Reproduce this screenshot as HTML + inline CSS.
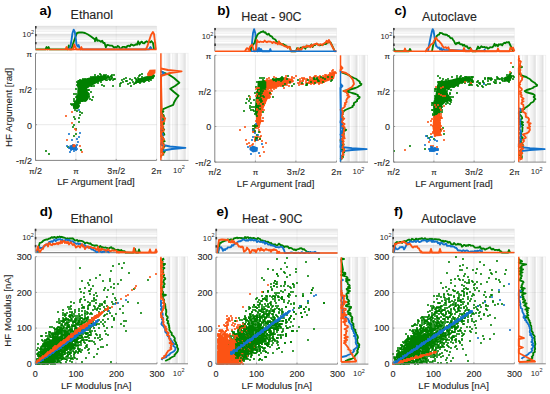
<!DOCTYPE html><html><head><meta charset="utf-8"><style>html,body{margin:0;padding:0;background:#fff;width:550px;height:394px;overflow:hidden}svg{display:block}</style></head><body>
<svg width="550" height="394" viewBox="0 0 550 394" font-family='"Liberation Sans", sans-serif'>
<rect width="550" height="394" fill="#fff"/>
<rect x="35.5" y="26" width="121.1" height="23.4" fill="#ffffff"/>
<line x1="35.5" y1="31.5" x2="156.6" y2="31.5" stroke="#000" stroke-width="0.8" stroke-opacity="0.07" />
<line x1="35.5" y1="30.1" x2="156.6" y2="30.1" stroke="#000" stroke-width="0.8" stroke-opacity="0.07" />
<line x1="35.5" y1="29.2" x2="156.6" y2="29.2" stroke="#000" stroke-width="0.8" stroke-opacity="0.07" />
<line x1="35.5" y1="28.4" x2="156.6" y2="28.4" stroke="#000" stroke-width="0.8" stroke-opacity="0.07" />
<line x1="35.5" y1="27.8" x2="156.6" y2="27.8" stroke="#000" stroke-width="0.8" stroke-opacity="0.07" />
<line x1="35.5" y1="27.2" x2="156.6" y2="27.2" stroke="#000" stroke-width="0.8" stroke-opacity="0.07" />
<line x1="35.5" y1="26.8" x2="156.6" y2="26.8" stroke="#000" stroke-width="0.8" stroke-opacity="0.07" />
<line x1="35.5" y1="26.4" x2="156.6" y2="26.4" stroke="#000" stroke-width="0.8" stroke-opacity="0.07" />
<line x1="35.5" y1="26" x2="156.6" y2="26" stroke="#000" stroke-width="0.6" stroke-opacity="0.06" />
<line x1="35.5" y1="39.5" x2="156.6" y2="39.5" stroke="#000" stroke-width="0.8" stroke-opacity="0.07" />
<line x1="35.5" y1="38.1" x2="156.6" y2="38.1" stroke="#000" stroke-width="0.8" stroke-opacity="0.07" />
<line x1="35.5" y1="37.1" x2="156.6" y2="37.1" stroke="#000" stroke-width="0.8" stroke-opacity="0.07" />
<line x1="35.5" y1="36.3" x2="156.6" y2="36.3" stroke="#000" stroke-width="0.8" stroke-opacity="0.07" />
<line x1="35.5" y1="35.7" x2="156.6" y2="35.7" stroke="#000" stroke-width="0.8" stroke-opacity="0.07" />
<line x1="35.5" y1="35.2" x2="156.6" y2="35.2" stroke="#000" stroke-width="0.8" stroke-opacity="0.07" />
<line x1="35.5" y1="34.7" x2="156.6" y2="34.7" stroke="#000" stroke-width="0.8" stroke-opacity="0.07" />
<line x1="35.5" y1="34.3" x2="156.6" y2="34.3" stroke="#000" stroke-width="0.8" stroke-opacity="0.07" />
<line x1="35.5" y1="33.9" x2="156.6" y2="33.9" stroke="#000" stroke-width="0.6" stroke-opacity="0.06" />
<line x1="35.5" y1="47.4" x2="156.6" y2="47.4" stroke="#000" stroke-width="0.8" stroke-opacity="0.07" />
<line x1="35.5" y1="46" x2="156.6" y2="46" stroke="#000" stroke-width="0.8" stroke-opacity="0.07" />
<line x1="35.5" y1="45" x2="156.6" y2="45" stroke="#000" stroke-width="0.8" stroke-opacity="0.07" />
<line x1="35.5" y1="44.3" x2="156.6" y2="44.3" stroke="#000" stroke-width="0.8" stroke-opacity="0.07" />
<line x1="35.5" y1="43.6" x2="156.6" y2="43.6" stroke="#000" stroke-width="0.8" stroke-opacity="0.07" />
<line x1="35.5" y1="43.1" x2="156.6" y2="43.1" stroke="#000" stroke-width="0.8" stroke-opacity="0.07" />
<line x1="35.5" y1="42.6" x2="156.6" y2="42.6" stroke="#000" stroke-width="0.8" stroke-opacity="0.07" />
<line x1="35.5" y1="42.2" x2="156.6" y2="42.2" stroke="#000" stroke-width="0.8" stroke-opacity="0.07" />
<line x1="35.5" y1="41.9" x2="156.6" y2="41.9" stroke="#000" stroke-width="0.6" stroke-opacity="0.06" />
<line x1="75.9" y1="26" x2="75.9" y2="49.4" stroke="#000" stroke-width="0.6" stroke-opacity="0.08" />
<line x1="116.2" y1="26" x2="116.2" y2="49.4" stroke="#000" stroke-width="0.6" stroke-opacity="0.08" />
<line x1="156.6" y1="26" x2="156.6" y2="49.4" stroke="#000" stroke-width="0.6" stroke-opacity="0.08" />
<rect x="160.6" y="53.3" width="27.9" height="107.1" fill="#ffffff"/>
<line x1="164.7" y1="53.3" x2="164.7" y2="160.4" stroke="#000" stroke-width="0.8" stroke-opacity="0.07" />
<line x1="166.1" y1="53.3" x2="166.1" y2="160.4" stroke="#000" stroke-width="0.8" stroke-opacity="0.07" />
<line x1="167.1" y1="53.3" x2="167.1" y2="160.4" stroke="#000" stroke-width="0.8" stroke-opacity="0.07" />
<line x1="167.8" y1="53.3" x2="167.8" y2="160.4" stroke="#000" stroke-width="0.8" stroke-opacity="0.07" />
<line x1="168.4" y1="53.3" x2="168.4" y2="160.4" stroke="#000" stroke-width="0.8" stroke-opacity="0.07" />
<line x1="168.9" y1="53.3" x2="168.9" y2="160.4" stroke="#000" stroke-width="0.8" stroke-opacity="0.07" />
<line x1="169.4" y1="53.3" x2="169.4" y2="160.4" stroke="#000" stroke-width="0.8" stroke-opacity="0.07" />
<line x1="169.8" y1="53.3" x2="169.8" y2="160.4" stroke="#000" stroke-width="0.8" stroke-opacity="0.07" />
<line x1="162.4" y1="53.3" x2="162.4" y2="160.4" stroke="#000" stroke-width="0.6" stroke-opacity="0.06" />
<line x1="172.5" y1="53.3" x2="172.5" y2="160.4" stroke="#000" stroke-width="0.8" stroke-opacity="0.07" />
<line x1="173.8" y1="53.3" x2="173.8" y2="160.4" stroke="#000" stroke-width="0.8" stroke-opacity="0.07" />
<line x1="174.8" y1="53.3" x2="174.8" y2="160.4" stroke="#000" stroke-width="0.8" stroke-opacity="0.07" />
<line x1="175.6" y1="53.3" x2="175.6" y2="160.4" stroke="#000" stroke-width="0.8" stroke-opacity="0.07" />
<line x1="176.2" y1="53.3" x2="176.2" y2="160.4" stroke="#000" stroke-width="0.8" stroke-opacity="0.07" />
<line x1="176.7" y1="53.3" x2="176.7" y2="160.4" stroke="#000" stroke-width="0.8" stroke-opacity="0.07" />
<line x1="177.1" y1="53.3" x2="177.1" y2="160.4" stroke="#000" stroke-width="0.8" stroke-opacity="0.07" />
<line x1="177.5" y1="53.3" x2="177.5" y2="160.4" stroke="#000" stroke-width="0.8" stroke-opacity="0.07" />
<line x1="170.2" y1="53.3" x2="170.2" y2="160.4" stroke="#000" stroke-width="0.6" stroke-opacity="0.06" />
<line x1="180.2" y1="53.3" x2="180.2" y2="160.4" stroke="#000" stroke-width="0.8" stroke-opacity="0.07" />
<line x1="181.6" y1="53.3" x2="181.6" y2="160.4" stroke="#000" stroke-width="0.8" stroke-opacity="0.07" />
<line x1="182.6" y1="53.3" x2="182.6" y2="160.4" stroke="#000" stroke-width="0.8" stroke-opacity="0.07" />
<line x1="183.3" y1="53.3" x2="183.3" y2="160.4" stroke="#000" stroke-width="0.8" stroke-opacity="0.07" />
<line x1="183.9" y1="53.3" x2="183.9" y2="160.4" stroke="#000" stroke-width="0.8" stroke-opacity="0.07" />
<line x1="184.4" y1="53.3" x2="184.4" y2="160.4" stroke="#000" stroke-width="0.8" stroke-opacity="0.07" />
<line x1="184.9" y1="53.3" x2="184.9" y2="160.4" stroke="#000" stroke-width="0.8" stroke-opacity="0.07" />
<line x1="185.3" y1="53.3" x2="185.3" y2="160.4" stroke="#000" stroke-width="0.8" stroke-opacity="0.07" />
<line x1="177.9" y1="53.3" x2="177.9" y2="160.4" stroke="#000" stroke-width="0.6" stroke-opacity="0.06" />
<line x1="188" y1="53.3" x2="188" y2="160.4" stroke="#000" stroke-width="0.8" stroke-opacity="0.07" />
<line x1="185.7" y1="53.3" x2="185.7" y2="160.4" stroke="#000" stroke-width="0.6" stroke-opacity="0.06" />
<line x1="160.6" y1="53.3" x2="188.5" y2="53.3" stroke="#000" stroke-width="0.6" stroke-opacity="0.08" />
<line x1="160.6" y1="89" x2="188.5" y2="89" stroke="#000" stroke-width="0.6" stroke-opacity="0.08" />
<line x1="160.6" y1="124.7" x2="188.5" y2="124.7" stroke="#000" stroke-width="0.6" stroke-opacity="0.08" />
<line x1="75.9" y1="53.3" x2="75.9" y2="160.4" stroke="#000" stroke-width="0.7" stroke-opacity="0.13" />
<line x1="116.2" y1="53.3" x2="116.2" y2="160.4" stroke="#000" stroke-width="0.7" stroke-opacity="0.13" />
<line x1="156.6" y1="53.3" x2="156.6" y2="160.4" stroke="#000" stroke-width="0.7" stroke-opacity="0.13" />
<line x1="35.5" y1="53.3" x2="156.6" y2="53.3" stroke="#000" stroke-width="0.7" stroke-opacity="0.13" />
<line x1="35.5" y1="89" x2="156.6" y2="89" stroke="#000" stroke-width="0.7" stroke-opacity="0.13" />
<line x1="35.5" y1="124.7" x2="156.6" y2="124.7" stroke="#000" stroke-width="0.7" stroke-opacity="0.13" />
<rect x="214.8" y="27.9" width="121.7" height="23.2" fill="#ffffff"/>
<line x1="214.8" y1="33.4" x2="336.5" y2="33.4" stroke="#000" stroke-width="0.8" stroke-opacity="0.07" />
<line x1="214.8" y1="32" x2="336.5" y2="32" stroke="#000" stroke-width="0.8" stroke-opacity="0.07" />
<line x1="214.8" y1="31" x2="336.5" y2="31" stroke="#000" stroke-width="0.8" stroke-opacity="0.07" />
<line x1="214.8" y1="30.3" x2="336.5" y2="30.3" stroke="#000" stroke-width="0.8" stroke-opacity="0.07" />
<line x1="214.8" y1="29.6" x2="336.5" y2="29.6" stroke="#000" stroke-width="0.8" stroke-opacity="0.07" />
<line x1="214.8" y1="29.1" x2="336.5" y2="29.1" stroke="#000" stroke-width="0.8" stroke-opacity="0.07" />
<line x1="214.8" y1="28.7" x2="336.5" y2="28.7" stroke="#000" stroke-width="0.8" stroke-opacity="0.07" />
<line x1="214.8" y1="28.3" x2="336.5" y2="28.3" stroke="#000" stroke-width="0.8" stroke-opacity="0.07" />
<line x1="214.8" y1="27.9" x2="336.5" y2="27.9" stroke="#000" stroke-width="0.6" stroke-opacity="0.06" />
<line x1="214.8" y1="41.3" x2="336.5" y2="41.3" stroke="#000" stroke-width="0.8" stroke-opacity="0.07" />
<line x1="214.8" y1="39.9" x2="336.5" y2="39.9" stroke="#000" stroke-width="0.8" stroke-opacity="0.07" />
<line x1="214.8" y1="38.9" x2="336.5" y2="38.9" stroke="#000" stroke-width="0.8" stroke-opacity="0.07" />
<line x1="214.8" y1="38.1" x2="336.5" y2="38.1" stroke="#000" stroke-width="0.8" stroke-opacity="0.07" />
<line x1="214.8" y1="37.5" x2="336.5" y2="37.5" stroke="#000" stroke-width="0.8" stroke-opacity="0.07" />
<line x1="214.8" y1="37" x2="336.5" y2="37" stroke="#000" stroke-width="0.8" stroke-opacity="0.07" />
<line x1="214.8" y1="36.5" x2="336.5" y2="36.5" stroke="#000" stroke-width="0.8" stroke-opacity="0.07" />
<line x1="214.8" y1="36.1" x2="336.5" y2="36.1" stroke="#000" stroke-width="0.8" stroke-opacity="0.07" />
<line x1="214.8" y1="35.8" x2="336.5" y2="35.8" stroke="#000" stroke-width="0.6" stroke-opacity="0.06" />
<line x1="214.8" y1="49.1" x2="336.5" y2="49.1" stroke="#000" stroke-width="0.8" stroke-opacity="0.07" />
<line x1="214.8" y1="47.7" x2="336.5" y2="47.7" stroke="#000" stroke-width="0.8" stroke-opacity="0.07" />
<line x1="214.8" y1="46.8" x2="336.5" y2="46.8" stroke="#000" stroke-width="0.8" stroke-opacity="0.07" />
<line x1="214.8" y1="46" x2="336.5" y2="46" stroke="#000" stroke-width="0.8" stroke-opacity="0.07" />
<line x1="214.8" y1="45.4" x2="336.5" y2="45.4" stroke="#000" stroke-width="0.8" stroke-opacity="0.07" />
<line x1="214.8" y1="44.8" x2="336.5" y2="44.8" stroke="#000" stroke-width="0.8" stroke-opacity="0.07" />
<line x1="214.8" y1="44.4" x2="336.5" y2="44.4" stroke="#000" stroke-width="0.8" stroke-opacity="0.07" />
<line x1="214.8" y1="44" x2="336.5" y2="44" stroke="#000" stroke-width="0.8" stroke-opacity="0.07" />
<line x1="214.8" y1="43.6" x2="336.5" y2="43.6" stroke="#000" stroke-width="0.6" stroke-opacity="0.06" />
<line x1="255.4" y1="27.9" x2="255.4" y2="51.1" stroke="#000" stroke-width="0.6" stroke-opacity="0.08" />
<line x1="295.9" y1="27.9" x2="295.9" y2="51.1" stroke="#000" stroke-width="0.6" stroke-opacity="0.08" />
<line x1="336.5" y1="27.9" x2="336.5" y2="51.1" stroke="#000" stroke-width="0.6" stroke-opacity="0.08" />
<rect x="340.1" y="55.3" width="27.9" height="106.8" fill="#ffffff"/>
<line x1="344.2" y1="55.3" x2="344.2" y2="162.1" stroke="#000" stroke-width="0.8" stroke-opacity="0.07" />
<line x1="345.6" y1="55.3" x2="345.6" y2="162.1" stroke="#000" stroke-width="0.8" stroke-opacity="0.07" />
<line x1="346.6" y1="55.3" x2="346.6" y2="162.1" stroke="#000" stroke-width="0.8" stroke-opacity="0.07" />
<line x1="347.3" y1="55.3" x2="347.3" y2="162.1" stroke="#000" stroke-width="0.8" stroke-opacity="0.07" />
<line x1="347.9" y1="55.3" x2="347.9" y2="162.1" stroke="#000" stroke-width="0.8" stroke-opacity="0.07" />
<line x1="348.4" y1="55.3" x2="348.4" y2="162.1" stroke="#000" stroke-width="0.8" stroke-opacity="0.07" />
<line x1="348.9" y1="55.3" x2="348.9" y2="162.1" stroke="#000" stroke-width="0.8" stroke-opacity="0.07" />
<line x1="349.3" y1="55.3" x2="349.3" y2="162.1" stroke="#000" stroke-width="0.8" stroke-opacity="0.07" />
<line x1="341.9" y1="55.3" x2="341.9" y2="162.1" stroke="#000" stroke-width="0.6" stroke-opacity="0.06" />
<line x1="352" y1="55.3" x2="352" y2="162.1" stroke="#000" stroke-width="0.8" stroke-opacity="0.07" />
<line x1="353.3" y1="55.3" x2="353.3" y2="162.1" stroke="#000" stroke-width="0.8" stroke-opacity="0.07" />
<line x1="354.3" y1="55.3" x2="354.3" y2="162.1" stroke="#000" stroke-width="0.8" stroke-opacity="0.07" />
<line x1="355.1" y1="55.3" x2="355.1" y2="162.1" stroke="#000" stroke-width="0.8" stroke-opacity="0.07" />
<line x1="355.7" y1="55.3" x2="355.7" y2="162.1" stroke="#000" stroke-width="0.8" stroke-opacity="0.07" />
<line x1="356.2" y1="55.3" x2="356.2" y2="162.1" stroke="#000" stroke-width="0.8" stroke-opacity="0.07" />
<line x1="356.6" y1="55.3" x2="356.6" y2="162.1" stroke="#000" stroke-width="0.8" stroke-opacity="0.07" />
<line x1="357" y1="55.3" x2="357" y2="162.1" stroke="#000" stroke-width="0.8" stroke-opacity="0.07" />
<line x1="349.7" y1="55.3" x2="349.7" y2="162.1" stroke="#000" stroke-width="0.6" stroke-opacity="0.06" />
<line x1="359.7" y1="55.3" x2="359.7" y2="162.1" stroke="#000" stroke-width="0.8" stroke-opacity="0.07" />
<line x1="361.1" y1="55.3" x2="361.1" y2="162.1" stroke="#000" stroke-width="0.8" stroke-opacity="0.07" />
<line x1="362.1" y1="55.3" x2="362.1" y2="162.1" stroke="#000" stroke-width="0.8" stroke-opacity="0.07" />
<line x1="362.8" y1="55.3" x2="362.8" y2="162.1" stroke="#000" stroke-width="0.8" stroke-opacity="0.07" />
<line x1="363.4" y1="55.3" x2="363.4" y2="162.1" stroke="#000" stroke-width="0.8" stroke-opacity="0.07" />
<line x1="363.9" y1="55.3" x2="363.9" y2="162.1" stroke="#000" stroke-width="0.8" stroke-opacity="0.07" />
<line x1="364.4" y1="55.3" x2="364.4" y2="162.1" stroke="#000" stroke-width="0.8" stroke-opacity="0.07" />
<line x1="364.8" y1="55.3" x2="364.8" y2="162.1" stroke="#000" stroke-width="0.8" stroke-opacity="0.07" />
<line x1="357.4" y1="55.3" x2="357.4" y2="162.1" stroke="#000" stroke-width="0.6" stroke-opacity="0.06" />
<line x1="367.5" y1="55.3" x2="367.5" y2="162.1" stroke="#000" stroke-width="0.8" stroke-opacity="0.07" />
<line x1="365.2" y1="55.3" x2="365.2" y2="162.1" stroke="#000" stroke-width="0.6" stroke-opacity="0.06" />
<line x1="340.1" y1="55.3" x2="368" y2="55.3" stroke="#000" stroke-width="0.6" stroke-opacity="0.08" />
<line x1="340.1" y1="90.9" x2="368" y2="90.9" stroke="#000" stroke-width="0.6" stroke-opacity="0.08" />
<line x1="340.1" y1="126.5" x2="368" y2="126.5" stroke="#000" stroke-width="0.6" stroke-opacity="0.08" />
<line x1="255.4" y1="55.3" x2="255.4" y2="162.1" stroke="#000" stroke-width="0.7" stroke-opacity="0.13" />
<line x1="295.9" y1="55.3" x2="295.9" y2="162.1" stroke="#000" stroke-width="0.7" stroke-opacity="0.13" />
<line x1="336.5" y1="55.3" x2="336.5" y2="162.1" stroke="#000" stroke-width="0.7" stroke-opacity="0.13" />
<line x1="214.8" y1="55.3" x2="336.5" y2="55.3" stroke="#000" stroke-width="0.7" stroke-opacity="0.13" />
<line x1="214.8" y1="90.9" x2="336.5" y2="90.9" stroke="#000" stroke-width="0.7" stroke-opacity="0.13" />
<line x1="214.8" y1="126.5" x2="336.5" y2="126.5" stroke="#000" stroke-width="0.7" stroke-opacity="0.13" />
<rect x="393.6" y="27.9" width="120.8" height="23.2" fill="#ffffff"/>
<line x1="393.6" y1="33.4" x2="514.4" y2="33.4" stroke="#000" stroke-width="0.8" stroke-opacity="0.07" />
<line x1="393.6" y1="32" x2="514.4" y2="32" stroke="#000" stroke-width="0.8" stroke-opacity="0.07" />
<line x1="393.6" y1="31" x2="514.4" y2="31" stroke="#000" stroke-width="0.8" stroke-opacity="0.07" />
<line x1="393.6" y1="30.3" x2="514.4" y2="30.3" stroke="#000" stroke-width="0.8" stroke-opacity="0.07" />
<line x1="393.6" y1="29.6" x2="514.4" y2="29.6" stroke="#000" stroke-width="0.8" stroke-opacity="0.07" />
<line x1="393.6" y1="29.1" x2="514.4" y2="29.1" stroke="#000" stroke-width="0.8" stroke-opacity="0.07" />
<line x1="393.6" y1="28.7" x2="514.4" y2="28.7" stroke="#000" stroke-width="0.8" stroke-opacity="0.07" />
<line x1="393.6" y1="28.3" x2="514.4" y2="28.3" stroke="#000" stroke-width="0.8" stroke-opacity="0.07" />
<line x1="393.6" y1="27.9" x2="514.4" y2="27.9" stroke="#000" stroke-width="0.6" stroke-opacity="0.06" />
<line x1="393.6" y1="41.3" x2="514.4" y2="41.3" stroke="#000" stroke-width="0.8" stroke-opacity="0.07" />
<line x1="393.6" y1="39.9" x2="514.4" y2="39.9" stroke="#000" stroke-width="0.8" stroke-opacity="0.07" />
<line x1="393.6" y1="38.9" x2="514.4" y2="38.9" stroke="#000" stroke-width="0.8" stroke-opacity="0.07" />
<line x1="393.6" y1="38.1" x2="514.4" y2="38.1" stroke="#000" stroke-width="0.8" stroke-opacity="0.07" />
<line x1="393.6" y1="37.5" x2="514.4" y2="37.5" stroke="#000" stroke-width="0.8" stroke-opacity="0.07" />
<line x1="393.6" y1="37" x2="514.4" y2="37" stroke="#000" stroke-width="0.8" stroke-opacity="0.07" />
<line x1="393.6" y1="36.5" x2="514.4" y2="36.5" stroke="#000" stroke-width="0.8" stroke-opacity="0.07" />
<line x1="393.6" y1="36.1" x2="514.4" y2="36.1" stroke="#000" stroke-width="0.8" stroke-opacity="0.07" />
<line x1="393.6" y1="35.8" x2="514.4" y2="35.8" stroke="#000" stroke-width="0.6" stroke-opacity="0.06" />
<line x1="393.6" y1="49.1" x2="514.4" y2="49.1" stroke="#000" stroke-width="0.8" stroke-opacity="0.07" />
<line x1="393.6" y1="47.7" x2="514.4" y2="47.7" stroke="#000" stroke-width="0.8" stroke-opacity="0.07" />
<line x1="393.6" y1="46.8" x2="514.4" y2="46.8" stroke="#000" stroke-width="0.8" stroke-opacity="0.07" />
<line x1="393.6" y1="46" x2="514.4" y2="46" stroke="#000" stroke-width="0.8" stroke-opacity="0.07" />
<line x1="393.6" y1="45.4" x2="514.4" y2="45.4" stroke="#000" stroke-width="0.8" stroke-opacity="0.07" />
<line x1="393.6" y1="44.8" x2="514.4" y2="44.8" stroke="#000" stroke-width="0.8" stroke-opacity="0.07" />
<line x1="393.6" y1="44.4" x2="514.4" y2="44.4" stroke="#000" stroke-width="0.8" stroke-opacity="0.07" />
<line x1="393.6" y1="44" x2="514.4" y2="44" stroke="#000" stroke-width="0.8" stroke-opacity="0.07" />
<line x1="393.6" y1="43.6" x2="514.4" y2="43.6" stroke="#000" stroke-width="0.6" stroke-opacity="0.06" />
<line x1="433.9" y1="27.9" x2="433.9" y2="51.1" stroke="#000" stroke-width="0.6" stroke-opacity="0.08" />
<line x1="474.1" y1="27.9" x2="474.1" y2="51.1" stroke="#000" stroke-width="0.6" stroke-opacity="0.08" />
<line x1="514.4" y1="27.9" x2="514.4" y2="51.1" stroke="#000" stroke-width="0.6" stroke-opacity="0.08" />
<rect x="518.4" y="55.3" width="27.8" height="106.8" fill="#ffffff"/>
<line x1="522.5" y1="55.3" x2="522.5" y2="162.1" stroke="#000" stroke-width="0.8" stroke-opacity="0.07" />
<line x1="523.9" y1="55.3" x2="523.9" y2="162.1" stroke="#000" stroke-width="0.8" stroke-opacity="0.07" />
<line x1="524.8" y1="55.3" x2="524.8" y2="162.1" stroke="#000" stroke-width="0.8" stroke-opacity="0.07" />
<line x1="525.6" y1="55.3" x2="525.6" y2="162.1" stroke="#000" stroke-width="0.8" stroke-opacity="0.07" />
<line x1="526.2" y1="55.3" x2="526.2" y2="162.1" stroke="#000" stroke-width="0.8" stroke-opacity="0.07" />
<line x1="526.7" y1="55.3" x2="526.7" y2="162.1" stroke="#000" stroke-width="0.8" stroke-opacity="0.07" />
<line x1="527.2" y1="55.3" x2="527.2" y2="162.1" stroke="#000" stroke-width="0.8" stroke-opacity="0.07" />
<line x1="527.6" y1="55.3" x2="527.6" y2="162.1" stroke="#000" stroke-width="0.8" stroke-opacity="0.07" />
<line x1="520.2" y1="55.3" x2="520.2" y2="162.1" stroke="#000" stroke-width="0.6" stroke-opacity="0.06" />
<line x1="530.2" y1="55.3" x2="530.2" y2="162.1" stroke="#000" stroke-width="0.8" stroke-opacity="0.07" />
<line x1="531.6" y1="55.3" x2="531.6" y2="162.1" stroke="#000" stroke-width="0.8" stroke-opacity="0.07" />
<line x1="532.6" y1="55.3" x2="532.6" y2="162.1" stroke="#000" stroke-width="0.8" stroke-opacity="0.07" />
<line x1="533.3" y1="55.3" x2="533.3" y2="162.1" stroke="#000" stroke-width="0.8" stroke-opacity="0.07" />
<line x1="533.9" y1="55.3" x2="533.9" y2="162.1" stroke="#000" stroke-width="0.8" stroke-opacity="0.07" />
<line x1="534.4" y1="55.3" x2="534.4" y2="162.1" stroke="#000" stroke-width="0.8" stroke-opacity="0.07" />
<line x1="534.9" y1="55.3" x2="534.9" y2="162.1" stroke="#000" stroke-width="0.8" stroke-opacity="0.07" />
<line x1="535.3" y1="55.3" x2="535.3" y2="162.1" stroke="#000" stroke-width="0.8" stroke-opacity="0.07" />
<line x1="527.9" y1="55.3" x2="527.9" y2="162.1" stroke="#000" stroke-width="0.6" stroke-opacity="0.06" />
<line x1="538" y1="55.3" x2="538" y2="162.1" stroke="#000" stroke-width="0.8" stroke-opacity="0.07" />
<line x1="539.3" y1="55.3" x2="539.3" y2="162.1" stroke="#000" stroke-width="0.8" stroke-opacity="0.07" />
<line x1="540.3" y1="55.3" x2="540.3" y2="162.1" stroke="#000" stroke-width="0.8" stroke-opacity="0.07" />
<line x1="541" y1="55.3" x2="541" y2="162.1" stroke="#000" stroke-width="0.8" stroke-opacity="0.07" />
<line x1="541.7" y1="55.3" x2="541.7" y2="162.1" stroke="#000" stroke-width="0.8" stroke-opacity="0.07" />
<line x1="542.2" y1="55.3" x2="542.2" y2="162.1" stroke="#000" stroke-width="0.8" stroke-opacity="0.07" />
<line x1="542.6" y1="55.3" x2="542.6" y2="162.1" stroke="#000" stroke-width="0.8" stroke-opacity="0.07" />
<line x1="543" y1="55.3" x2="543" y2="162.1" stroke="#000" stroke-width="0.8" stroke-opacity="0.07" />
<line x1="535.6" y1="55.3" x2="535.6" y2="162.1" stroke="#000" stroke-width="0.6" stroke-opacity="0.06" />
<line x1="545.7" y1="55.3" x2="545.7" y2="162.1" stroke="#000" stroke-width="0.8" stroke-opacity="0.07" />
<line x1="543.4" y1="55.3" x2="543.4" y2="162.1" stroke="#000" stroke-width="0.6" stroke-opacity="0.06" />
<line x1="518.4" y1="55.3" x2="546.2" y2="55.3" stroke="#000" stroke-width="0.6" stroke-opacity="0.08" />
<line x1="518.4" y1="90.9" x2="546.2" y2="90.9" stroke="#000" stroke-width="0.6" stroke-opacity="0.08" />
<line x1="518.4" y1="126.5" x2="546.2" y2="126.5" stroke="#000" stroke-width="0.6" stroke-opacity="0.08" />
<line x1="433.9" y1="55.3" x2="433.9" y2="162.1" stroke="#000" stroke-width="0.7" stroke-opacity="0.13" />
<line x1="474.1" y1="55.3" x2="474.1" y2="162.1" stroke="#000" stroke-width="0.7" stroke-opacity="0.13" />
<line x1="514.4" y1="55.3" x2="514.4" y2="162.1" stroke="#000" stroke-width="0.7" stroke-opacity="0.13" />
<line x1="393.6" y1="55.3" x2="514.4" y2="55.3" stroke="#000" stroke-width="0.7" stroke-opacity="0.13" />
<line x1="393.6" y1="90.9" x2="514.4" y2="90.9" stroke="#000" stroke-width="0.7" stroke-opacity="0.13" />
<line x1="393.6" y1="126.5" x2="514.4" y2="126.5" stroke="#000" stroke-width="0.7" stroke-opacity="0.13" />
<rect x="35.3" y="228.8" width="121.7" height="23.8" fill="#ffffff"/>
<line x1="35.3" y1="234.4" x2="157" y2="234.4" stroke="#000" stroke-width="0.8" stroke-opacity="0.07" />
<line x1="35.3" y1="233" x2="157" y2="233" stroke="#000" stroke-width="0.8" stroke-opacity="0.07" />
<line x1="35.3" y1="232" x2="157" y2="232" stroke="#000" stroke-width="0.8" stroke-opacity="0.07" />
<line x1="35.3" y1="231.2" x2="157" y2="231.2" stroke="#000" stroke-width="0.8" stroke-opacity="0.07" />
<line x1="35.3" y1="230.6" x2="157" y2="230.6" stroke="#000" stroke-width="0.8" stroke-opacity="0.07" />
<line x1="35.3" y1="230" x2="157" y2="230" stroke="#000" stroke-width="0.8" stroke-opacity="0.07" />
<line x1="35.3" y1="229.6" x2="157" y2="229.6" stroke="#000" stroke-width="0.8" stroke-opacity="0.07" />
<line x1="35.3" y1="229.2" x2="157" y2="229.2" stroke="#000" stroke-width="0.8" stroke-opacity="0.07" />
<line x1="35.3" y1="228.8" x2="157" y2="228.8" stroke="#000" stroke-width="0.6" stroke-opacity="0.06" />
<line x1="35.3" y1="242.5" x2="157" y2="242.5" stroke="#000" stroke-width="0.8" stroke-opacity="0.07" />
<line x1="35.3" y1="241.1" x2="157" y2="241.1" stroke="#000" stroke-width="0.8" stroke-opacity="0.07" />
<line x1="35.3" y1="240.1" x2="157" y2="240.1" stroke="#000" stroke-width="0.8" stroke-opacity="0.07" />
<line x1="35.3" y1="239.3" x2="157" y2="239.3" stroke="#000" stroke-width="0.8" stroke-opacity="0.07" />
<line x1="35.3" y1="238.7" x2="157" y2="238.7" stroke="#000" stroke-width="0.8" stroke-opacity="0.07" />
<line x1="35.3" y1="238.1" x2="157" y2="238.1" stroke="#000" stroke-width="0.8" stroke-opacity="0.07" />
<line x1="35.3" y1="237.6" x2="157" y2="237.6" stroke="#000" stroke-width="0.8" stroke-opacity="0.07" />
<line x1="35.3" y1="237.2" x2="157" y2="237.2" stroke="#000" stroke-width="0.8" stroke-opacity="0.07" />
<line x1="35.3" y1="236.9" x2="157" y2="236.9" stroke="#000" stroke-width="0.6" stroke-opacity="0.06" />
<line x1="35.3" y1="250.6" x2="157" y2="250.6" stroke="#000" stroke-width="0.8" stroke-opacity="0.07" />
<line x1="35.3" y1="249.2" x2="157" y2="249.2" stroke="#000" stroke-width="0.8" stroke-opacity="0.07" />
<line x1="35.3" y1="248.1" x2="157" y2="248.1" stroke="#000" stroke-width="0.8" stroke-opacity="0.07" />
<line x1="35.3" y1="247.4" x2="157" y2="247.4" stroke="#000" stroke-width="0.8" stroke-opacity="0.07" />
<line x1="35.3" y1="246.7" x2="157" y2="246.7" stroke="#000" stroke-width="0.8" stroke-opacity="0.07" />
<line x1="35.3" y1="246.2" x2="157" y2="246.2" stroke="#000" stroke-width="0.8" stroke-opacity="0.07" />
<line x1="35.3" y1="245.7" x2="157" y2="245.7" stroke="#000" stroke-width="0.8" stroke-opacity="0.07" />
<line x1="35.3" y1="245.3" x2="157" y2="245.3" stroke="#000" stroke-width="0.8" stroke-opacity="0.07" />
<line x1="35.3" y1="244.9" x2="157" y2="244.9" stroke="#000" stroke-width="0.6" stroke-opacity="0.06" />
<line x1="75.9" y1="228.8" x2="75.9" y2="252.6" stroke="#000" stroke-width="0.6" stroke-opacity="0.08" />
<line x1="116.4" y1="228.8" x2="116.4" y2="252.6" stroke="#000" stroke-width="0.6" stroke-opacity="0.08" />
<line x1="157" y1="228.8" x2="157" y2="252.6" stroke="#000" stroke-width="0.6" stroke-opacity="0.08" />
<rect x="160.6" y="256.7" width="27.4" height="107.1" fill="#ffffff"/>
<line x1="164.7" y1="256.7" x2="164.7" y2="363.8" stroke="#000" stroke-width="0.8" stroke-opacity="0.07" />
<line x1="166" y1="256.7" x2="166" y2="363.8" stroke="#000" stroke-width="0.8" stroke-opacity="0.07" />
<line x1="167" y1="256.7" x2="167" y2="363.8" stroke="#000" stroke-width="0.8" stroke-opacity="0.07" />
<line x1="167.7" y1="256.7" x2="167.7" y2="363.8" stroke="#000" stroke-width="0.8" stroke-opacity="0.07" />
<line x1="168.3" y1="256.7" x2="168.3" y2="363.8" stroke="#000" stroke-width="0.8" stroke-opacity="0.07" />
<line x1="168.8" y1="256.7" x2="168.8" y2="363.8" stroke="#000" stroke-width="0.8" stroke-opacity="0.07" />
<line x1="169.3" y1="256.7" x2="169.3" y2="363.8" stroke="#000" stroke-width="0.8" stroke-opacity="0.07" />
<line x1="169.7" y1="256.7" x2="169.7" y2="363.8" stroke="#000" stroke-width="0.8" stroke-opacity="0.07" />
<line x1="162.4" y1="256.7" x2="162.4" y2="363.8" stroke="#000" stroke-width="0.6" stroke-opacity="0.06" />
<line x1="172.3" y1="256.7" x2="172.3" y2="363.8" stroke="#000" stroke-width="0.8" stroke-opacity="0.07" />
<line x1="173.6" y1="256.7" x2="173.6" y2="363.8" stroke="#000" stroke-width="0.8" stroke-opacity="0.07" />
<line x1="174.6" y1="256.7" x2="174.6" y2="363.8" stroke="#000" stroke-width="0.8" stroke-opacity="0.07" />
<line x1="175.3" y1="256.7" x2="175.3" y2="363.8" stroke="#000" stroke-width="0.8" stroke-opacity="0.07" />
<line x1="175.9" y1="256.7" x2="175.9" y2="363.8" stroke="#000" stroke-width="0.8" stroke-opacity="0.07" />
<line x1="176.4" y1="256.7" x2="176.4" y2="363.8" stroke="#000" stroke-width="0.8" stroke-opacity="0.07" />
<line x1="176.9" y1="256.7" x2="176.9" y2="363.8" stroke="#000" stroke-width="0.8" stroke-opacity="0.07" />
<line x1="177.3" y1="256.7" x2="177.3" y2="363.8" stroke="#000" stroke-width="0.8" stroke-opacity="0.07" />
<line x1="170" y1="256.7" x2="170" y2="363.8" stroke="#000" stroke-width="0.6" stroke-opacity="0.06" />
<line x1="179.9" y1="256.7" x2="179.9" y2="363.8" stroke="#000" stroke-width="0.8" stroke-opacity="0.07" />
<line x1="181.3" y1="256.7" x2="181.3" y2="363.8" stroke="#000" stroke-width="0.8" stroke-opacity="0.07" />
<line x1="182.2" y1="256.7" x2="182.2" y2="363.8" stroke="#000" stroke-width="0.8" stroke-opacity="0.07" />
<line x1="182.9" y1="256.7" x2="182.9" y2="363.8" stroke="#000" stroke-width="0.8" stroke-opacity="0.07" />
<line x1="183.5" y1="256.7" x2="183.5" y2="363.8" stroke="#000" stroke-width="0.8" stroke-opacity="0.07" />
<line x1="184.1" y1="256.7" x2="184.1" y2="363.8" stroke="#000" stroke-width="0.8" stroke-opacity="0.07" />
<line x1="184.5" y1="256.7" x2="184.5" y2="363.8" stroke="#000" stroke-width="0.8" stroke-opacity="0.07" />
<line x1="184.9" y1="256.7" x2="184.9" y2="363.8" stroke="#000" stroke-width="0.8" stroke-opacity="0.07" />
<line x1="177.6" y1="256.7" x2="177.6" y2="363.8" stroke="#000" stroke-width="0.6" stroke-opacity="0.06" />
<line x1="187.5" y1="256.7" x2="187.5" y2="363.8" stroke="#000" stroke-width="0.8" stroke-opacity="0.07" />
<line x1="185.2" y1="256.7" x2="185.2" y2="363.8" stroke="#000" stroke-width="0.6" stroke-opacity="0.06" />
<line x1="160.6" y1="256.7" x2="188" y2="256.7" stroke="#000" stroke-width="0.6" stroke-opacity="0.08" />
<line x1="160.6" y1="292.4" x2="188" y2="292.4" stroke="#000" stroke-width="0.6" stroke-opacity="0.08" />
<line x1="160.6" y1="328.1" x2="188" y2="328.1" stroke="#000" stroke-width="0.6" stroke-opacity="0.08" />
<line x1="75.9" y1="256.7" x2="75.9" y2="363.8" stroke="#000" stroke-width="0.7" stroke-opacity="0.13" />
<line x1="116.4" y1="256.7" x2="116.4" y2="363.8" stroke="#000" stroke-width="0.7" stroke-opacity="0.13" />
<line x1="157" y1="256.7" x2="157" y2="363.8" stroke="#000" stroke-width="0.7" stroke-opacity="0.13" />
<line x1="35.3" y1="256.7" x2="157" y2="256.7" stroke="#000" stroke-width="0.7" stroke-opacity="0.13" />
<line x1="35.3" y1="292.4" x2="157" y2="292.4" stroke="#000" stroke-width="0.7" stroke-opacity="0.13" />
<line x1="35.3" y1="328.1" x2="157" y2="328.1" stroke="#000" stroke-width="0.7" stroke-opacity="0.13" />
<rect x="216" y="228.8" width="121.5" height="24.2" fill="#ffffff"/>
<line x1="216" y1="234.5" x2="337.5" y2="234.5" stroke="#000" stroke-width="0.8" stroke-opacity="0.07" />
<line x1="216" y1="233.1" x2="337.5" y2="233.1" stroke="#000" stroke-width="0.8" stroke-opacity="0.07" />
<line x1="216" y1="232.1" x2="337.5" y2="232.1" stroke="#000" stroke-width="0.8" stroke-opacity="0.07" />
<line x1="216" y1="231.3" x2="337.5" y2="231.3" stroke="#000" stroke-width="0.8" stroke-opacity="0.07" />
<line x1="216" y1="230.6" x2="337.5" y2="230.6" stroke="#000" stroke-width="0.8" stroke-opacity="0.07" />
<line x1="216" y1="230.1" x2="337.5" y2="230.1" stroke="#000" stroke-width="0.8" stroke-opacity="0.07" />
<line x1="216" y1="229.6" x2="337.5" y2="229.6" stroke="#000" stroke-width="0.8" stroke-opacity="0.07" />
<line x1="216" y1="229.2" x2="337.5" y2="229.2" stroke="#000" stroke-width="0.8" stroke-opacity="0.07" />
<line x1="216" y1="228.8" x2="337.5" y2="228.8" stroke="#000" stroke-width="0.6" stroke-opacity="0.06" />
<line x1="216" y1="242.7" x2="337.5" y2="242.7" stroke="#000" stroke-width="0.8" stroke-opacity="0.07" />
<line x1="216" y1="241.3" x2="337.5" y2="241.3" stroke="#000" stroke-width="0.8" stroke-opacity="0.07" />
<line x1="216" y1="240.3" x2="337.5" y2="240.3" stroke="#000" stroke-width="0.8" stroke-opacity="0.07" />
<line x1="216" y1="239.5" x2="337.5" y2="239.5" stroke="#000" stroke-width="0.8" stroke-opacity="0.07" />
<line x1="216" y1="238.8" x2="337.5" y2="238.8" stroke="#000" stroke-width="0.8" stroke-opacity="0.07" />
<line x1="216" y1="238.3" x2="337.5" y2="238.3" stroke="#000" stroke-width="0.8" stroke-opacity="0.07" />
<line x1="216" y1="237.8" x2="337.5" y2="237.8" stroke="#000" stroke-width="0.8" stroke-opacity="0.07" />
<line x1="216" y1="237.4" x2="337.5" y2="237.4" stroke="#000" stroke-width="0.8" stroke-opacity="0.07" />
<line x1="216" y1="237" x2="337.5" y2="237" stroke="#000" stroke-width="0.6" stroke-opacity="0.06" />
<line x1="216" y1="250.9" x2="337.5" y2="250.9" stroke="#000" stroke-width="0.8" stroke-opacity="0.07" />
<line x1="216" y1="249.5" x2="337.5" y2="249.5" stroke="#000" stroke-width="0.8" stroke-opacity="0.07" />
<line x1="216" y1="248.5" x2="337.5" y2="248.5" stroke="#000" stroke-width="0.8" stroke-opacity="0.07" />
<line x1="216" y1="247.7" x2="337.5" y2="247.7" stroke="#000" stroke-width="0.8" stroke-opacity="0.07" />
<line x1="216" y1="247" x2="337.5" y2="247" stroke="#000" stroke-width="0.8" stroke-opacity="0.07" />
<line x1="216" y1="246.5" x2="337.5" y2="246.5" stroke="#000" stroke-width="0.8" stroke-opacity="0.07" />
<line x1="216" y1="246" x2="337.5" y2="246" stroke="#000" stroke-width="0.8" stroke-opacity="0.07" />
<line x1="216" y1="245.6" x2="337.5" y2="245.6" stroke="#000" stroke-width="0.8" stroke-opacity="0.07" />
<line x1="216" y1="245.2" x2="337.5" y2="245.2" stroke="#000" stroke-width="0.6" stroke-opacity="0.06" />
<line x1="256.5" y1="228.8" x2="256.5" y2="253" stroke="#000" stroke-width="0.6" stroke-opacity="0.08" />
<line x1="297" y1="228.8" x2="297" y2="253" stroke="#000" stroke-width="0.6" stroke-opacity="0.08" />
<line x1="337.5" y1="228.8" x2="337.5" y2="253" stroke="#000" stroke-width="0.6" stroke-opacity="0.08" />
<rect x="340.8" y="257.2" width="27.6" height="106.9" fill="#ffffff"/>
<line x1="344.9" y1="257.2" x2="344.9" y2="364.1" stroke="#000" stroke-width="0.8" stroke-opacity="0.07" />
<line x1="346.3" y1="257.2" x2="346.3" y2="364.1" stroke="#000" stroke-width="0.8" stroke-opacity="0.07" />
<line x1="347.2" y1="257.2" x2="347.2" y2="364.1" stroke="#000" stroke-width="0.8" stroke-opacity="0.07" />
<line x1="348" y1="257.2" x2="348" y2="364.1" stroke="#000" stroke-width="0.8" stroke-opacity="0.07" />
<line x1="348.6" y1="257.2" x2="348.6" y2="364.1" stroke="#000" stroke-width="0.8" stroke-opacity="0.07" />
<line x1="349.1" y1="257.2" x2="349.1" y2="364.1" stroke="#000" stroke-width="0.8" stroke-opacity="0.07" />
<line x1="349.5" y1="257.2" x2="349.5" y2="364.1" stroke="#000" stroke-width="0.8" stroke-opacity="0.07" />
<line x1="349.9" y1="257.2" x2="349.9" y2="364.1" stroke="#000" stroke-width="0.8" stroke-opacity="0.07" />
<line x1="342.6" y1="257.2" x2="342.6" y2="364.1" stroke="#000" stroke-width="0.6" stroke-opacity="0.06" />
<line x1="352.6" y1="257.2" x2="352.6" y2="364.1" stroke="#000" stroke-width="0.8" stroke-opacity="0.07" />
<line x1="353.9" y1="257.2" x2="353.9" y2="364.1" stroke="#000" stroke-width="0.8" stroke-opacity="0.07" />
<line x1="354.9" y1="257.2" x2="354.9" y2="364.1" stroke="#000" stroke-width="0.8" stroke-opacity="0.07" />
<line x1="355.6" y1="257.2" x2="355.6" y2="364.1" stroke="#000" stroke-width="0.8" stroke-opacity="0.07" />
<line x1="356.2" y1="257.2" x2="356.2" y2="364.1" stroke="#000" stroke-width="0.8" stroke-opacity="0.07" />
<line x1="356.7" y1="257.2" x2="356.7" y2="364.1" stroke="#000" stroke-width="0.8" stroke-opacity="0.07" />
<line x1="357.2" y1="257.2" x2="357.2" y2="364.1" stroke="#000" stroke-width="0.8" stroke-opacity="0.07" />
<line x1="357.6" y1="257.2" x2="357.6" y2="364.1" stroke="#000" stroke-width="0.8" stroke-opacity="0.07" />
<line x1="350.3" y1="257.2" x2="350.3" y2="364.1" stroke="#000" stroke-width="0.6" stroke-opacity="0.06" />
<line x1="360.2" y1="257.2" x2="360.2" y2="364.1" stroke="#000" stroke-width="0.8" stroke-opacity="0.07" />
<line x1="361.6" y1="257.2" x2="361.6" y2="364.1" stroke="#000" stroke-width="0.8" stroke-opacity="0.07" />
<line x1="362.5" y1="257.2" x2="362.5" y2="364.1" stroke="#000" stroke-width="0.8" stroke-opacity="0.07" />
<line x1="363.3" y1="257.2" x2="363.3" y2="364.1" stroke="#000" stroke-width="0.8" stroke-opacity="0.07" />
<line x1="363.9" y1="257.2" x2="363.9" y2="364.1" stroke="#000" stroke-width="0.8" stroke-opacity="0.07" />
<line x1="364.4" y1="257.2" x2="364.4" y2="364.1" stroke="#000" stroke-width="0.8" stroke-opacity="0.07" />
<line x1="364.9" y1="257.2" x2="364.9" y2="364.1" stroke="#000" stroke-width="0.8" stroke-opacity="0.07" />
<line x1="365.2" y1="257.2" x2="365.2" y2="364.1" stroke="#000" stroke-width="0.8" stroke-opacity="0.07" />
<line x1="357.9" y1="257.2" x2="357.9" y2="364.1" stroke="#000" stroke-width="0.6" stroke-opacity="0.06" />
<line x1="367.9" y1="257.2" x2="367.9" y2="364.1" stroke="#000" stroke-width="0.8" stroke-opacity="0.07" />
<line x1="365.6" y1="257.2" x2="365.6" y2="364.1" stroke="#000" stroke-width="0.6" stroke-opacity="0.06" />
<line x1="340.8" y1="257.2" x2="368.4" y2="257.2" stroke="#000" stroke-width="0.6" stroke-opacity="0.08" />
<line x1="340.8" y1="292.8" x2="368.4" y2="292.8" stroke="#000" stroke-width="0.6" stroke-opacity="0.08" />
<line x1="340.8" y1="328.5" x2="368.4" y2="328.5" stroke="#000" stroke-width="0.6" stroke-opacity="0.08" />
<line x1="256.5" y1="257.2" x2="256.5" y2="364.1" stroke="#000" stroke-width="0.7" stroke-opacity="0.13" />
<line x1="297" y1="257.2" x2="297" y2="364.1" stroke="#000" stroke-width="0.7" stroke-opacity="0.13" />
<line x1="337.5" y1="257.2" x2="337.5" y2="364.1" stroke="#000" stroke-width="0.7" stroke-opacity="0.13" />
<line x1="216" y1="257.2" x2="337.5" y2="257.2" stroke="#000" stroke-width="0.7" stroke-opacity="0.13" />
<line x1="216" y1="292.8" x2="337.5" y2="292.8" stroke="#000" stroke-width="0.7" stroke-opacity="0.13" />
<line x1="216" y1="328.5" x2="337.5" y2="328.5" stroke="#000" stroke-width="0.7" stroke-opacity="0.13" />
<rect x="392.9" y="228.8" width="121.5" height="23.8" fill="#ffffff"/>
<line x1="392.9" y1="234.4" x2="514.4" y2="234.4" stroke="#000" stroke-width="0.8" stroke-opacity="0.07" />
<line x1="392.9" y1="233" x2="514.4" y2="233" stroke="#000" stroke-width="0.8" stroke-opacity="0.07" />
<line x1="392.9" y1="232" x2="514.4" y2="232" stroke="#000" stroke-width="0.8" stroke-opacity="0.07" />
<line x1="392.9" y1="231.2" x2="514.4" y2="231.2" stroke="#000" stroke-width="0.8" stroke-opacity="0.07" />
<line x1="392.9" y1="230.6" x2="514.4" y2="230.6" stroke="#000" stroke-width="0.8" stroke-opacity="0.07" />
<line x1="392.9" y1="230" x2="514.4" y2="230" stroke="#000" stroke-width="0.8" stroke-opacity="0.07" />
<line x1="392.9" y1="229.6" x2="514.4" y2="229.6" stroke="#000" stroke-width="0.8" stroke-opacity="0.07" />
<line x1="392.9" y1="229.2" x2="514.4" y2="229.2" stroke="#000" stroke-width="0.8" stroke-opacity="0.07" />
<line x1="392.9" y1="228.8" x2="514.4" y2="228.8" stroke="#000" stroke-width="0.6" stroke-opacity="0.06" />
<line x1="392.9" y1="242.5" x2="514.4" y2="242.5" stroke="#000" stroke-width="0.8" stroke-opacity="0.07" />
<line x1="392.9" y1="241.1" x2="514.4" y2="241.1" stroke="#000" stroke-width="0.8" stroke-opacity="0.07" />
<line x1="392.9" y1="240.1" x2="514.4" y2="240.1" stroke="#000" stroke-width="0.8" stroke-opacity="0.07" />
<line x1="392.9" y1="239.3" x2="514.4" y2="239.3" stroke="#000" stroke-width="0.8" stroke-opacity="0.07" />
<line x1="392.9" y1="238.7" x2="514.4" y2="238.7" stroke="#000" stroke-width="0.8" stroke-opacity="0.07" />
<line x1="392.9" y1="238.1" x2="514.4" y2="238.1" stroke="#000" stroke-width="0.8" stroke-opacity="0.07" />
<line x1="392.9" y1="237.6" x2="514.4" y2="237.6" stroke="#000" stroke-width="0.8" stroke-opacity="0.07" />
<line x1="392.9" y1="237.2" x2="514.4" y2="237.2" stroke="#000" stroke-width="0.8" stroke-opacity="0.07" />
<line x1="392.9" y1="236.9" x2="514.4" y2="236.9" stroke="#000" stroke-width="0.6" stroke-opacity="0.06" />
<line x1="392.9" y1="250.6" x2="514.4" y2="250.6" stroke="#000" stroke-width="0.8" stroke-opacity="0.07" />
<line x1="392.9" y1="249.2" x2="514.4" y2="249.2" stroke="#000" stroke-width="0.8" stroke-opacity="0.07" />
<line x1="392.9" y1="248.1" x2="514.4" y2="248.1" stroke="#000" stroke-width="0.8" stroke-opacity="0.07" />
<line x1="392.9" y1="247.4" x2="514.4" y2="247.4" stroke="#000" stroke-width="0.8" stroke-opacity="0.07" />
<line x1="392.9" y1="246.7" x2="514.4" y2="246.7" stroke="#000" stroke-width="0.8" stroke-opacity="0.07" />
<line x1="392.9" y1="246.2" x2="514.4" y2="246.2" stroke="#000" stroke-width="0.8" stroke-opacity="0.07" />
<line x1="392.9" y1="245.7" x2="514.4" y2="245.7" stroke="#000" stroke-width="0.8" stroke-opacity="0.07" />
<line x1="392.9" y1="245.3" x2="514.4" y2="245.3" stroke="#000" stroke-width="0.8" stroke-opacity="0.07" />
<line x1="392.9" y1="244.9" x2="514.4" y2="244.9" stroke="#000" stroke-width="0.6" stroke-opacity="0.06" />
<line x1="433.4" y1="228.8" x2="433.4" y2="252.6" stroke="#000" stroke-width="0.6" stroke-opacity="0.08" />
<line x1="473.9" y1="228.8" x2="473.9" y2="252.6" stroke="#000" stroke-width="0.6" stroke-opacity="0.08" />
<line x1="514.4" y1="228.8" x2="514.4" y2="252.6" stroke="#000" stroke-width="0.6" stroke-opacity="0.08" />
<rect x="518.6" y="256.8" width="27.2" height="107" fill="#ffffff"/>
<line x1="522.7" y1="256.8" x2="522.7" y2="363.8" stroke="#000" stroke-width="0.8" stroke-opacity="0.07" />
<line x1="524" y1="256.8" x2="524" y2="363.8" stroke="#000" stroke-width="0.8" stroke-opacity="0.07" />
<line x1="524.9" y1="256.8" x2="524.9" y2="363.8" stroke="#000" stroke-width="0.8" stroke-opacity="0.07" />
<line x1="525.7" y1="256.8" x2="525.7" y2="363.8" stroke="#000" stroke-width="0.8" stroke-opacity="0.07" />
<line x1="526.3" y1="256.8" x2="526.3" y2="363.8" stroke="#000" stroke-width="0.8" stroke-opacity="0.07" />
<line x1="526.8" y1="256.8" x2="526.8" y2="363.8" stroke="#000" stroke-width="0.8" stroke-opacity="0.07" />
<line x1="527.2" y1="256.8" x2="527.2" y2="363.8" stroke="#000" stroke-width="0.8" stroke-opacity="0.07" />
<line x1="527.6" y1="256.8" x2="527.6" y2="363.8" stroke="#000" stroke-width="0.8" stroke-opacity="0.07" />
<line x1="520.4" y1="256.8" x2="520.4" y2="363.8" stroke="#000" stroke-width="0.6" stroke-opacity="0.06" />
<line x1="530.2" y1="256.8" x2="530.2" y2="363.8" stroke="#000" stroke-width="0.8" stroke-opacity="0.07" />
<line x1="531.6" y1="256.8" x2="531.6" y2="363.8" stroke="#000" stroke-width="0.8" stroke-opacity="0.07" />
<line x1="532.5" y1="256.8" x2="532.5" y2="363.8" stroke="#000" stroke-width="0.8" stroke-opacity="0.07" />
<line x1="533.2" y1="256.8" x2="533.2" y2="363.8" stroke="#000" stroke-width="0.8" stroke-opacity="0.07" />
<line x1="533.8" y1="256.8" x2="533.8" y2="363.8" stroke="#000" stroke-width="0.8" stroke-opacity="0.07" />
<line x1="534.3" y1="256.8" x2="534.3" y2="363.8" stroke="#000" stroke-width="0.8" stroke-opacity="0.07" />
<line x1="534.8" y1="256.8" x2="534.8" y2="363.8" stroke="#000" stroke-width="0.8" stroke-opacity="0.07" />
<line x1="535.2" y1="256.8" x2="535.2" y2="363.8" stroke="#000" stroke-width="0.8" stroke-opacity="0.07" />
<line x1="528" y1="256.8" x2="528" y2="363.8" stroke="#000" stroke-width="0.6" stroke-opacity="0.06" />
<line x1="537.8" y1="256.8" x2="537.8" y2="363.8" stroke="#000" stroke-width="0.8" stroke-opacity="0.07" />
<line x1="539.1" y1="256.8" x2="539.1" y2="363.8" stroke="#000" stroke-width="0.8" stroke-opacity="0.07" />
<line x1="540.1" y1="256.8" x2="540.1" y2="363.8" stroke="#000" stroke-width="0.8" stroke-opacity="0.07" />
<line x1="540.8" y1="256.8" x2="540.8" y2="363.8" stroke="#000" stroke-width="0.8" stroke-opacity="0.07" />
<line x1="541.4" y1="256.8" x2="541.4" y2="363.8" stroke="#000" stroke-width="0.8" stroke-opacity="0.07" />
<line x1="541.9" y1="256.8" x2="541.9" y2="363.8" stroke="#000" stroke-width="0.8" stroke-opacity="0.07" />
<line x1="542.3" y1="256.8" x2="542.3" y2="363.8" stroke="#000" stroke-width="0.8" stroke-opacity="0.07" />
<line x1="542.7" y1="256.8" x2="542.7" y2="363.8" stroke="#000" stroke-width="0.8" stroke-opacity="0.07" />
<line x1="535.5" y1="256.8" x2="535.5" y2="363.8" stroke="#000" stroke-width="0.6" stroke-opacity="0.06" />
<line x1="545.3" y1="256.8" x2="545.3" y2="363.8" stroke="#000" stroke-width="0.8" stroke-opacity="0.07" />
<line x1="543.1" y1="256.8" x2="543.1" y2="363.8" stroke="#000" stroke-width="0.6" stroke-opacity="0.06" />
<line x1="518.6" y1="256.8" x2="545.8" y2="256.8" stroke="#000" stroke-width="0.6" stroke-opacity="0.08" />
<line x1="518.6" y1="292.5" x2="545.8" y2="292.5" stroke="#000" stroke-width="0.6" stroke-opacity="0.08" />
<line x1="518.6" y1="328.1" x2="545.8" y2="328.1" stroke="#000" stroke-width="0.6" stroke-opacity="0.08" />
<line x1="433.4" y1="256.8" x2="433.4" y2="363.8" stroke="#000" stroke-width="0.7" stroke-opacity="0.13" />
<line x1="473.9" y1="256.8" x2="473.9" y2="363.8" stroke="#000" stroke-width="0.7" stroke-opacity="0.13" />
<line x1="514.4" y1="256.8" x2="514.4" y2="363.8" stroke="#000" stroke-width="0.7" stroke-opacity="0.13" />
<line x1="392.9" y1="256.8" x2="514.4" y2="256.8" stroke="#000" stroke-width="0.7" stroke-opacity="0.13" />
<line x1="392.9" y1="292.5" x2="514.4" y2="292.5" stroke="#000" stroke-width="0.7" stroke-opacity="0.13" />
<line x1="392.9" y1="328.1" x2="514.4" y2="328.1" stroke="#000" stroke-width="0.7" stroke-opacity="0.13" />
<polygon points="77.3,80.3 83.6,78.9 93.6,76.6 103.6,75.3 106,75.5 107.5,77.5 105,80 100,81.6 93.6,84.8 88.2,87.1 87.2,88.8 88.7,94.9 88.7,98.7 86.4,101.4 81.1,101 79.6,104.1 79.2,107.9 77.3,109.4 74.2,108.7 72.7,106.4 73.5,103.3 76.5,100.3 77.3,92.6 77.5,85" fill="#008000"/><polygon points="135,80.5 145,76.5 154.5,74.5 154,78.5 147,81 140,83 136,83" fill="#008000"/><path d="M100 74h0m42 0h0m11 0h0m-58 1h0m6 0h0m3 0h0m2 0h0m6 0h0m2 0h0m26 0h0m10 0h0m-52 1h0m6 0h0m1 0h0m3 0h0m3 0h0m28 0h0m15 0h0m-63 1h0m2 0h0m2 0h0m8 0h0m1 0h0m3 0h0m1 0h0m1 0h0m1 0h0m2 0h0m30 0h0m-47 1h0m10 0h0m1 0h0m1 0h0m5 0h0m14 0h0m9 0h0m3 0h0m-55 1h0m2 0h0m3 0h0m17 0h0m4 0h0m1 0h0m1 0h0m3 0h0m1 0h0m9 0h0m6 0h0m6 0h0m3 0h0m1 0h0m10 0h0m-70 1h0m16 0h0m6 0h0m4 0h0m1 0h0m3 0h0m3 0h0m9 0h0m10 0h0m5 0h0m1 0h0m2 0h0m6 0h0m2 0h0m3 0h0m-72 1h0m47 0h0m1 0h0m10 0h0m2 0h0m3 0h0m3 0h0m4 0h0m-72 1h0m24 0h0m22 0h0m10 0h0m3 0h0m1 0h0m7 0h0m-66 1h0m20 0h0m23 0h0m9 0h0m5 0h0m1 0h0m4 0h0m-62 1h0m1 0h0m41 0h0m8 0h0m6 0h0m-57 1h0m25 0h0m-24 1h0m11 0h0m2 0h0m1 0h0m2 0h0m10 0h0m9 0h0m7 0h0m11 0h0m-44 1h0m1 0h0m-12 2h0m12 1h0m1 0h0m2 2h0m-3 1h0m-14 1h0m2 0h0m12 0h0m1 0h0m-2 1h0m-10 1h0m12 0h0m-13 1h0m1 0h0m2 0h0m10 0h0m4 0h0m-19 2h0m3 0h0m13 0h0m-13 1h0m15 0h0m-18 1h0m2 0h0m5 0h0m1 0h0m1 0h0m2 0h0m-10 1h0m3 0h0m2 1h0m-9 1h0m2 0h0m-1 1h0m7 1h0m-5 1h0m0 1h0m1 2h0m2 1h0m3 1h0m2 1h0m-2 2h0m-6 2h0m5 1h0m-4 1h0m4 3h0m-5 3h0m-1 2h0m3 2h0m0 5h0m-2 2h0m-6 11h0m13 3h0m-35 1h0m3 3h0" stroke="#008000" stroke-width="2.1" stroke-linecap="round" fill="none"/><polygon points="147,73.8 149.6,69.8 155.6,69.5 155.4,73.2 151.5,75.9 147.4,76.2" fill="#FC5314"/><polygon points="69.5,145.5 72.5,144.8 76,145.2 77.2,147.5 75.5,149.8 71,150.2 69,148.5" fill="#1272CC"/><path d="M79 110h0m1 23h0m-11 1h0m10 3h0m-2 2h0m-5 1h0m6 2h0m-5 3h0m4 0h0m-10 1h0m8 0h0m1 1h0m-7 1h0m6 1h0m2 0h0m-6 1h0m5 0h0m-2 1h0m-4 1h0" stroke="#1272CC" stroke-width="2.1" stroke-linecap="round" fill="none"/><path d="M72 112h0m-6 4h0m6 7h0m3 6h0m1 1h0m-9 10h0m13 6h0m2 6h0" stroke="#FC5314" stroke-width="2.1" stroke-linecap="round" fill="none"/><circle cx="74" cy="145.8" r="1.7" fill="#FC5314"/><polygon points="262,82 264.4,79.9 276.5,78.4 285.7,77.6 292.5,79.1 293.3,82.2 285.7,84.5 275,88.3 267.4,89.8 268.4,91.2 271.4,94.3 267.4,99.4 264.3,106.5 261.3,114.6 261.3,121.7 259.8,126.3 256,126.3 256,116 259,105 260,92 261,85" fill="#FC5314"/><polygon points="310,80 318,78.5 326,75.5 333.5,71 335.5,73 334,79 324,82.5 312,84" fill="#FC5314"/><path d="M333 70h0m-1 1h0m3 1h0m-5 1h0m4 0h0m2 0h0m-11 2h0m1 0h0m4 0h0m-44 1h0m10 0h0m19 0h0m1 0h0m4 0h0m3 0h0m-49 1h0m18 0h0m18 0h0m4 0h0m1 0h0m3 0h0m1 0h0m-50 1h0m7 0h0m9 0h0m1 0h0m6 0h0m2 0h0m8 0h0m2 0h0m6 0h0m2 0h0m7 0h0m1 0h0m-53 1h0m33 0h0m3 0h0m2 0h0m2 0h0m6 0h0m1 0h0m3 0h0m1 0h0m2 0h0m1 0h0m-35 1h0m4 0h0m2 0h0m11 0h0m4 0h0m3 0h0m1 0h0m9 0h0m2 0h0m-29 1h0m7 0h0m2 0h0m1 0h0m3 0h0m4 0h0m1 0h0m2 0h0m3 0h0m4 0h0m2 0h0m-32 1h0m10 0h0m9 0h0m3 0h0m1 0h0m4 0h0m1 0h0m2 0h0m4 0h0m-34 1h0m8 0h0m1 0h0m7 0h0m1 0h0m1 0h0m1 0h0m1 0h0m1 0h0m8 0h0m1 0h0m2 0h0m-60 1h0m24 0h0m15 0h0m1 0h0m1 0h0m4 0h0m4 0h0m3 0h0m5 0h0m-58 1h0m22 0h0m1 0h0m1 0h0m2 0h0m12 0h0m-39 1h0m1 0h0m20 0h0m8 0h0m-28 2h0m7 0h0m8 0h0m8 0h0m-24 1h0m8 0h0m6 0h0m-13 1h0m10 0h0m-2 1h0m3 0h0m-5 1h0m3 0h0m1 2h0m-2 3h0m1 0h0m-1 1h0m-11 4h0m1 1h0m6 0h0m-2 2h0m1 0h0m-5 2h0m-2 2h0m0 1h0m7 0h0m-6 1h0m3 4h0m2 3h0m-7 3h0m5 0h0m1 0h0m1 0h0m-6 3h0m2 1h0m-5 1h0m1 0h0m1 0h0m1 0h0m-12 1h0m11 0h0m3 0h0m-3 1h0m2 0h0m-5 1h0m-13 1h0m19 0h0m-6 1h0m1 0h0m-1 1h0m1 0h0m1 0h0m5 0h0m1 4h0m-6 1h0m2 0h0m1 0h0m2 0h0m-4 1h0m-1 1h0m2 0h0m3 0h0m-14 1h0m9 0h0m2 0h0m1 0h0m-3 1h0m7 0h0m-13 2h0m17 0h0m-19 1h0m16 3h0m1 5h0m-4 4h0" stroke="#FC5314" stroke-width="2.1" stroke-linecap="round" fill="none"/><polygon points="257.7,81 263,80.5 266.3,81.5 266.3,88 262,89.5 260,95 259.5,104 258,112 256,117 254.8,112 255.5,100 256.7,92 257.5,85" fill="#008000"/><polygon points="272,78.8 283,77.5 284,79.8 273,81.3" fill="#008000"/><path d="M288 76h0m-6 1h0m39 0h0m7 0h0m4 0h0m-72 1h0m2 0h0m2 0h0m17 0h0m2 0h0m31 0h0m3 0h0m6 0h0m-50 1h0m4 0h0m2 0h0m8 0h0m27 0h0m1 0h0m2 0h0m8 0h0m-62 1h0m16 0h0m3 0h0m16 0h0m10 0h0m10 0h0m14 0h0m-68 1h0m12 0h0m5 0h0m37 0h0m1 0h0m12 0h0m-74 1h0m4 0h0m29 0h0m21 0h0m12 0h0m-21 1h0m13 0h0m-51 1h0m21 0h0m9 0h0m13 0h0m-1 1h0m1 0h0m-42 1h0m18 0h0m9 0h0m-36 1h0m8 1h0m-1 1h0m2 0h0m-4 1h0m1 1h0m1 0h0m-6 1h0m-2 1h0m5 0h0m2 0h0m8 0h0m-11 1h0m1 0h0m1 0h0m-12 2h0m11 0h0m1 0h0m2 0h0m-3 1h0m4 0h0m9 0h0m-26 2h0m3 0h0m11 0h0m-7 1h0m6 0h0m1 0h0m-12 1h0m12 0h0m1 0h0m-1 1h0m-15 1h0m5 0h0m12 1h0m-13 2h0m6 0h0m4 0h0m-8 1h0m2 0h0m3 0h0m-7 1h0m8 0h0m2 1h0m-9 1h0m2 0h0m-9 1h0m10 0h0m2 1h0m7 0h0m-8 2h0m2 2h0m-2 9h0m-2 1h0m2 0h0m2 0h0m-2 1h0m-2 2h0m1 0h0m1 2h0m4 1h0m-2 3h0m-1 3h0m1 0h0m3 1h0m-4 1h0" stroke="#008000" stroke-width="2.1" stroke-linecap="round" fill="none"/><path d="M257 88h0m1 0h0m1 0h0m-3 1h0m3 2h0m-2 3h0m-1 2h0m3 0h0m-9 1h0m7 3h0m1 0h0m-1 2h0m2 0h0m-1 1h0m0 1h0m-1 5h0m0 1h0" stroke="#FC5314" stroke-width="2.1" stroke-linecap="round" fill="none"/><polygon points="249.5,147.5 253,145.6 258,147.5 257.5,151.5 253,152.5 249.5,150" fill="#1272CC"/><path d="M256 124h0m-3 6h0m2 3h0m3 2h0m-5 2h0m-1 3h0m5 0h0m5 4h0m-14 3h0m11 6h0m-8 1h0" stroke="#1272CC" stroke-width="2.1" stroke-linecap="round" fill="none"/><path d="M253 144h0m-1 1h0m-2 1h0" stroke="#FC5314" stroke-width="2.1" stroke-linecap="round" fill="none"/><polygon points="433.5,115 440,115 441,125 440.5,136 434,136.5 432.5,128 433,120" fill="#FC5314"/><polygon points="438.2,81.1 445.3,80.6 451.5,79.5 459.1,77.5 465.2,77.2 469.8,76.8 472.8,80.6 466,81.7 461.4,83.3 455.3,87.1 451.5,87.8 446.9,89.4 445.3,90.3 447.3,93.3 449.4,95.4 452.4,100.4 445.3,102.5 442.3,105.5 441,111 440,115 434,115 433.1,108 433.1,102.5 435.2,96.4 436.7,87.2" fill="#008000"/><polygon points="503,78 511,74 512.5,77 510,81 504,82" fill="#008000"/><path d="M513 67h0m-2 6h0m-1 1h0m-3 1h0m2 0h0m1 0h0m-72 1h0m19 0h0m4 0h0m50 0h0m2 0h0m-61 1h0m8 0h0m5 0h0m1 0h0m1 0h0m2 0h0m2 0h0m1 0h0m1 0h0m24 0h0m17 0h0m-74 1h0m17 0h0m6 0h0m3 0h0m1 0h0m18 0h0m3 0h0m1 0h0m2 0h0m7 0h0m4 0h0m-59 1h0m5 0h0m11 0h0m5 0h0m5 0h0m1 0h0m2 0h0m13 0h0m3 0h0m2 0h0m2 0h0m5 0h0m2 0h0m1 0h0m2 0h0m11 0h0m-67 1h0m23 0h0m3 0h0m19 0h0m4 0h0m7 0h0m8 0h0m-68 1h0m27 0h0m3 0h0m1 0h0m5 0h0m5 0h0m5 0h0m8 0h0m7 0h0m5 0h0m1 0h0m-71 1h0m4 0h0m3 0h0m2 0h0m1 0h0m15 0h0m5 0h0m2 0h0m1 0h0m1 0h0m1 0h0m4 0h0m6 0h0m11 0h0m15 0h0m-70 1h0m23 0h0m3 0h0m14 0h0m1 0h0m4 0h0m11 0h0m1 0h0m4 0h0m-30 1h0m1 0h0m9 0h0m8 0h0m2 0h0m-51 1h0m14 0h0m5 0h0m11 0h0m1 0h0m2 0h0m5 0h0m9 0h0m-48 1h0m14 0h0m6 0h0m20 0h0m4 0h0m-29 1h0m1 0h0m29 0h0m-34 1h0m-14 1h0m1 0h0m2 0h0m10 0h0m1 0h0m-11 1h0m7 0h0m6 0h0m-16 1h0m11 0h0m1 0h0m-1 1h0m1 1h0m3 0h0m7 0h0m-10 1h0m3 0h0m-13 1h0m-2 1h0m1 1h0m15 0h0m2 0h0m-18 1h0m2 0h0m14 2h0m-1 1h0m-6 1h0m3 0h0m4 0h0m-19 1h0m1 0h0m15 0h0m-2 1h0m4 0h0m-18 1h0m10 2h0m-1 1h0m-1 1h0m-8 1h0m1 0h0m3 0h0m5 0h0m1 0h0m-8 2h0m8 0h0m-9 2h0m4 0h0m-4 1h0m2 1h0m8 12h0m-2 2h0m3 4h0m-17 2h0m4 1h0m-2 1h0m5 1h0m-24 7h0m15 3h0m-31 2h0" stroke="#008000" stroke-width="2.1" stroke-linecap="round" fill="none"/><path d="M511 63h0m-1 9h0m-45 10h0m6 1h0m-35 4h0m7 0h0m-2 1h0m-2 6h0m2 1h0m2 1h0m2 0h0m-10 9h0m3 0h0m6 1h0m-8 1h0m4 1h0m1 2h0m-2 4h0m2 0h0m-3 1h0m1 0h0m-3 1h0m1 0h0m4 0h0m-7 1h0m1 0h0m6 0h0m-6 1h0m3 0h0m2 0h0m1 0h0m1 0h0m-10 1h0m7 0h0m-1 1h0m2 0h0m-9 1h0m-3 1h0m6 0h0m0 1h0m6 0h0m-9 2h0m2 1h0m8 0h0m-3 2h0m2 0h0m2 1h0m-1 2h0m3 0h0m-11 1h0m7 0h0m-7 1h0m5 0h0m1 0h0m-8 1h0m9 0h0m-2 1h0m3 0h0m-6 1h0m9 4h0m-15 2h0m2 4h0m2 0h0m4 1h0m-32 3h0" stroke="#FC5314" stroke-width="2.1" stroke-linecap="round" fill="none"/><polygon points="429.5,148 432.5,147 436.5,148 437.5,150.5 434,152 430,151.5 428.7,150" fill="#1272CC"/><path d="M484 84h0m-58 52h0m6 1h0m-4 1h0m2 2h0m5 0h0m2 1h0m-12 4h0m6 2h0m1 0h0m3 1h0m-6 1h0m8 0h0m1 0h0m-3 1h0m1 0h0m1 0h0m1 0h0m-8 1h0m2 0h0m5 3h0" stroke="#1272CC" stroke-width="2.1" stroke-linecap="round" fill="none"/><path d="M124 263h0m-5 1h0m-6 2h0m-33 2h0m42 0h0m-11 3h0m18 2h0m-29 2h0m-4 3h0m14 1h0m-20 1h0m31 0h0m27 0h0m-66 1h0m21 0h0m7 0h0m-22 2h0m26 1h0m4 0h0m-29 1h0m4 1h0m18 1h0m-26 1h0m20 0h0m9 0h0m-34 1h0m11 0h0m43 0h0m-30 1h0m4 0h0m-19 1h0m1 0h0m-9 1h0m3 1h0m12 0h0m-6 1h0m23 0h0m-19 1h0m3 1h0m-13 1h0m23 0h0m-13 1h0m21 0h0m-34 1h0m13 0h0m-14 1h0m5 0h0m11 0h0m20 0h0m-24 1h0m2 0h0m11 0h0m-34 1h0m9 0h0m8 0h0m16 0h0m8 0h0m16 0h0m-54 1h0m16 0h0m6 0h0m9 0h0m11 0h0m22 0h0m-38 1h0m2 0h0m11 0h0m-31 1h0m7 0h0m1 0h0m12 0h0m-31 1h0m17 0h0m6 0h0m5 0h0m1 0h0m7 0h0m16 0h0m-55 1h0m2 0h0m13 0h0m1 0h0m11 0h0m9 0h0m-22 1h0m2 0h0m4 0h0m10 0h0m12 0h0m-41 1h0m2 0h0m8 0h0m9 0h0m7 0h0m2 0h0m3 0h0m5 0h0m15 0h0m-57 1h0m12 0h0m18 0h0m4 0h0m-18 1h0m3 0h0m3 0h0m19 0h0m4 0h0m-50 1h0m12 0h0m2 0h0m3 0h0m12 0h0m12 0h0m-36 1h0m4 0h0m5 0h0m13 0h0m3 0h0m3 0h0m19 0h0m13 0h0m18 0h0m-76 1h0m9 0h0m5 0h0m6 0h0m2 0h0m3 0h0m2 0h0m15 0h0m9 0h0m-53 1h0m2 0h0m1 0h0m4 0h0m1 0h0m1 0h0m10 0h0m23 0h0m-40 1h0m4 0h0m2 0h0m2 0h0m2 0h0m2 0h0m2 0h0m1 0h0m5 0h0m11 0h0m8 0h0m8 0h0m-42 1h0m3 0h0m15 0h0m-25 1h0m3 0h0m5 0h0m5 0h0m2 0h0m2 0h0m1 0h0m1 0h0m3 0h0m1 0h0m1 0h0m1 0h0m4 0h0m22 0h0m-55 1h0m5 0h0m1 0h0m2 0h0m1 0h0m4 0h0m3 0h0m1 0h0m4 0h0m3 0h0m1 0h0m1 0h0m2 0h0m21 0h0m6 0h0m-51 1h0m2 0h0m1 0h0m2 0h0m1 0h0m1 0h0m1 0h0m4 0h0m1 0h0m2 0h0m2 0h0m4 0h0m3 0h0m2 0h0m10 0h0m4 0h0m11 0h0m-55 1h0m2 0h0m1 0h0m2 0h0m7 0h0m2 0h0m2 0h0m1 0h0m3 0h0m3 0h0m4 0h0m4 0h0m1 0h0m33 0h0m2 0h0m-69 1h0m6 0h0m1 0h0m3 0h0m2 0h0m4 0h0m1 0h0m1 0h0m3 0h0m1 0h0m1 0h0m2 0h0m2 0h0m1 0h0m3 0h0m5 0h0m8 0h0m4 0h0m-46 1h0m1 0h0m6 0h0m1 0h0m1 0h0m5 0h0m3 0h0m2 0h0m4 0h0m2 0h0m6 0h0m1 0h0m-29 1h0m3 0h0m11 0h0m1 0h0m2 0h0m1 0h0m1 0h0m1 0h0m10 0h0m1 0h0m2 0h0m2 0h0m2 0h0m4 0h0m18 0h0m-60 1h0m1 0h0m3 0h0m2 0h0m1 0h0m1 0h0m3 0h0m2 0h0m2 0h0m2 0h0m4 0h0m14 0h0m-33 1h0m5 0h0m1 0h0m3 0h0m1 0h0m1 0h0m1 0h0m5 0h0m3 0h0m1 0h0m3 0h0m2 0h0m4 0h0m11 0h0m20 0h0m-74 1h0m2 0h0m6 0h0m1 0h0m2 0h0m3 0h0m3 0h0m1 0h0m1 0h0m1 0h0m2 0h0m4 0h0m6 0h0m3 0h0m6 0h0m21 0h0m-58 1h0m3 0h0m3 0h0m1 0h0m1 0h0m1 0h0m1 0h0m2 0h0m1 0h0m8 0h0m1 0h0m1 0h0m4 0h0m1 0h0m3 0h0m4 0h0m1 0h0m4 0h0m5 0h0m8 0h0m-52 1h0m1 0h0m2 0h0m2 0h0m1 0h0m1 0h0m5 0h0m3 0h0m1 0h0m1 0h0m3 0h0m1 0h0m1 0h0m1 0h0m3 0h0m9 0h0m-35 1h0m2 0h0m1 0h0m1 0h0m1 0h0m1 0h0m2 0h0m2 0h0m4 0h0m1 0h0m1 0h0m1 0h0m3 0h0m3 0h0m1 0h0m1 0h0m2 0h0m1 0h0m1 0h0m4 0h0m-31 1h0m1 0h0m1 0h0m2 0h0m1 0h0m2 0h0m1 0h0m1 0h0m1 0h0m1 0h0m2 0h0m1 0h0m1 0h0m1 0h0m2 0h0m3 0h0m2 0h0m2 0h0m1 0h0m1 0h0m6 0h0m2 0h0m3 0h0m10 0h0m21 0h0m-77 1h0m1 0h0m5 0h0m1 0h0m1 0h0m1 0h0m2 0h0m1 0h0m1 0h0m2 0h0m2 0h0m1 0h0m1 0h0m6 0h0m1 0h0m1 0h0m1 0h0m4 0h0m1 0h0m8 0h0m-44 1h0m5 0h0m2 0h0m2 0h0m1 0h0m1 0h0m2 0h0m1 0h0m1 0h0m1 0h0m3 0h0m1 0h0m2 0h0m2 0h0m1 0h0m2 0h0m1 0h0m2 0h0m1 0h0m1 0h0m3 0h0m1 0h0m1 0h0m2 0h0m1 0h0m1 0h0m1 0h0m3 0h0m-42 1h0m3 0h0m1 0h0m1 0h0m1 0h0m1 0h0m1 0h0m1 0h0m1 0h0m2 0h0m1 0h0m2 0h0m1 0h0m1 0h0m1 0h0m2 0h0m2 0h0m1 0h0m2 0h0m2 0h0m2 0h0m1 0h0m4 0h0m3 0h0m1 0h0m9 0h0m10 0h0m-56 1h0m2 0h0m1 0h0m5 0h0m4 0h0m1 0h0m1 0h0m2 0h0m1 0h0m1 0h0m1 0h0m1 0h0m1 0h0m1 0h0m2 0h0m2 0h0m1 0h0m1 0h0m1 0h0m2 0h0m8 0h0m1 0h0m1 0h0m6 0h0m3 0h0m8 0h0m-67 1h0m1 0h0m4 0h0m2 0h0m2 0h0m3 0h0m1 0h0m1 0h0m1 0h0m1 0h0m4 0h0m1 0h0m1 0h0m2 0h0m2 0h0m3 0h0m1 0h0m1 0h0m3 0h0m5 0h0m2 0h0m6 0h0m-38 1h0m1 0h0m1 0h0m1 0h0m1 0h0m1 0h0m2 0h0m1 0h0m1 0h0m1 0h0m1 0h0m1 0h0m3 0h0m1 0h0m1 0h0m1 0h0m1 0h0m1 0h0m1 0h0m1 0h0m1 0h0m1 0h0m1 0h0m1 0h0m1 0h0m1 0h0m4 0h0m3 0h0m1 0h0m1 0h0m13 0h0m-52 1h0m5 0h0m1 0h0m1 0h0m1 0h0m1 0h0m1 0h0m1 0h0m1 0h0m1 0h0m1 0h0m1 0h0m1 0h0m1 0h0m1 0h0m1 0h0m2 0h0m1 0h0m1 0h0m2 0h0m1 0h0m1 0h0m2 0h0m1 0h0m1 0h0m1 0h0m1 0h0m2 0h0m6 0h0m6 0h0m3 0h0m-51 1h0m1 0h0m1 0h0m4 0h0m1 0h0m1 0h0m1 0h0m1 0h0m1 0h0m1 0h0m1 0h0m1 0h0m2 0h0m2 0h0m2 0h0m1 0h0m1 0h0m2 0h0m1 0h0m1 0h0m1 0h0m1 0h0m2 0h0m1 0h0m24 0h0m-60 1h0m3 0h0m1 0h0m4 0h0m2 0h0m1 0h0m1 0h0m1 0h0m1 0h0m2 0h0m1 0h0m1 0h0m1 0h0m1 0h0m1 0h0m2 0h0m2 0h0m1 0h0m2 0h0m1 0h0m1 0h0m1 0h0m1 0h0m1 0h0m1 0h0m1 0h0m5 0h0m1 0h0m1 0h0m2 0h0m1 0h0m13 0h0m-57 1h0m2 0h0m2 0h0m1 0h0m1 0h0m1 0h0m1 0h0m2 0h0m1 0h0m1 0h0m2 0h0m1 0h0m1 0h0m1 0h0m1 0h0m2 0h0m1 0h0m1 0h0m1 0h0m1 0h0m1 0h0m1 0h0m1 0h0m1 0h0m1 0h0m1 0h0m1 0h0m2 0h0m1 0h0m4 0h0m8 0h0m1 0h0m2 0h0m-47 1h0m2 0h0m1 0h0m1 0h0m1 0h0m1 0h0m1 0h0m1 0h0m1 0h0m1 0h0m1 0h0m1 0h0m1 0h0m1 0h0m2 0h0m1 0h0m1 0h0m1 0h0m1 0h0m3 0h0m1 0h0m1 0h0m2 0h0m3 0h0m1 0h0m1 0h0m1 0h0m1 0h0m1 0h0m4 0h0m10 0h0m-50 1h0m1 0h0m1 0h0m1 0h0m1 0h0m1 0h0m1 0h0m1 0h0m1 0h0m1 0h0m2 0h0m1 0h0m1 0h0m1 0h0m1 0h0m1 0h0m1 0h0m2 0h0m1 0h0m1 0h0m2 0h0m1 0h0m1 0h0m1 0h0m2 0h0m4 0h0m2 0h0m3 0h0m4 0h0m-47 1h0m5 0h0m1 0h0m1 0h0m1 0h0m1 0h0m1 0h0m1 0h0m1 0h0m2 0h0m1 0h0m1 0h0m1 0h0m1 0h0m1 0h0m1 0h0m1 0h0m1 0h0m1 0h0m1 0h0m1 0h0m1 0h0m1 0h0m2 0h0m1 0h0m1 0h0m1 0h0m1 0h0m1 0h0m1 0h0m1 0h0m1 0h0m20 0h0m-52 1h0m2 0h0m1 0h0m2 0h0m1 0h0m1 0h0m1 0h0m1 0h0m1 0h0m1 0h0m1 0h0m1 0h0m1 0h0m1 0h0m1 0h0m1 0h0m1 0h0m1 0h0m1 0h0m1 0h0m1 0h0m1 0h0m1 0h0m1 0h0m1 0h0m1 0h0m1 0h0m1 0h0m2 0h0m1 0h0m1 0h0m1 0h0m2 0h0m2 0h0m6 0h0m20 0h0m-65 1h0m2 0h0m1 0h0m1 0h0m1 0h0m1 0h0m1 0h0m1 0h0m1 0h0m1 0h0m1 0h0m1 0h0m1 0h0m1 0h0m1 0h0m1 0h0m1 0h0m1 0h0m1 0h0m1 0h0m1 0h0m1 0h0m1 0h0m1 0h0m1 0h0m1 0h0m1 0h0m1 0h0m1 0h0m1 0h0m1 0h0m3 0h0m2 0h0m8 0h0m-45 1h0m2 0h0m2 0h0m3 0h0m1 0h0m1 0h0m1 0h0m1 0h0m1 0h0m1 0h0m1 0h0m1 0h0m1 0h0m1 0h0m1 0h0m1 0h0m1 0h0m1 0h0m1 0h0m1 0h0m1 0h0m2 0h0m2 0h0m2 0h0m1 0h0m2 0h0m13 0h0m14 0h0m2 0h0m-65 1h0m3 0h0m4 0h0m1 0h0m1 0h0m1 0h0m1 0h0m1 0h0m1 0h0m1 0h0m1 0h0m1 0h0m1 0h0m1 0h0m1 0h0m1 0h0m1 0h0m1 0h0m1 0h0m1 0h0m2 0h0m1 0h0m1 0h0m1 0h0m1 0h0m2 0h0m2 0h0m1 0h0m1 0h0m1 0h0m3 0h0m7 0h0m-45 1h0m2 0h0m1 0h0m1 0h0m1 0h0m1 0h0m1 0h0m1 0h0m1 0h0m1 0h0m1 0h0m1 0h0m1 0h0m1 0h0m1 0h0m1 0h0m1 0h0m1 0h0m1 0h0m1 0h0m1 0h0m1 0h0m2 0h0m1 0h0m1 0h0m2 0h0m2 0h0m1 0h0m1 0h0m2 0h0m4 0h0m1 0h0m1 0h0m9 0h0m9 0h0m-61 1h0m4 0h0m2 0h0m2 0h0m1 0h0m1 0h0m1 0h0m1 0h0m1 0h0m1 0h0m1 0h0m1 0h0m1 0h0m1 0h0m1 0h0m1 0h0m1 0h0m1 0h0m1 0h0m1 0h0m1 0h0m2 0h0m1 0h0m1 0h0m1 0h0m3 0h0m1 0h0m8 0h0m3 0h0m6 0h0m-47 1h0m2 0h0m1 0h0m1 0h0m1 0h0m1 0h0m1 0h0m1 0h0m1 0h0m1 0h0m1 0h0m1 0h0m1 0h0m1 0h0m1 0h0m1 0h0m1 0h0m1 0h0m1 0h0m1 0h0m1 0h0m1 0h0m1 0h0m1 0h0m8 0h0m3 0h0m3 0h0m1 0h0m-41 1h0m1 0h0m1 0h0m1 0h0m1 0h0m1 0h0m1 0h0m1 0h0m1 0h0m1 0h0m1 0h0m1 0h0m1 0h0m1 0h0m1 0h0m1 0h0m1 0h0m1 0h0m1 0h0m1 0h0m1 0h0m3 0h0m1 0h0m1 0h0m1 0h0m3 0h0m1 0h0m2 0h0m3 0h0m2 0h0m2 0h0m3 0h0m-43 1h0m3 0h0m1 0h0m1 0h0m1 0h0m1 0h0m1 0h0m1 0h0m1 0h0m1 0h0m1 0h0m1 0h0m1 0h0m1 0h0m1 0h0m1 0h0m1 0h0m1 0h0m1 0h0m1 0h0m1 0h0m1 0h0m1 0h0m3 0h0m2 0h0m3 0h0m1 0h0m4 0h0m3 0h0m11 0h0m-52 1h0m1 0h0m1 0h0m1 0h0m2 0h0m1 0h0m1 0h0m1 0h0m1 0h0m1 0h0m1 0h0m1 0h0m1 0h0m1 0h0m1 0h0m1 0h0m1 0h0m1 0h0m1 0h0m1 0h0m1 0h0m1 0h0m1 0h0m1 0h0m1 0h0m1 0h0m1 0h0m1 0h0m3 0h0m1 0h0m1 0h0m4 0h0m23 0h0m-59 1h0m1 0h0m1 0h0m2 0h0m1 0h0m1 0h0m1 0h0m1 0h0m1 0h0m1 0h0m1 0h0m1 0h0m1 0h0m1 0h0m1 0h0m1 0h0m1 0h0m1 0h0m1 0h0m1 0h0m1 0h0m1 0h0m1 0h0m2 0h0m5 0h0m6 0h0m-36 1h0m1 0h0m1 0h0m1 0h0m1 0h0m1 0h0m1 0h0m1 0h0m1 0h0m1 0h0m1 0h0m1 0h0m1 0h0m1 0h0m1 0h0m1 0h0m1 0h0m1 0h0m1 0h0m1 0h0m1 0h0m2 0h0m1 0h0m1 0h0m5 0h0m1 0h0m3 0h0m-32 1h0m1 0h0m1 0h0m1 0h0m1 0h0m1 0h0m1 0h0m1 0h0m1 0h0m1 0h0m1 0h0m1 0h0m1 0h0m1 0h0m1 0h0m1 0h0m1 0h0m1 0h0m1 0h0m1 0h0m2 0h0m1 0h0m2 0h0m3 0h0m8 0h0m20 0h0m-54 1h0m1 0h0m1 0h0m1 0h0m1 0h0m1 0h0m1 0h0m1 0h0m1 0h0m1 0h0m1 0h0m1 0h0m1 0h0m2 0h0m1 0h0m1 0h0m1 0h0m1 0h0m1 0h0m1 0h0m1 0h0m2 0h0m1 0h0m4 0h0m2 0h0m2 0h0m3 0h0m11 0h0m-49 1h0m1 0h0m1 0h0m1 0h0m1 0h0m1 0h0m1 0h0m1 0h0m1 0h0m1 0h0m1 0h0m1 0h0m1 0h0m1 0h0m2 0h0m1 0h0m1 0h0m1 0h0m2 0h0m1 0h0m4 0h0m1 0h0m2 0h0m1 0h0m5 0h0m2 0h0m4 0h0m-40 1h0m1 0h0m1 0h0m1 0h0m1 0h0m1 0h0m1 0h0m1 0h0m1 0h0m1 0h0m1 0h0m1 0h0m1 0h0m1 0h0m1 0h0m1 0h0m1 0h0m1 0h0m1 0h0m2 0h0m2 0h0m2 0h0m6 0h0m-30 1h0m1 0h0m1 0h0m2 0h0m1 0h0m1 0h0m1 0h0m1 0h0m1 0h0m1 0h0m1 0h0m1 0h0m1 0h0m1 0h0m1 0h0m1 0h0m1 0h0m1 0h0m3 0h0m1 0h0m11 0h0m-32 1h0m1 0h0m1 0h0m1 0h0m1 0h0m1 0h0m1 0h0m1 0h0m1 0h0m1 0h0m1 0h0m1 0h0m1 0h0m1 0h0m1 0h0m2 0h0m2 0h0m1 0h0m1 0h0m2 0h0m6 0h0m6 0h0m10 0h0m29 0h0m-74 1h0m1 0h0m1 0h0m1 0h0m1 0h0m1 0h0m1 0h0m1 0h0m1 0h0m1 0h0m1 0h0m1 0h0m1 0h0m1 0h0m1 0h0m1 0h0m1 0h0m1 0h0m7 0h0m-25 1h0m1 0h0m1 0h0m1 0h0m1 0h0m2 0h0m1 0h0m1 0h0m1 0h0m2 0h0m1 0h0m3 0h0m2 0h0m2 0h0" stroke="#008000" stroke-width="2.1" stroke-linecap="round" fill="none"/><path d="M98 320h0m-2 1h0m1 0h0m1 0h0m-2 1h0m1 0h0m-4 1h0m1 0h0m1 0h0m-2 1h0m1 0h0m1 0h0m-6 1h0m2 0h0m1 0h0m2 0h0m1 0h0m-6 1h0m1 0h0m1 0h0m1 0h0m-5 1h0m1 0h0m1 0h0m1 0h0m-5 1h0m1 0h0m1 0h0m1 0h0m1 0h0m-4 1h0m1 0h0m1 0h0m-4 1h0m1 0h0m1 0h0m1 0h0m1 0h0m-5 1h0m1 0h0m1 0h0m1 0h0m-4 1h0m1 0h0m-4 1h0m1 0h0m1 0h0m1 0h0m2 0h0m-6 1h0m1 0h0m1 0h0m1 0h0m-5 1h0m1 0h0m1 0h0m1 0h0m-4 1h0m1 0h0m1 0h0m1 0h0m-6 1h0m1 0h0m1 0h0m1 0h0m1 0h0m1 0h0m-4 1h0m1 0h0m1 0h0m1 0h0m-5 1h0m1 0h0m1 0h0m1 0h0m-4 1h0m1 0h0m1 0h0m1 0h0m-5 1h0m1 0h0m1 0h0m1 0h0m1 0h0m-6 1h0m1 0h0m1 0h0m1 0h0m-4 1h0m1 0h0m1 0h0m1 0h0m-5 1h0m1 0h0m1 0h0m1 0h0m1 0h0m-5 1h0m1 0h0m1 0h0m1 0h0m-4 1h0m1 0h0m1 0h0m1 0h0m-6 1h0m1 0h0m1 0h0m1 0h0m1 0h0m-4 1h0m1 0h0m1 0h0m1 0h0m1 0h0m-6 1h0m1 0h0m1 0h0m1 0h0m1 0h0m-5 1h0m1 0h0m1 0h0m1 0h0m-4 1h0m1 0h0m1 0h0m-4 1h0m1 0h0m1 0h0m1 0h0m-4 1h0m1 0h0m1 0h0m1 0h0m-5 1h0m1 0h0m1 0h0m1 0h0m-4 1h0m1 0h0m1 0h0m1 0h0m-4 1h0m1 0h0m1 0h0m-4 1h0m1 0h0m1 0h0m1 0h0m-4 1h0m1 0h0m1 0h0m-4 1h0m1 0h0m1 0h0m-3 1h0m1 0h0m1 0h0m1 0h0m-4 1h0m1 0h0m1 0h0m-5 1h0m1 0h0m1 0h0m1 0h0m-3 1h0m1 0h0m-1 1h0" stroke="#1272CC" stroke-width="2.1" stroke-linecap="round" fill="none"/><path d="M156 274h0m-6 3h0m-14 9h0m-1 2h0m-3 2h0m-4 5h0m-2 1h0m-5 3h0m-4 4h0m-9 4h0m4 0h0m-4 1h0m-2 1h0m1 0h0m1 0h0m-3 1h0m1 0h0m2 0h0m-6 2h0m1 0h0m-4 1h0m1 0h0m1 0h0m1 0h0m-3 1h0m1 0h0m1 0h0m-4 1h0m1 0h0m1 0h0m1 0h0m-5 1h0m1 0h0m1 0h0m1 0h0m1 0h0m-5 1h0m1 0h0m1 0h0m1 0h0m1 0h0m-6 1h0m2 0h0m1 0h0m1 0h0m-3 1h0m1 0h0m-4 1h0m1 0h0m1 0h0m1 0h0m1 0h0m-5 1h0m1 0h0m1 0h0m-2 1h0m1 0h0m1 0h0m1 0h0m-5 1h0m1 0h0m1 0h0m1 0h0m-5 1h0m1 0h0m1 0h0m1 0h0m-5 1h0m1 0h0m1 0h0m1 0h0m1 0h0m-6 1h0m2 0h0m1 0h0m2 0h0m1 0h0m-6 1h0m1 0h0m1 0h0m1 0h0m1 0h0m-6 1h0m1 0h0m1 0h0m1 0h0m1 0h0m1 0h0m-6 1h0m1 0h0m1 0h0m1 0h0m-5 1h0m2 0h0m1 0h0m1 0h0m-5 1h0m1 0h0m1 0h0m1 0h0m1 0h0m1 0h0m-5 1h0m1 0h0m1 0h0m-3 1h0m1 0h0m1 0h0m1 0h0m-6 1h0m1 0h0m1 0h0m1 0h0m1 0h0m-4 1h0m1 0h0m1 0h0m-4 1h0m1 0h0m1 0h0m1 0h0m1 0h0m-5 1h0m1 0h0m1 0h0m1 0h0m1 0h0m-5 1h0m1 0h0m1 0h0m-3 1h0m1 0h0m1 0h0m1 0h0m-5 1h0m1 0h0m1 0h0m1 0h0m1 0h0m-5 1h0m1 0h0m1 0h0m1 0h0m-5 1h0m1 0h0m1 0h0m1 0h0m1 0h0m-5 1h0m1 0h0m1 0h0m1 0h0m1 0h0m-5 1h0m1 0h0m1 0h0m1 0h0m-4 1h0m1 0h0m1 0h0m1 0h0m-6 1h0m1 0h0m1 0h0m1 0h0m1 0h0m1 0h0m-6 1h0m1 0h0m1 0h0m1 0h0m1 0h0m-5 1h0m1 0h0m1 0h0m1 0h0m1 0h0m-4 1h0m1 0h0m1 0h0m1 0h0m-5 1h0m1 0h0m1 0h0m1 0h0m-4 1h0m1 0h0m1 0h0m1 0h0m-5 1h0m1 0h0m1 0h0m1 0h0m-4 1h0m1 0h0m1 0h0m1 0h0m-4 1h0m1 0h0m1 0h0m-3 1h0m1 0h0m1 0h0m-4 1h0m1 0h0m1 0h0m1 0h0m-4 1h0m1 0h0m1 0h0m-4 1h0m2 0h0m1 0h0m-3 1h0m1 0h0m-3 1h0m1 0h0m1 0h0m-3 1h0m1 0h0m1 0h0m-3 1h0m1 0h0m-1 1h0" stroke="#FC5314" stroke-width="2.1" stroke-linecap="round" fill="none"/><path d="M126 300h0m-8 3h0m-3 1h0m-6 7h0" stroke="#1272CC" stroke-width="2.1" stroke-linecap="round" fill="none"/><path d="M287 258h0m-10 1h0m42 0h0m-13 3h0m-21 1h0m2 4h0m-19 2h0m13 0h0m15 0h0m-23 1h0m11 2h0m12 0h0m-11 1h0m-8 1h0m13 1h0m-12 1h0m30 0h0m-21 1h0m-25 1h0m2 2h0m11 1h0m2 1h0m8 0h0m-11 1h0m23 0h0m-26 1h0m5 0h0m1 0h0m8 0h0m8 0h0m1 1h0m-20 1h0m7 0h0m3 0h0m4 0h0m-17 1h0m6 0h0m13 0h0m4 0h0m-3 1h0m22 0h0m-41 1h0m0 1h0m13 0h0m27 0h0m-44 1h0m13 0h0m-18 1h0m5 0h0m15 0h0m8 0h0m2 0h0m-18 1h0m2 0h0m2 0h0m32 0h0m-22 1h0m14 0h0m-27 1h0m14 0h0m-28 1h0m4 0h0m1 0h0m3 0h0m3 0h0m1 0h0m4 0h0m10 0h0m8 0h0m7 0h0m-36 1h0m5 0h0m3 0h0m3 0h0m1 0h0m3 0h0m7 0h0m-32 1h0m8 0h0m16 0h0m1 0h0m-26 1h0m7 0h0m2 0h0m2 0h0m6 0h0m2 0h0m7 0h0m-23 1h0m7 0h0m13 0h0m5 0h0m-23 1h0m1 0h0m5 0h0m8 0h0m14 0h0m19 0h0m-50 1h0m13 0h0m13 0h0m-24 1h0m10 0h0m6 0h0m12 0h0m6 0h0m14 0h0m16 0h0m-64 1h0m5 0h0m3 0h0m3 0h0m20 0h0m3 0h0m-40 1h0m4 0h0m1 0h0m3 0h0m6 0h0m3 0h0m-5 1h0m7 0h0m3 0h0m2 0h0m22 0h0m1 0h0m-52 1h0m4 0h0m2 0h0m1 0h0m3 0h0m3 0h0m2 0h0m4 0h0m1 0h0m3 0h0m14 0h0m15 0h0m5 0h0m-56 1h0m7 0h0m20 0h0m17 0h0m5 0h0m-50 1h0m13 0h0m2 0h0m1 0h0m6 0h0m4 0h0m4 0h0m3 0h0m22 0h0m5 0h0m-56 1h0m2 0h0m4 0h0m2 0h0m2 0h0m4 0h0m6 0h0m1 0h0m6 0h0m29 0h0m-63 1h0m10 0h0m4 0h0m1 0h0m5 0h0m1 0h0m2 0h0m1 0h0m2 0h0m1 0h0m1 0h0m8 0h0m-30 1h0m6 0h0m4 0h0m1 0h0m1 0h0m10 0h0m5 0h0m3 0h0m1 0h0m5 0h0m6 0h0m11 0h0m-47 1h0m8 0h0m3 0h0m1 0h0m9 0h0m22 0h0m-51 1h0m1 0h0m9 0h0m4 0h0m2 0h0m2 0h0m1 0h0m3 0h0m1 0h0m9 0h0m14 0h0m-46 1h0m3 0h0m4 0h0m2 0h0m4 0h0m4 0h0m1 0h0m1 0h0m4 0h0m3 0h0m11 0h0m20 0h0m-62 1h0m6 0h0m2 0h0m2 0h0m1 0h0m1 0h0m3 0h0m2 0h0m2 0h0m3 0h0m10 0h0m14 0h0m-46 1h0m4 0h0m1 0h0m1 0h0m3 0h0m3 0h0m1 0h0m1 0h0m2 0h0m1 0h0m2 0h0m2 0h0m1 0h0m2 0h0m4 0h0m1 0h0m4 0h0m4 0h0m1 0h0m19 0h0m-63 1h0m7 0h0m3 0h0m4 0h0m2 0h0m2 0h0m3 0h0m2 0h0m3 0h0m1 0h0m5 0h0m4 0h0m7 0h0m2 0h0m6 0h0m-46 1h0m1 0h0m5 0h0m1 0h0m1 0h0m2 0h0m2 0h0m1 0h0m3 0h0m5 0h0m7 0h0m2 0h0m15 0h0m5 0h0m-54 1h0m2 0h0m4 0h0m1 0h0m4 0h0m4 0h0m2 0h0m2 0h0m1 0h0m3 0h0m1 0h0m9 0h0m2 0h0m4 0h0m7 0h0m3 0h0m-54 1h0m1 0h0m12 0h0m1 0h0m2 0h0m1 0h0m2 0h0m1 0h0m1 0h0m4 0h0m4 0h0m1 0h0m3 0h0m2 0h0m4 0h0m1 0h0m2 0h0m2 0h0m1 0h0m2 0h0m1 0h0m-37 1h0m6 0h0m1 0h0m2 0h0m2 0h0m1 0h0m4 0h0m1 0h0m3 0h0m1 0h0m1 0h0m1 0h0m1 0h0m1 0h0m1 0h0m6 0h0m8 0h0m1 0h0m4 0h0m-48 1h0m6 0h0m2 0h0m1 0h0m1 0h0m5 0h0m1 0h0m3 0h0m2 0h0m2 0h0m1 0h0m1 0h0m3 0h0m1 0h0m3 0h0m1 0h0m1 0h0m9 0h0m-41 1h0m3 0h0m1 0h0m4 0h0m1 0h0m1 0h0m1 0h0m2 0h0m1 0h0m1 0h0m1 0h0m5 0h0m2 0h0m3 0h0m4 0h0m1 0h0m1 0h0m2 0h0m1 0h0m1 0h0m1 0h0m-38 1h0m5 0h0m2 0h0m1 0h0m1 0h0m2 0h0m1 0h0m2 0h0m1 0h0m1 0h0m1 0h0m3 0h0m5 0h0m3 0h0m1 0h0m1 0h0m1 0h0m1 0h0m3 0h0m-38 1h0m1 0h0m1 0h0m1 0h0m2 0h0m4 0h0m1 0h0m2 0h0m5 0h0m2 0h0m6 0h0m8 0h0m2 0h0m1 0h0m1 0h0m1 0h0m1 0h0m6 0h0m7 0h0m-53 1h0m1 0h0m1 0h0m3 0h0m1 0h0m1 0h0m2 0h0m1 0h0m1 0h0m1 0h0m1 0h0m1 0h0m1 0h0m2 0h0m1 0h0m1 0h0m2 0h0m2 0h0m6 0h0m2 0h0m1 0h0m4 0h0m1 0h0m4 0h0m9 0h0m9 0h0m-57 1h0m2 0h0m1 0h0m1 0h0m1 0h0m1 0h0m1 0h0m1 0h0m1 0h0m1 0h0m1 0h0m1 0h0m1 0h0m1 0h0m3 0h0m1 0h0m1 0h0m1 0h0m1 0h0m3 0h0m4 0h0m2 0h0m2 0h0m2 0h0m2 0h0m1 0h0m2 0h0m6 0h0m1 0h0m-49 1h0m1 0h0m1 0h0m3 0h0m2 0h0m3 0h0m1 0h0m1 0h0m1 0h0m1 0h0m1 0h0m2 0h0m2 0h0m1 0h0m2 0h0m2 0h0m3 0h0m1 0h0m1 0h0m1 0h0m1 0h0m4 0h0m1 0h0m1 0h0m1 0h0m6 0h0m31 0h0m-76 1h0m1 0h0m1 0h0m1 0h0m4 0h0m2 0h0m1 0h0m2 0h0m1 0h0m1 0h0m1 0h0m2 0h0m1 0h0m1 0h0m2 0h0m2 0h0m2 0h0m3 0h0m1 0h0m1 0h0m1 0h0m1 0h0m4 0h0m3 0h0m1 0h0m-46 1h0m6 0h0m3 0h0m1 0h0m1 0h0m1 0h0m1 0h0m1 0h0m2 0h0m1 0h0m1 0h0m1 0h0m1 0h0m1 0h0m1 0h0m2 0h0m1 0h0m1 0h0m1 0h0m1 0h0m1 0h0m1 0h0m1 0h0m2 0h0m1 0h0m4 0h0m1 0h0m12 0h0m9 0h0m1 0h0m4 0h0m-64 1h0m1 0h0m4 0h0m1 0h0m3 0h0m1 0h0m3 0h0m1 0h0m2 0h0m1 0h0m1 0h0m1 0h0m1 0h0m3 0h0m1 0h0m1 0h0m1 0h0m2 0h0m1 0h0m2 0h0m2 0h0m3 0h0m1 0h0m1 0h0m3 0h0m3 0h0m5 0h0m-49 1h0m1 0h0m5 0h0m1 0h0m1 0h0m1 0h0m1 0h0m1 0h0m3 0h0m2 0h0m1 0h0m1 0h0m2 0h0m2 0h0m1 0h0m3 0h0m4 0h0m2 0h0m5 0h0m1 0h0m2 0h0m-39 1h0m1 0h0m1 0h0m1 0h0m2 0h0m1 0h0m1 0h0m1 0h0m2 0h0m1 0h0m1 0h0m1 0h0m1 0h0m1 0h0m2 0h0m2 0h0m5 0h0m2 0h0m1 0h0m1 0h0m1 0h0m1 0h0m3 0h0m5 0h0m1 0h0m1 0h0m1 0h0m11 0h0m-53 1h0m3 0h0m2 0h0m1 0h0m1 0h0m1 0h0m1 0h0m2 0h0m1 0h0m2 0h0m1 0h0m2 0h0m1 0h0m1 0h0m2 0h0m2 0h0m1 0h0m2 0h0m1 0h0m1 0h0m2 0h0m1 0h0m2 0h0m2 0h0m2 0h0m1 0h0m7 0h0m2 0h0m1 0h0m2 0h0m3 0h0m-56 1h0m2 0h0m3 0h0m2 0h0m1 0h0m1 0h0m1 0h0m1 0h0m1 0h0m2 0h0m1 0h0m2 0h0m1 0h0m1 0h0m1 0h0m1 0h0m1 0h0m2 0h0m1 0h0m1 0h0m3 0h0m2 0h0m1 0h0m2 0h0m1 0h0m1 0h0m7 0h0m13 0h0m-52 1h0m1 0h0m2 0h0m1 0h0m1 0h0m1 0h0m1 0h0m1 0h0m1 0h0m1 0h0m1 0h0m1 0h0m2 0h0m1 0h0m1 0h0m1 0h0m1 0h0m2 0h0m1 0h0m1 0h0m1 0h0m2 0h0m3 0h0m1 0h0m4 0h0m2 0h0m1 0h0m3 0h0m8 0h0m-50 1h0m4 0h0m2 0h0m1 0h0m1 0h0m1 0h0m1 0h0m1 0h0m2 0h0m1 0h0m2 0h0m1 0h0m1 0h0m1 0h0m1 0h0m1 0h0m3 0h0m1 0h0m1 0h0m1 0h0m1 0h0m1 0h0m1 0h0m2 0h0m1 0h0m1 0h0m1 0h0m1 0h0m5 0h0m1 0h0m4 0h0m1 0h0m3 0h0m-49 1h0m2 0h0m1 0h0m2 0h0m1 0h0m1 0h0m1 0h0m2 0h0m1 0h0m1 0h0m1 0h0m1 0h0m1 0h0m1 0h0m1 0h0m2 0h0m1 0h0m1 0h0m1 0h0m1 0h0m1 0h0m1 0h0m1 0h0m1 0h0m1 0h0m2 0h0m2 0h0m2 0h0m2 0h0m2 0h0m4 0h0m-43 1h0m1 0h0m2 0h0m1 0h0m1 0h0m2 0h0m1 0h0m1 0h0m2 0h0m1 0h0m1 0h0m1 0h0m1 0h0m1 0h0m1 0h0m1 0h0m2 0h0m1 0h0m1 0h0m1 0h0m1 0h0m1 0h0m1 0h0m1 0h0m1 0h0m1 0h0m1 0h0m2 0h0m1 0h0m1 0h0m4 0h0m4 0h0m2 0h0m33 0h0m-79 1h0m1 0h0m1 0h0m1 0h0m2 0h0m1 0h0m2 0h0m1 0h0m1 0h0m2 0h0m1 0h0m1 0h0m1 0h0m1 0h0m1 0h0m1 0h0m1 0h0m1 0h0m1 0h0m1 0h0m1 0h0m1 0h0m1 0h0m1 0h0m1 0h0m1 0h0m1 0h0m1 0h0m1 0h0m1 0h0m1 0h0m1 0h0m1 0h0m1 0h0m1 0h0m3 0h0m1 0h0m2 0h0m3 0h0m2 0h0m-48 1h0m3 0h0m1 0h0m1 0h0m1 0h0m1 0h0m2 0h0m1 0h0m1 0h0m2 0h0m1 0h0m1 0h0m1 0h0m1 0h0m1 0h0m1 0h0m2 0h0m1 0h0m1 0h0m1 0h0m1 0h0m1 0h0m1 0h0m1 0h0m2 0h0m1 0h0m1 0h0m1 0h0m1 0h0m6 0h0m9 0h0m13 0h0m-63 1h0m1 0h0m1 0h0m1 0h0m2 0h0m1 0h0m1 0h0m1 0h0m1 0h0m1 0h0m1 0h0m1 0h0m2 0h0m2 0h0m1 0h0m1 0h0m1 0h0m1 0h0m1 0h0m1 0h0m1 0h0m1 0h0m1 0h0m1 0h0m2 0h0m2 0h0m1 0h0m1 0h0m1 0h0m4 0h0m2 0h0m1 0h0m5 0h0m4 0h0m8 0h0m-57 1h0m2 0h0m1 0h0m1 0h0m1 0h0m1 0h0m1 0h0m1 0h0m1 0h0m1 0h0m1 0h0m1 0h0m1 0h0m1 0h0m1 0h0m1 0h0m2 0h0m1 0h0m1 0h0m1 0h0m1 0h0m1 0h0m1 0h0m1 0h0m1 0h0m1 0h0m1 0h0m1 0h0m1 0h0m4 0h0m3 0h0m1 0h0m2 0h0m1 0h0m-40 1h0m1 0h0m1 0h0m1 0h0m1 0h0m1 0h0m1 0h0m1 0h0m1 0h0m1 0h0m1 0h0m2 0h0m1 0h0m1 0h0m1 0h0m1 0h0m1 0h0m1 0h0m1 0h0m1 0h0m1 0h0m1 0h0m1 0h0m1 0h0m1 0h0m1 0h0m1 0h0m3 0h0m8 0h0m5 0h0m6 0h0m-48 1h0m1 0h0m2 0h0m1 0h0m1 0h0m1 0h0m1 0h0m1 0h0m1 0h0m1 0h0m1 0h0m1 0h0m1 0h0m1 0h0m1 0h0m1 0h0m1 0h0m1 0h0m1 0h0m1 0h0m1 0h0m1 0h0m1 0h0m1 0h0m1 0h0m4 0h0m1 0h0m8 0h0m-39 1h0m1 0h0m1 0h0m1 0h0m2 0h0m1 0h0m1 0h0m1 0h0m1 0h0m1 0h0m1 0h0m1 0h0m1 0h0m1 0h0m1 0h0m1 0h0m1 0h0m1 0h0m1 0h0m1 0h0m1 0h0m1 0h0m2 0h0m1 0h0m1 0h0m1 0h0m1 0h0m2 0h0m2 0h0m1 0h0m8 0h0m-43 1h0m2 0h0m1 0h0m2 0h0m1 0h0m1 0h0m1 0h0m1 0h0m1 0h0m1 0h0m1 0h0m1 0h0m1 0h0m1 0h0m1 0h0m1 0h0m1 0h0m1 0h0m1 0h0m1 0h0m1 0h0m1 0h0m1 0h0m1 0h0m1 0h0m2 0h0m8 0h0m1 0h0m1 0h0m14 0h0m-52 1h0m1 0h0m1 0h0m2 0h0m1 0h0m1 0h0m1 0h0m1 0h0m1 0h0m1 0h0m1 0h0m1 0h0m1 0h0m1 0h0m1 0h0m1 0h0m1 0h0m1 0h0m1 0h0m1 0h0m1 0h0m1 0h0m1 0h0m1 0h0m1 0h0m1 0h0m1 0h0m1 0h0m1 0h0m1 0h0m2 0h0m1 0h0m4 0h0m13 0h0m-50 1h0m1 0h0m1 0h0m1 0h0m1 0h0m1 0h0m1 0h0m1 0h0m1 0h0m1 0h0m1 0h0m1 0h0m1 0h0m1 0h0m1 0h0m1 0h0m1 0h0m1 0h0m1 0h0m1 0h0m2 0h0m1 0h0m2 0h0m1 0h0m1 0h0m2 0h0m1 0h0m1 0h0m3 0h0m-34 1h0m1 0h0m1 0h0m1 0h0m1 0h0m1 0h0m1 0h0m1 0h0m1 0h0m1 0h0m1 0h0m1 0h0m1 0h0m1 0h0m1 0h0m1 0h0m1 0h0m1 0h0m1 0h0m1 0h0m2 0h0m1 0h0m1 0h0m1 0h0m1 0h0m1 0h0m5 0h0m2 0h0m1 0h0m3 0h0m2 0h0m28 0h0m-66 1h0m1 0h0m1 0h0m1 0h0m1 0h0m1 0h0m1 0h0m1 0h0m1 0h0m1 0h0m1 0h0m1 0h0m1 0h0m1 0h0m1 0h0m1 0h0m1 0h0m1 0h0m1 0h0m1 0h0m1 0h0m1 0h0m3 0h0m2 0h0m4 0h0m9 0h0m16 0h0m-56 1h0m1 0h0m1 0h0m1 0h0m1 0h0m1 0h0m1 0h0m1 0h0m1 0h0m1 0h0m1 0h0m1 0h0m1 0h0m1 0h0m1 0h0m1 0h0m1 0h0m1 0h0m1 0h0m1 0h0m1 0h0m1 0h0m1 0h0m1 0h0m1 0h0m2 0h0m2 0h0m1 0h0m1 0h0m5 0h0m7 0h0m5 0h0m-50 1h0m1 0h0m3 0h0m1 0h0m1 0h0m1 0h0m1 0h0m1 0h0m1 0h0m1 0h0m1 0h0m1 0h0m1 0h0m1 0h0m1 0h0m1 0h0m1 0h0m2 0h0m1 0h0m2 0h0m1 0h0m1 0h0m1 0h0m2 0h0m-27 1h0m1 0h0m1 0h0m1 0h0m1 0h0m1 0h0m1 0h0m1 0h0m1 0h0m1 0h0m1 0h0m1 0h0m1 0h0m1 0h0m1 0h0m1 0h0m1 0h0m1 0h0m1 0h0m1 0h0m2 0h0m3 0h0m4 0h0m7 0h0m-36 1h0m1 0h0m1 0h0m1 0h0m1 0h0m1 0h0m1 0h0m1 0h0m1 0h0m1 0h0m1 0h0m1 0h0m1 0h0m1 0h0m1 0h0m1 0h0m1 0h0m1 0h0m3 0h0m2 0h0m1 0h0m1 0h0m1 0h0m3 0h0m-26 1h0m1 0h0m1 0h0m1 0h0m1 0h0m1 0h0m1 0h0m1 0h0m1 0h0m1 0h0m1 0h0m1 0h0m2 0h0m1 0h0m1 0h0m1 0h0m1 0h0m1 0h0m1 0h0m1 0h0m1 0h0m5 0h0m14 0h0m1 0h0m-42 1h0m1 0h0m1 0h0m1 0h0m1 0h0m1 0h0m1 0h0m1 0h0m1 0h0m1 0h0m1 0h0m1 0h0m1 0h0m1 0h0m1 0h0m1 0h0m1 0h0m1 0h0m2 0h0m1 0h0m2 0h0m1 0h0m-23 1h0m1 0h0m1 0h0m1 0h0m1 0h0m1 0h0m1 0h0m1 0h0m1 0h0m1 0h0m1 0h0m1 0h0m2 0h0m1 0h0m1 0h0m3 0h0m1 0h0m1 0h0m2 0h0m2 0h0m6 0h0m6 0h0m-36 1h0m1 0h0m1 0h0m1 0h0m1 0h0m1 0h0m1 0h0m1 0h0m1 0h0m1 0h0m1 0h0m1 0h0m1 0h0m3 0h0m1 0h0m1 0h0m2 0h0m1 0h0m6 0h0m9 0h0m3 0h0m-38 1h0m1 0h0m1 0h0m1 0h0m1 0h0m2 0h0m1 0h0m2 0h0m3 0h0m4 0h0m4 0h0" stroke="#008000" stroke-width="2.1" stroke-linecap="round" fill="none"/><path d="M219 326h0m6 0h0m-5 4h0m2 0h0m-3 1h0m1 0h0m1 0h0m2 0h0m3 0h0m-2 1h0m1 0h0m-4 1h0m-3 1h0m1 0h0m1 0h0m3 0h0m1 0h0m1 0h0m2 0h0m-9 1h0m1 0h0m2 0h0m1 0h0m2 0h0m1 0h0m1 0h0m1 0h0m2 0h0m-11 1h0m1 0h0m1 0h0m2 0h0m3 0h0m2 0h0m1 0h0m7 0h0m-16 1h0m1 0h0m1 0h0m2 0h0m1 0h0m2 0h0m1 0h0m2 0h0m-10 1h0m1 0h0m1 0h0m1 0h0m2 0h0m1 0h0m1 0h0m1 0h0m3 0h0m5 0h0m-17 1h0m1 0h0m1 0h0m1 0h0m1 0h0m1 0h0m2 0h0m1 0h0m1 0h0m3 0h0m1 0h0m-13 1h0m1 0h0m1 0h0m1 0h0m2 0h0m1 0h0m1 0h0m1 0h0m2 0h0m3 0h0m2 0h0m1 0h0m-16 1h0m1 0h0m1 0h0m1 0h0m1 0h0m1 0h0m1 0h0m1 0h0m1 0h0m1 0h0m1 0h0m1 0h0m1 0h0m2 0h0m1 0h0m1 0h0m1 0h0m3 0h0m-20 1h0m1 0h0m1 0h0m1 0h0m1 0h0m2 0h0m1 0h0m1 0h0m1 0h0m1 0h0m1 0h0m2 0h0m1 0h0m2 0h0m1 0h0m-17 1h0m1 0h0m1 0h0m1 0h0m2 0h0m1 0h0m1 0h0m1 0h0m1 0h0m1 0h0m1 0h0m1 0h0m1 0h0m1 0h0m1 0h0m-14 1h0m1 0h0m1 0h0m1 0h0m1 0h0m1 0h0m1 0h0m1 0h0m1 0h0m3 0h0m2 0h0m1 0h0m1 0h0m1 0h0m2 0h0m-19 1h0m1 0h0m1 0h0m1 0h0m1 0h0m1 0h0m1 0h0m1 0h0m1 0h0m1 0h0m1 0h0m1 0h0m1 0h0m1 0h0m1 0h0m2 0h0m1 0h0m1 0h0m1 0h0m2 0h0m3 0h0m-24 1h0m1 0h0m1 0h0m1 0h0m1 0h0m1 0h0m1 0h0m1 0h0m1 0h0m1 0h0m1 0h0m1 0h0m1 0h0m1 0h0m2 0h0m1 0h0m1 0h0m1 0h0m1 0h0m1 0h0m-20 1h0m1 0h0m1 0h0m1 0h0m1 0h0m1 0h0m1 0h0m1 0h0m1 0h0m1 0h0m1 0h0m1 0h0m1 0h0m1 0h0m1 0h0m1 0h0m1 0h0m1 0h0m2 0h0m-19 1h0m1 0h0m1 0h0m1 0h0m1 0h0m1 0h0m1 0h0m1 0h0m1 0h0m1 0h0m1 0h0m1 0h0m1 0h0m1 0h0m1 0h0m1 0h0m1 0h0m1 0h0m1 0h0m2 0h0m-20 1h0m1 0h0m1 0h0m1 0h0m1 0h0m1 0h0m1 0h0m1 0h0m1 0h0m1 0h0m1 0h0m1 0h0m1 0h0m1 0h0m1 0h0m4 0h0m1 0h0m-18 1h0m1 0h0m1 0h0m1 0h0m1 0h0m1 0h0m1 0h0m1 0h0m1 0h0m1 0h0m1 0h0m1 0h0m1 0h0m1 0h0m1 0h0m1 0h0m1 0h0m1 0h0m1 0h0m2 0h0m2 0h0m-23 1h0m1 0h0m1 0h0m1 0h0m1 0h0m1 0h0m1 0h0m1 0h0m1 0h0m1 0h0m1 0h0m1 0h0m1 0h0m1 0h0m1 0h0m1 0h0m1 0h0m1 0h0m3 0h0m1 0h0m-21 1h0m1 0h0m1 0h0m1 0h0m1 0h0m1 0h0m1 0h0m1 0h0m1 0h0m1 0h0m1 0h0m1 0h0m1 0h0m1 0h0m1 0h0m1 0h0m1 0h0m1 0h0m1 0h0m1 0h0m1 0h0m-20 1h0m1 0h0m1 0h0m1 0h0m1 0h0m1 0h0m1 0h0m1 0h0m1 0h0m1 0h0m1 0h0m1 0h0m1 0h0m1 0h0m1 0h0m1 0h0m1 0h0m1 0h0m1 0h0m1 0h0m1 0h0m1 0h0m1 0h0m-22 1h0m1 0h0m1 0h0m1 0h0m1 0h0m1 0h0m1 0h0m1 0h0m1 0h0m1 0h0m1 0h0m1 0h0m1 0h0m1 0h0m1 0h0m1 0h0m1 0h0m1 0h0m2 0h0m1 0h0m2 0h0m3 0h0m-25 1h0m1 0h0m1 0h0m1 0h0m1 0h0m1 0h0m1 0h0m1 0h0m1 0h0m1 0h0m1 0h0m1 0h0m1 0h0m1 0h0m1 0h0m1 0h0m1 0h0m1 0h0m1 0h0m2 0h0m1 0h0m1 0h0m1 0h0m-23 1h0m1 0h0m1 0h0m1 0h0m1 0h0m1 0h0m1 0h0m1 0h0m1 0h0m1 0h0m1 0h0m1 0h0m1 0h0m1 0h0m1 0h0m1 0h0m1 0h0m1 0h0m1 0h0m1 0h0m1 0h0m1 0h0m1 0h0m7 0h0m-29 1h0m1 0h0m1 0h0m1 0h0m1 0h0m1 0h0m1 0h0m1 0h0m1 0h0m1 0h0m1 0h0m1 0h0m1 0h0m1 0h0m1 0h0m1 0h0m1 0h0m1 0h0m1 0h0m1 0h0m1 0h0m2 0h0m-22 1h0m1 0h0m1 0h0m1 0h0m1 0h0m1 0h0m1 0h0m1 0h0m1 0h0m1 0h0m1 0h0m1 0h0m1 0h0m1 0h0m1 0h0m1 0h0m1 0h0m1 0h0m1 0h0m1 0h0m1 0h0m1 0h0m3 0h0m-24 1h0m1 0h0m1 0h0m1 0h0m1 0h0m1 0h0m1 0h0m1 0h0m1 0h0m1 0h0m1 0h0m1 0h0m1 0h0m1 0h0m1 0h0m1 0h0m1 0h0m1 0h0m1 0h0m1 0h0m1 0h0m1 0h0m2 0h0m-23 1h0m1 0h0m1 0h0m1 0h0m1 0h0m1 0h0m1 0h0m1 0h0m1 0h0m1 0h0m1 0h0m1 0h0m1 0h0m1 0h0m2 0h0m1 0h0m1 0h0m1 0h0m1 0h0m1 0h0m1 0h0m2 0h0m1 0h0m1 0h0m-25 1h0m1 0h0m1 0h0m1 0h0m1 0h0m1 0h0m1 0h0m1 0h0m1 0h0m1 0h0m1 0h0m1 0h0m1 0h0m1 0h0m2 0h0m1 0h0m1 0h0m1 0h0m2 0h0m2 0h0m1 0h0m-23 1h0m1 0h0m1 0h0m1 0h0m1 0h0m1 0h0m1 0h0m1 0h0m1 0h0m1 0h0m1 0h0m1 0h0m1 0h0m1 0h0m1 0h0m1 0h0m1 0h0m1 0h0m1 0h0m1 0h0m1 0h0m3 0h0m1 0h0m-24 1h0m1 0h0m1 0h0m1 0h0m1 0h0m1 0h0m1 0h0m1 0h0m1 0h0m1 0h0m1 0h0m1 0h0m1 0h0m2 0h0m1 0h0m1 0h0m1 0h0m1 0h0m2 0h0m1 0h0m1 0h0m1 0h0m-23 1h0m1 0h0m1 0h0m1 0h0m1 0h0m1 0h0m1 0h0m2 0h0m1 0h0m1 0h0m2 0h0m1 0h0m1 0h0m1 0h0m1 0h0m1 0h0m1 0h0m1 0h0m1 0h0m1 0h0m1 0h0m3 0h0" stroke="#FC5314" stroke-width="2.1" stroke-linecap="round" fill="none"/><path d="M227 316h0m2 2h0m3 0h0m-5 1h0m2 0h0m-1 1h0m1 0h0m3 0h0m-2 1h0m7 0h0m-10 1h0m-1 1h0m7 0h0m-5 1h0m7 0h0m8 0h0m-19 1h0m3 0h0m1 0h0m4 0h0m6 0h0m-12 1h0m8 0h0m11 0h0m-8 1h0m2 0h0m1 0h0m-13 1h0m10 0h0m1 0h0m3 0h0m2 0h0m2 0h0m-18 1h0m8 0h0m-7 1h0m12 0h0m-14 1h0m21 0h0m-25 1h0m20 0h0m-17 1h0m-1 1h0m6 0h0m-4 1h0m7 0h0m4 0h0m11 0h0m-12 1h0m9 0h0m2 0h0m2 0h0m-11 1h0m-2 1h0m15 2h0m-12 1h0m3 0h0m-6 2h0m7 0h0m7 0h0m-16 1h0m4 0h0m9 0h0m-8 1h0m5 0h0m1 0h0m2 0h0m7 0h0m-17 1h0m8 0h0m-8 1h0m17 0h0m-10 1h0m2 0h0m-4 1h0m1 0h0m1 0h0m4 0h0m2 1h0m-11 1h0m1 1h0m1 1h0m2 0h0m0 1h0" stroke="#FC5314" stroke-width="2.1" stroke-linecap="round" fill="none"/><path d="M277 274h0m-2 7h0m10 1h0m8 2h0m-19 2h0m38 4h0m-44 1h0m-5 1h0m26 2h0m-1 2h0m15 0h0m-28 1h0m7 0h0m-19 2h0m19 0h0m42 4h0m-70 2h0m32 2h0m15 0h0m-51 1h0m7 0h0m5 1h0m17 0h0m25 0h0m-52 3h0m42 0h0m7 1h0m-51 1h0m14 0h0m4 0h0m-11 2h0m34 0h0m-34 1h0m45 0h0m-53 1h0m8 0h0m33 0h0m-45 1h0m5 0h0m10 0h0m-14 1h0m5 0h0m6 0h0m3 0h0m26 0h0m-30 1h0m4 0h0m14 0h0m1 0h0m8 0h0m-13 1h0m-21 1h0m-4 1h0m3 0h0m20 0h0m9 0h0m3 0h0m-20 1h0m1 0h0m12 0h0m1 0h0m5 0h0m-38 1h0m10 0h0m7 0h0m-18 1h0m9 0h0m-2 1h0m7 0h0m1 0h0m15 0h0m2 0h0m2 0h0m13 0h0m-43 1h0m2 0h0m3 0h0m2 0h0m3 0h0m4 0h0m1 0h0m8 0h0m1 0h0m1 0h0m5 0h0m3 0h0m-29 1h0m8 0h0m5 0h0m9 0h0m7 0h0m1 0h0m-34 1h0m4 0h0m11 0h0m2 0h0m1 0h0m30 0h0m1 0h0m-47 1h0m11 0h0m-18 1h0m1 0h0m10 0h0m3 0h0m-16 1h0m14 0h0m10 0h0m1 0h0m2 0h0m3 0h0m19 0h0m-47 1h0m3 0h0m2 0h0m3 0h0m1 0h0m3 0h0m5 0h0m1 0h0m2 0h0m2 0h0m7 0h0m2 0h0m-31 1h0m2 0h0m4 0h0m3 0h0m2 0h0m1 0h0m10 0h0m25 0h0m-45 1h0m3 0h0m2 0h0m2 0h0m4 0h0m11 0h0m-26 1h0m5 0h0m5 0h0m10 0h0m3 0h0m1 0h0m2 0h0m14 0h0m-38 1h0m3 0h0m2 0h0m1 0h0m3 0h0m4 0h0m4 0h0m1 0h0m13 0h0m-31 1h0m1 0h0m4 0h0m2 0h0m1 0h0m2 0h0m4 0h0m6 0h0m2 0h0m-24 1h0m4 0h0m8 0h0m2 0h0m1 0h0m4 0h0m1 0h0m6 0h0m2 0h0m-25 1h0m2 0h0m3 0h0m1 0h0m6 0h0m1 0h0m3 0h0m5 0h0m30 0h0m-53 1h0m2 0h0m8 0h0m4 0h0m1 0h0m3 0h0m12 0h0m17 0h0m-49 1h0m1 0h0m2 0h0m2 0h0m1 0h0m1 0h0m1 0h0m2 0h0m2 0h0m1 0h0m1 0h0m1 0h0m2 0h0m1 0h0m2 0h0m6 0h0m4 0h0m-30 1h0m1 0h0m1 0h0m1 0h0m4 0h0m3 0h0m3 0h0m10 0h0m8 0h0m-29 1h0m2 0h0m1 0h0m6 0h0m7 0h0m5 0h0m9 0h0m-32 1h0m3 0h0m4 0h0m1 0h0m1 0h0m3 0h0m1 0h0m2 0h0m8 0h0m-21 1h0m1 0h0m1 0h0m3 0h0m1 0h0m2 0h0m1 0h0m3 0h0m3 0h0m26 0h0m-43 1h0m1 0h0m2 0h0m1 0h0m3 0h0m3 0h0m5 0h0m2 0h0m7 0h0m-24 1h0m2 0h0m1 0h0m1 0h0m1 0h0m1 0h0m1 0h0m3 0h0m2 0h0m5 0h0m4 0h0m3 0h0m-24 1h0m5 0h0m1 0h0m1 0h0m1 0h0m1 0h0m2 0h0m2 0h0m2 0h0m-15 1h0m1 0h0m1 0h0m1 0h0m1 0h0m1 0h0m1 0h0m1 0h0m1 0h0m22 0h0m-30 1h0m1 0h0m1 0h0m2 0h0m5 0h0m-10 1h0m1 0h0m2 0h0m1 0h0m1 0h0m4 0h0m-8 1h0m1 0h0m1 0h0m1 0h0m1 0h0m2 0h0m-5 1h0m2 0h0m6 0h0m1 0h0m-8 1h0m8 0h0m20 0h0m-30 1h0m2 0h0m3 0h0m2 1h0m17 0h0m-17 1h0m-3 1h0" stroke="#008000" stroke-width="2.1" stroke-linecap="round" fill="none"/><path d="M268 285h0m-6 7h0m-12 2h0m-7 13h0m-12 9h0m5 2h0m-8 4h0m12 3h0m-13 2h0m5 3h0" stroke="#FC5314" stroke-width="2.1" stroke-linecap="round" fill="none"/><path d="M316 295h0m-2 1h0m-6 5h0m-8 5h0m-7 4h0m-4 1h0m1 0h0m-2 1h0m1 0h0m-3 1h0m1 0h0m1 0h0m-4 1h0m1 0h0m1 0h0m1 0h0m-4 1h0m1 0h0m1 0h0m-4 1h0m2 0h0m1 0h0m-3 1h0m1 0h0m1 0h0m-4 1h0m1 0h0m1 0h0m-3 1h0m1 0h0m1 0h0m-4 1h0m1 0h0m1 0h0m1 0h0m-4 1h0m1 0h0m1 0h0m1 0h0m-4 1h0m1 0h0m1 0h0m-4 1h0m1 0h0m1 0h0m-3 1h0m1 0h0m1 0h0m-4 1h0m1 0h0m1 0h0m-3 1h0m1 0h0m1 0h0m-3 1h0m1 0h0m1 0h0m-4 1h0m1 0h0m1 0h0m1 0h0m-4 1h0m1 0h0m1 0h0m1 0h0m-5 1h0m1 0h0m1 0h0m1 0h0m-4 1h0m1 0h0m1 0h0m-3 1h0m1 0h0m1 0h0m1 0h0m-5 1h0m1 0h0m1 0h0m1 0h0m-4 1h0m1 0h0m1 0h0m1 0h0m-5 1h0m1 0h0m1 0h0m1 0h0m-4 1h0m1 0h0m1 0h0m1 0h0m-4 1h0m1 0h0m1 0h0m1 0h0m-4 1h0m1 0h0m-3 1h0m1 0h0m1 0h0m1 0h0m-5 1h0m1 0h0m1 0h0m1 0h0m1 0h0m-5 1h0m1 0h0m1 0h0m1 0h0m-4 1h0m1 0h0m1 0h0m-4 1h0m1 0h0m1 0h0m1 0h0m-3 1h0m1 0h0m-4 1h0m1 0h0m1 0h0m1 0h0m-3 1h0m1 0h0m1 0h0m-4 1h0m1 0h0m1 0h0m-3 1h0m1 0h0m1 0h0m-3 1h0m1 0h0m-4 1h0m1 0h0m1 0h0m1 0h0m-4 1h0m1 0h0m1 0h0m1 0h0m1 0h0m-6 1h0m1 0h0m1 0h0m1 0h0m-3 1h0m1 0h0m1 0h0m1 0h0m-3 1h0m1 0h0" stroke="#1272CC" stroke-width="2.1" stroke-linecap="round" fill="none"/><path d="M456 257h0m7 2h0m34 2h0m-48 1h0m31 0h0m-17 3h0m21 0h0m-24 1h0m7 2h0m10 1h0m-17 1h0m2 0h0m11 0h0m17 0h0m16 0h0m-10 2h0m-49 1h0m29 0h0m15 0h0m-26 1h0m16 0h0m11 0h0m13 0h0m-47 2h0m6 0h0m4 1h0m21 1h0m-34 1h0m4 0h0m37 0h0m-45 1h0m9 0h0m3 0h0m6 0h0m30 0h0m-27 1h0m-7 1h0m4 0h0m4 0h0m4 0h0m10 0h0m13 0h0m-59 1h0m10 0h0m16 0h0m2 0h0m6 1h0m6 0h0m-19 1h0m12 0h0m-19 1h0m9 0h0m40 0h0m-58 1h0m-3 1h0m23 0h0m8 0h0m3 0h0m-28 1h0m15 0h0m3 0h0m1 0h0m-15 1h0m22 0h0m17 0h0m-45 1h0m7 0h0m1 0h0m7 0h0m1 0h0m16 0h0m-21 1h0m6 0h0m6 0h0m15 0h0m14 0h0m-42 1h0m7 0h0m3 0h0m-28 1h0m5 0h0m4 0h0m11 0h0m8 0h0m6 0h0m-29 1h0m5 0h0m2 0h0m10 0h0m3 0h0m10 0h0m10 0h0m7 0h0m1 0h0m-58 1h0m3 0h0m2 0h0m15 0h0m5 0h0m5 0h0m8 0h0m-31 1h0m3 0h0m10 0h0m14 0h0m18 0h0m4 0h0m-45 1h0m4 0h0m9 0h0m1 0h0m-22 1h0m10 0h0m2 0h0m14 0h0m5 0h0m3 0h0m-26 1h0m4 0h0m6 0h0m3 0h0m2 0h0m1 0h0m-19 1h0m4 0h0m6 0h0m6 0h0m2 0h0m10 0h0m5 0h0m10 0h0m8 0h0m-59 1h0m15 0h0m1 0h0m4 0h0m7 0h0m1 0h0m2 0h0m29 0h0m-55 1h0m1 0h0m1 0h0m5 0h0m1 0h0m10 0h0m12 0h0m15 0h0m-30 1h0m2 0h0m8 0h0m5 0h0m30 0h0m4 0h0m-74 1h0m16 0h0m2 0h0m5 0h0m2 0h0m3 0h0m2 0h0m3 0h0m13 0h0m6 0h0m6 0h0m9 0h0m-64 1h0m2 0h0m8 0h0m1 0h0m8 0h0m5 0h0m1 0h0m3 0h0m7 0h0m12 0h0m8 0h0m2 0h0m-54 1h0m3 0h0m2 0h0m1 0h0m9 0h0m10 0h0m5 0h0m12 0h0m5 0h0m-49 1h0m1 0h0m3 0h0m2 0h0m3 0h0m4 0h0m2 0h0m7 0h0m4 0h0m1 0h0m2 0h0m3 0h0m3 0h0m7 0h0m-39 1h0m1 0h0m4 0h0m11 0h0m3 0h0m4 0h0m19 0h0m9 0h0m-54 1h0m7 0h0m3 0h0m1 0h0m1 0h0m1 0h0m6 0h0m4 0h0m4 0h0m7 0h0m2 0h0m1 0h0m9 0h0m9 0h0m-57 1h0m6 0h0m1 0h0m1 0h0m1 0h0m1 0h0m2 0h0m6 0h0m10 0h0m2 0h0m5 0h0m-37 1h0m7 0h0m1 0h0m5 0h0m5 0h0m3 0h0m2 0h0m5 0h0m1 0h0m12 0h0m11 0h0m-48 1h0m3 0h0m2 0h0m4 0h0m5 0h0m3 0h0m1 0h0m14 0h0m4 0h0m5 0h0m3 0h0m3 0h0m-45 1h0m1 0h0m4 0h0m3 0h0m1 0h0m3 0h0m5 0h0m1 0h0m3 0h0m5 0h0m2 0h0m3 0h0m7 0h0m2 0h0m10 0h0m-55 1h0m3 0h0m1 0h0m10 0h0m2 0h0m6 0h0m11 0h0m1 0h0m5 0h0m16 0h0m6 0h0m-61 1h0m3 0h0m3 0h0m2 0h0m7 0h0m6 0h0m9 0h0m7 0h0m5 0h0m8 0h0m9 0h0m-66 1h0m1 0h0m2 0h0m2 0h0m1 0h0m3 0h0m1 0h0m5 0h0m4 0h0m5 0h0m1 0h0m2 0h0m1 0h0m3 0h0m12 0h0m3 0h0m-47 1h0m2 0h0m7 0h0m3 0h0m4 0h0m1 0h0m1 0h0m9 0h0m6 0h0m1 0h0m3 0h0m4 0h0m2 0h0m1 0h0m30 0h0m-71 1h0m4 0h0m1 0h0m2 0h0m1 0h0m3 0h0m4 0h0m4 0h0m1 0h0m1 0h0m3 0h0m4 0h0m2 0h0m3 0h0m1 0h0m4 0h0m10 0h0m9 0h0m-63 1h0m4 0h0m2 0h0m1 0h0m2 0h0m4 0h0m6 0h0m18 0h0m1 0h0m1 0h0m3 0h0m1 0h0m1 0h0m6 0h0m-50 1h0m1 0h0m3 0h0m3 0h0m1 0h0m1 0h0m4 0h0m2 0h0m1 0h0m4 0h0m3 0h0m4 0h0m6 0h0m1 0h0m6 0h0m1 0h0m2 0h0m2 0h0m1 0h0m8 0h0m4 0h0m-52 1h0m4 0h0m5 0h0m1 0h0m2 0h0m2 0h0m1 0h0m2 0h0m2 0h0m4 0h0m1 0h0m3 0h0m11 0h0m6 0h0m6 0h0m-56 1h0m4 0h0m3 0h0m1 0h0m2 0h0m1 0h0m1 0h0m1 0h0m5 0h0m1 0h0m1 0h0m1 0h0m3 0h0m1 0h0m2 0h0m5 0h0m1 0h0m1 0h0m2 0h0m1 0h0m2 0h0m1 0h0m-43 1h0m9 0h0m4 0h0m1 0h0m1 0h0m2 0h0m2 0h0m3 0h0m3 0h0m10 0h0m2 0h0m5 0h0m6 0h0m1 0h0m-50 1h0m1 0h0m2 0h0m3 0h0m2 0h0m5 0h0m2 0h0m1 0h0m1 0h0m4 0h0m1 0h0m1 0h0m2 0h0m2 0h0m1 0h0m2 0h0m5 0h0m1 0h0m1 0h0m4 0h0m20 0h0m16 0h0m-79 1h0m1 0h0m7 0h0m1 0h0m10 0h0m2 0h0m2 0h0m1 0h0m1 0h0m1 0h0m1 0h0m1 0h0m2 0h0m5 0h0m1 0h0m4 0h0m1 0h0m1 0h0m4 0h0m-37 1h0m3 0h0m4 0h0m1 0h0m1 0h0m1 0h0m4 0h0m3 0h0m1 0h0m2 0h0m3 0h0m5 0h0m2 0h0m1 0h0m2 0h0m1 0h0m1 0h0m2 0h0m9 0h0m3 0h0m-53 1h0m4 0h0m1 0h0m1 0h0m3 0h0m1 0h0m2 0h0m1 0h0m2 0h0m1 0h0m2 0h0m2 0h0m1 0h0m5 0h0m1 0h0m4 0h0m2 0h0m2 0h0m3 0h0m2 0h0m4 0h0m15 0h0m-59 1h0m3 0h0m3 0h0m1 0h0m1 0h0m2 0h0m3 0h0m1 0h0m2 0h0m1 0h0m2 0h0m2 0h0m2 0h0m2 0h0m4 0h0m1 0h0m8 0h0m1 0h0m16 0h0m-62 1h0m3 0h0m2 0h0m2 0h0m1 0h0m2 0h0m1 0h0m1 0h0m2 0h0m2 0h0m1 0h0m1 0h0m1 0h0m1 0h0m2 0h0m2 0h0m1 0h0m5 0h0m2 0h0m2 0h0m3 0h0m2 0h0m1 0h0m5 0h0m5 0h0m-48 1h0m1 0h0m3 0h0m1 0h0m1 0h0m3 0h0m1 0h0m1 0h0m1 0h0m1 0h0m1 0h0m1 0h0m1 0h0m1 0h0m1 0h0m1 0h0m1 0h0m1 0h0m4 0h0m1 0h0m2 0h0m1 0h0m1 0h0m5 0h0m1 0h0m1 0h0m3 0h0m6 0h0m1 0h0m2 0h0m4 0h0m5 0h0m-56 1h0m1 0h0m2 0h0m1 0h0m1 0h0m1 0h0m1 0h0m1 0h0m1 0h0m3 0h0m1 0h0m1 0h0m3 0h0m1 0h0m4 0h0m1 0h0m3 0h0m1 0h0m1 0h0m1 0h0m5 0h0m1 0h0m3 0h0m1 0h0m1 0h0m1 0h0m16 0h0m-58 1h0m1 0h0m1 0h0m2 0h0m1 0h0m2 0h0m1 0h0m1 0h0m6 0h0m2 0h0m2 0h0m2 0h0m1 0h0m1 0h0m5 0h0m1 0h0m2 0h0m1 0h0m1 0h0m3 0h0m2 0h0m11 0h0m14 0h0m-70 1h0m8 0h0m2 0h0m1 0h0m1 0h0m1 0h0m1 0h0m4 0h0m1 0h0m1 0h0m1 0h0m1 0h0m1 0h0m1 0h0m1 0h0m2 0h0m2 0h0m1 0h0m1 0h0m1 0h0m2 0h0m1 0h0m1 0h0m1 0h0m2 0h0m3 0h0m2 0h0m7 0h0m2 0h0m5 0h0m30 0h0m-80 1h0m1 0h0m2 0h0m1 0h0m1 0h0m1 0h0m1 0h0m1 0h0m1 0h0m1 0h0m2 0h0m1 0h0m1 0h0m1 0h0m1 0h0m2 0h0m1 0h0m1 0h0m1 0h0m1 0h0m1 0h0m1 0h0m3 0h0m2 0h0m2 0h0m1 0h0m1 0h0m2 0h0m14 0h0m-55 1h0m3 0h0m1 0h0m1 0h0m1 0h0m1 0h0m2 0h0m1 0h0m2 0h0m1 0h0m1 0h0m1 0h0m2 0h0m1 0h0m2 0h0m1 0h0m2 0h0m1 0h0m1 0h0m1 0h0m1 0h0m1 0h0m4 0h0m2 0h0m1 0h0m1 0h0m1 0h0m8 0h0m1 0h0m2 0h0m6 0h0m21 0h0m-75 1h0m4 0h0m2 0h0m1 0h0m1 0h0m1 0h0m1 0h0m1 0h0m1 0h0m1 0h0m1 0h0m1 0h0m1 0h0m1 0h0m1 0h0m1 0h0m1 0h0m3 0h0m1 0h0m1 0h0m3 0h0m1 0h0m1 0h0m1 0h0m2 0h0m4 0h0m1 0h0m3 0h0m3 0h0m1 0h0m1 0h0m-46 1h0m1 0h0m1 0h0m1 0h0m2 0h0m1 0h0m1 0h0m1 0h0m1 0h0m1 0h0m1 0h0m1 0h0m1 0h0m2 0h0m1 0h0m1 0h0m1 0h0m1 0h0m1 0h0m1 0h0m1 0h0m1 0h0m2 0h0m2 0h0m1 0h0m4 0h0m2 0h0m1 0h0m8 0h0m1 0h0m-45 1h0m1 0h0m1 0h0m1 0h0m2 0h0m1 0h0m1 0h0m1 0h0m1 0h0m1 0h0m1 0h0m1 0h0m1 0h0m1 0h0m1 0h0m1 0h0m2 0h0m1 0h0m2 0h0m1 0h0m1 0h0m1 0h0m1 0h0m1 0h0m2 0h0m1 0h0m1 0h0m1 0h0m1 0h0m2 0h0m1 0h0m1 0h0m1 0h0m1 0h0m2 0h0m5 0h0m4 0h0m6 0h0m22 0h0m6 0h0m-84 1h0m2 0h0m3 0h0m1 0h0m1 0h0m1 0h0m1 0h0m1 0h0m2 0h0m1 0h0m1 0h0m1 0h0m1 0h0m1 0h0m1 0h0m1 0h0m1 0h0m1 0h0m1 0h0m1 0h0m1 0h0m1 0h0m1 0h0m1 0h0m2 0h0m1 0h0m1 0h0m4 0h0m2 0h0m3 0h0m1 0h0m2 0h0m3 0h0m3 0h0m1 0h0m6 0h0m-57 1h0m2 0h0m1 0h0m2 0h0m2 0h0m1 0h0m1 0h0m1 0h0m1 0h0m1 0h0m1 0h0m1 0h0m1 0h0m1 0h0m1 0h0m1 0h0m1 0h0m2 0h0m1 0h0m1 0h0m1 0h0m1 0h0m1 0h0m1 0h0m1 0h0m2 0h0m1 0h0m1 0h0m2 0h0m1 0h0m19 0h0m11 0h0m-67 1h0m2 0h0m1 0h0m1 0h0m2 0h0m1 0h0m1 0h0m1 0h0m1 0h0m1 0h0m1 0h0m1 0h0m1 0h0m1 0h0m1 0h0m1 0h0m1 0h0m2 0h0m1 0h0m1 0h0m1 0h0m1 0h0m2 0h0m1 0h0m1 0h0m1 0h0m2 0h0m1 0h0m2 0h0m1 0h0m3 0h0m1 0h0m4 0h0m5 0h0m5 0h0m4 0h0m-56 1h0m2 0h0m1 0h0m2 0h0m1 0h0m1 0h0m1 0h0m1 0h0m1 0h0m1 0h0m1 0h0m1 0h0m1 0h0m1 0h0m1 0h0m1 0h0m2 0h0m1 0h0m1 0h0m1 0h0m1 0h0m1 0h0m1 0h0m1 0h0m1 0h0m1 0h0m1 0h0m2 0h0m5 0h0m1 0h0m2 0h0m1 0h0m4 0h0m5 0h0m7 0h0m21 0h0m-75 1h0m2 0h0m1 0h0m1 0h0m1 0h0m1 0h0m1 0h0m1 0h0m1 0h0m1 0h0m1 0h0m1 0h0m1 0h0m1 0h0m1 0h0m1 0h0m1 0h0m1 0h0m2 0h0m1 0h0m1 0h0m1 0h0m1 0h0m1 0h0m1 0h0m2 0h0m1 0h0m2 0h0m7 0h0m-43 1h0m1 0h0m3 0h0m1 0h0m1 0h0m1 0h0m1 0h0m1 0h0m1 0h0m1 0h0m1 0h0m1 0h0m1 0h0m1 0h0m1 0h0m1 0h0m1 0h0m1 0h0m1 0h0m1 0h0m1 0h0m1 0h0m1 0h0m1 0h0m1 0h0m1 0h0m1 0h0m1 0h0m1 0h0m1 0h0m2 0h0m2 0h0m2 0h0m1 0h0m3 0h0m5 0h0m15 0h0m-60 1h0m1 0h0m1 0h0m3 0h0m2 0h0m1 0h0m1 0h0m1 0h0m1 0h0m1 0h0m2 0h0m1 0h0m2 0h0m1 0h0m1 0h0m2 0h0m2 0h0m1 0h0m1 0h0m1 0h0m2 0h0m1 0h0m1 0h0m1 0h0m1 0h0m4 0h0m5 0h0m5 0h0m8 0h0m-54 1h0m2 0h0m1 0h0m1 0h0m1 0h0m1 0h0m1 0h0m1 0h0m1 0h0m1 0h0m1 0h0m1 0h0m1 0h0m1 0h0m1 0h0m1 0h0m1 0h0m1 0h0m1 0h0m1 0h0m1 0h0m1 0h0m1 0h0m1 0h0m1 0h0m1 0h0m3 0h0m1 0h0m1 0h0m3 0h0m2 0h0m1 0h0m1 0h0m1 0h0m1 0h0m2 0h0m5 0h0m6 0h0m-57 1h0m2 0h0m1 0h0m3 0h0m1 0h0m1 0h0m2 0h0m1 0h0m1 0h0m1 0h0m1 0h0m1 0h0m1 0h0m1 0h0m1 0h0m1 0h0m1 0h0m1 0h0m1 0h0m1 0h0m1 0h0m1 0h0m1 0h0m1 0h0m1 0h0m2 0h0m1 0h0m1 0h0m2 0h0m1 0h0m3 0h0m2 0h0m13 0h0m-51 1h0m1 0h0m1 0h0m1 0h0m1 0h0m1 0h0m1 0h0m1 0h0m1 0h0m1 0h0m1 0h0m1 0h0m1 0h0m1 0h0m1 0h0m1 0h0m1 0h0m1 0h0m1 0h0m1 0h0m3 0h0m2 0h0m1 0h0m2 0h0m1 0h0m1 0h0m4 0h0m3 0h0m4 0h0m17 0h0m6 0h0m-65 1h0m6 0h0m1 0h0m1 0h0m1 0h0m1 0h0m1 0h0m1 0h0m1 0h0m1 0h0m1 0h0m1 0h0m1 0h0m1 0h0m1 0h0m1 0h0m1 0h0m1 0h0m3 0h0m2 0h0m1 0h0m2 0h0m1 0h0m3 0h0m3 0h0m10 0h0m-48 1h0m2 0h0m3 0h0m2 0h0m1 0h0m1 0h0m1 0h0m1 0h0m2 0h0m1 0h0m1 0h0m1 0h0m1 0h0m1 0h0m1 0h0m1 0h0m1 0h0m1 0h0m1 0h0m1 0h0m1 0h0m1 0h0m2 0h0m2 0h0m1 0h0m6 0h0m2 0h0m2 0h0m9 0h0m-48 1h0m2 0h0m1 0h0m1 0h0m1 0h0m1 0h0m1 0h0m1 0h0m1 0h0m1 0h0m1 0h0m1 0h0m1 0h0m1 0h0m1 0h0m1 0h0m1 0h0m1 0h0m2 0h0m1 0h0m2 0h0m1 0h0m1 0h0m1 0h0m1 0h0m1 0h0m2 0h0m1 0h0m1 0h0m19 0h0m-52 1h0m1 0h0m1 0h0m1 0h0m2 0h0m1 0h0m1 0h0m1 0h0m1 0h0m2 0h0m1 0h0m1 0h0m1 0h0m1 0h0m1 0h0m1 0h0m1 0h0m1 0h0m1 0h0m1 0h0m3 0h0m2 0h0m1 0h0m2 0h0m1 0h0m1 0h0m1 0h0m1 0h0m6 0h0m5 0h0m-49 1h0m4 0h0m1 0h0m1 0h0m1 0h0m2 0h0m1 0h0m1 0h0m1 0h0m1 0h0m1 0h0m1 0h0m1 0h0m1 0h0m1 0h0m2 0h0m1 0h0m1 0h0m1 0h0m1 0h0m1 0h0m1 0h0m1 0h0m1 0h0m1 0h0m1 0h0m5 0h0m6 0h0m6 0h0m-43 1h0m2 0h0m1 0h0m1 0h0m1 0h0m1 0h0m1 0h0m1 0h0m1 0h0m1 0h0m1 0h0m1 0h0m1 0h0m1 0h0m1 0h0m1 0h0m1 0h0m1 0h0m1 0h0m2 0h0m2 0h0m1 0h0m1 0h0m1 0h0m1 0h0m1 0h0m1 0h0m5 0h0m2 0h0m2 0h0m2 0h0m2 0h0m10 0h0m17 0h0m-69 1h0m1 0h0m1 0h0m1 0h0m1 0h0m1 0h0m2 0h0m1 0h0m1 0h0m1 0h0m1 0h0m1 0h0m2 0h0m3 0h0m1 0h0m1 0h0m3 0h0m2 0h0m1 0h0m1 0h0m4 0h0m2 0h0m6 0h0m8 0h0m-49 1h0m2 0h0m1 0h0m2 0h0m1 0h0m2 0h0m1 0h0m1 0h0m1 0h0m1 0h0m1 0h0m1 0h0m1 0h0m1 0h0m1 0h0m1 0h0m1 0h0m1 0h0m1 0h0m1 0h0m2 0h0m1 0h0m2 0h0m1 0h0m2 0h0m1 0h0m6 0h0m2 0h0m1 0h0m3 0h0m4 0h0m-47 1h0m1 0h0m3 0h0m1 0h0m1 0h0m1 0h0m1 0h0m1 0h0m1 0h0m1 0h0m1 0h0m1 0h0m1 0h0m1 0h0m1 0h0m1 0h0m1 0h0m2 0h0m2 0h0m1 0h0m1 0h0m1 0h0m1 0h0m2 0h0m1 0h0m1 0h0m1 0h0m2 0h0m20 0h0m6 0h0m-58 1h0m1 0h0m1 0h0m1 0h0m2 0h0m1 0h0m1 0h0m1 0h0m1 0h0m1 0h0m1 0h0m1 0h0m1 0h0m1 0h0m1 0h0m1 0h0m5 0h0m1 0h0m1 0h0m2 0h0m3 0h0m2 0h0m1 0h0m9 0h0m-40 1h0m1 0h0m1 0h0m1 0h0m1 0h0m1 0h0m1 0h0m1 0h0m1 0h0m1 0h0m1 0h0m1 0h0m1 0h0m1 0h0m1 0h0m1 0h0m1 0h0m1 0h0m1 0h0m3 0h0m1 0h0m1 0h0m1 0h0m2 0h0m5 0h0m2 0h0m18 0h0m-49 1h0m1 0h0m1 0h0m1 0h0m1 0h0m1 0h0m1 0h0m2 0h0m1 0h0m1 0h0m1 0h0m1 0h0m1 0h0m3 0h0m1 0h0m1 0h0m1 0h0m1 0h0m4 0h0m2 0h0m1 0h0m2 0h0m2 0h0m5 0h0m2 0h0m16 0h0m17 0h0m-71 1h0m1 0h0m1 0h0m1 0h0m1 0h0m1 0h0m1 0h0m1 0h0m1 0h0m1 0h0m1 0h0m1 0h0m1 0h0m1 0h0m1 0h0m2 0h0m1 0h0m3 0h0m2 0h0m2 0h0m1 0h0m2 0h0m2 0h0m4 0h0m2 0h0m-37 1h0m1 0h0m1 0h0m1 0h0m1 0h0m1 0h0m1 0h0m1 0h0m1 0h0m1 0h0m1 0h0m1 0h0m1 0h0m1 0h0m1 0h0m2 0h0m1 0h0m1 0h0m1 0h0m1 0h0m2 0h0m3 0h0m2 0h0m5 0h0m11 0h0m3 0h0m6 0h0m-53 1h0m2 0h0m2 0h0m2 0h0m1 0h0m2 0h0m1 0h0m1 0h0m2 0h0m2 0h0m6 0h0m3 0h0" stroke="#008000" stroke-width="2.1" stroke-linecap="round" fill="none"/><path d="M434 352h0m1 0h0m1 0h0m-6 1h0m1 0h0m2 0h0m2 0h0m-8 1h0m1 0h0m1 0h0m1 0h0m1 0h0m-10 1h0m2 0h0m1 0h0m1 0h0m1 0h0m1 0h0m2 0h0m-13 1h0m4 0h0m1 0h0m1 0h0m1 0h0m-8 1h0m1 0h0m1 0h0m1 0h0m1 0h0m1 0h0m1 0h0m-10 1h0m1 0h0m1 0h0m1 0h0m1 0h0m1 0h0m2 0h0m-11 1h0m1 0h0m1 0h0m1 0h0m1 0h0m1 0h0m1 0h0m-9 1h0m1 0h0m1 0h0m1 0h0m1 0h0m1 0h0m1 0h0m-10 1h0m1 0h0m1 0h0m1 0h0m1 0h0m1 0h0m1 0h0m1 0h0m-11 1h0m1 0h0m1 0h0m1 0h0m1 0h0m1 0h0m1 0h0m1 0h0m-10 1h0m1 0h0m1 0h0m1 0h0m1 0h0m1 0h0m1 0h0m1 0h0m-7 1h0m1 0h0" stroke="#FC5314" stroke-width="2.1" stroke-linecap="round" fill="none"/><path d="M509 284h0m-10 6h0m-7 7h0m8 3h0m-15 2h0m19 3h0m-26 1h0m-8 5h0m1 0h0m1 0h0m-3 1h0m1 0h0m1 0h0m1 0h0m-5 1h0m1 0h0m1 0h0m1 0h0m-4 1h0m1 0h0m1 0h0m-3 1h0m1 0h0m1 0h0m-4 1h0m1 0h0m1 0h0m1 0h0m-5 1h0m1 0h0m1 0h0m1 0h0m-3 1h0m1 0h0m1 0h0m-5 1h0m1 0h0m1 0h0m1 0h0m-4 1h0m1 0h0m1 0h0m1 0h0m-5 1h0m1 0h0m1 0h0m1 0h0m-4 1h0m1 0h0m1 0h0m1 0h0m-4 1h0m1 0h0m1 0h0m-4 1h0m1 0h0m1 0h0m1 0h0m-5 1h0m1 0h0m1 0h0m1 0h0m-3 1h0m1 0h0m-4 1h0m1 0h0m1 0h0m1 0h0m1 0h0m-5 1h0m1 0h0m1 0h0m1 0h0m-4 1h0m1 0h0m1 0h0m-4 1h0m1 0h0m1 0h0m66 0h0m-70 1h0m1 0h0m1 0h0m1 0h0m-4 1h0m1 0h0m1 0h0m1 0h0m-4 1h0m1 0h0m1 0h0m1 0h0m-5 1h0m1 0h0m1 0h0m1 0h0m-5 1h0m1 0h0m1 0h0m1 0h0m-4 1h0m1 0h0m1 0h0m1 0h0m-4 1h0m1 0h0m1 0h0m1 0h0m-4 1h0m1 0h0m1 0h0m45 0h0m-50 1h0m1 0h0m1 0h0m1 0h0m-3 1h0m1 0h0m1 0h0m-4 1h0m1 0h0m1 0h0m-4 1h0m1 0h0m1 0h0m-4 1h0m1 0h0m1 0h0m1 0h0m-4 1h0m1 0h0m1 0h0m1 0h0m-4 1h0m1 0h0m1 0h0m-5 1h0m2 0h0m1 0h0m1 0h0m-4 1h0m1 0h0m1 0h0m-3 1h0m1 0h0m1 0h0m-4 1h0m1 0h0m1 0h0m1 0h0m-5 1h0m1 0h0m1 0h0m1 0h0m-4 1h0m1 0h0m1 0h0m-3 1h0m1 0h0m1 0h0m-4 1h0m1 0h0m1 0h0m-3 1h0m1 0h0m-3 1h0m1 0h0m1 0h0m-4 1h0m1 0h0m1 0h0m1 0h0m-3 1h0m1 0h0m-3 1h0m1 0h0m1 0h0m-4 1h0m1 0h0m1 0h0m-3 1h0m1 0h0m-3 1h0m1 0h0m1 0h0m-4 1h0m1 0h0m1 0h0m1 0h0m-3 1h0m1 0h0" stroke="#1272CC" stroke-width="2.1" stroke-linecap="round" fill="none"/>
<path d="M35.5 49.4 L45.5 49.4 L46.5 47 L47.5 49.4 L48.6 47 L49.6 49.4 L68 49.4 L68.8 45.4 L69.6 49.4 L71.5 49.4 L72 47 L73 44 L75 38 L77 33 L79 32.5 L82 32.4 L85 33 L88 34.5 L91 36.5 L95 39.5 L95 41.3 L96.2 37.7 L97.4 40.8 L98.6 40.4 L99.8 41 L101 41.8 L102.2 40.8 L103.4 43 L104.6 43 L105.8 47.3 L107 45 L108.2 45 L109.4 45.5 L110.6 45.6 L111.8 45.6 L113 46.5 L114.2 47.6 L115.4 47 L116.6 47.5 L117.8 45.9 L119 46.7 L120.2 48.9 L121.4 48.3 L122.6 46.9 L123.8 46.8 L125 47 L126.2 48 L127.4 45.8 L128.6 45.6 L129.8 46.4 L131 44.5 L132.2 44.8 L133.4 45.6 L134.6 45.1 L135.8 44.4 L137 44.7 L138.2 41.3 L139.4 44.5 L140.6 42.5 L141.8 41.6 L143 43.1 L144.2 43.3 L145.4 42 L146.6 41.3 L147.8 42.1 L149 41.5 L150.2 42.3 L151.4 41.1 L153 43 L154 49.4" stroke="#008000" stroke-width="1.85" fill="none" stroke-linejoin="round"/><path d="M69 49.4 L70.5 46 L71.5 40 L72.5 33 L73.7 29.6 L74.8 32 L76 40 L76.4 44 L77.5 46.5 L78.6 45 L79.5 48 L80.5 49.4 L149 49.4 L150.5 47 L152 49.4" stroke="#1272CC" stroke-width="1.85" fill="none" stroke-linejoin="round"/><path d="M65.5 49.4 L66.6 47 L67.6 49.4 L73 49.4 L74.3 44.4 L75.5 47.5 L76.5 49.4 L80.3 49.4 L81.3 47 L82.3 49.4 L145.8 49.4 L147.5 46 L149 41 L151 35 L152.9 32 L154 34 L155 42 L155.9 49.4" stroke="#FC5314" stroke-width="1.85" fill="none" stroke-linejoin="round"/><path d="M35.5 49.4 L156.6 49.4" stroke="#FC5314" stroke-width="1.5" fill="none" stroke-linejoin="round"/><path d="M160.9 71.5 L165 73 L169.5 75 L174 78 L179.4 82.7 L175 86 L170.2 88.8 L174 92 L178.6 95.7 L176 99 L174 102.5 L173.3 104.8 L168 107 L162.6 109.4 L162.2 110 L163.4 111.3 L162.3 112.6 L161.9 113.9 L163.6 115.2 L163.9 116.5 L163.3 117.8 L163 119.1 L164.1 120.4 L161.2 121.7 L164.1 123 L163.6 124.3 L161.4 125.6 L163.3 126.9 L162.4 128.2 L164.2 129.5 L161.4 130.8 L162.5 132.1 L164 133.4 L164.4 134.7 L161 136 L162.6 137.3 L163.4 138.6 L162.4 139.9 L164.7 141.2 L161.9 142.5 L163.5 143.8 L162.2 145.1 L164.7 146.4 L163.4 147.7 L163.1 149 L161.7 150.3 L164.8 151.6 L163.5 152.9 L163.2 154.2 L163.3 155.5" stroke="#008000" stroke-width="1.85" fill="none" stroke-linejoin="round"/><path d="M160.9 71 L164 73 L160.9 75.5 L161.2 115 L160.9 116.5 L160.9 118 L160.9 119.5 L162.7 121 L160.9 122.5 L161.4 124 L161.7 125.5 L162.2 127 L162.5 128.5 L161 130 L160.9 131.5 L162 133 L163 134.5 L162.6 136 L162.2 137.5 L161.7 139 L162.2 140.5 L161.8 142 L160.9 144.5 L170 146.5 L185.4 147.8 L172 149 L160.9 151" stroke="#1272CC" stroke-width="1.85" fill="none" stroke-linejoin="round"/><path d="M160.9 68.5 L168 70 L181.6 71.3 L170 73 L160.9 76 L161.7 110 L160.9 111.4 L161.6 112.8 L161.7 114.2 L162.6 115.6 L162.6 117 L165.2 118.4 L164.5 119.8 L164.4 121.2 L160.9 122.6 L162.5 124 L162.1 125.4 L163.2 126.8 L160.9 128.2 L163.7 129.6 L163.5 131 L161.1 132.4 L161.3 133.8 L161.4 135.2 L162.2 136.6 L162.7 138 L164.1 139.4 L161.8 140.8 L162.9 142.2 L162.3 143.6 L164 145 L163.1 146.4 L163.8 147.8 L161.4 149.2 L162.2 150.6 L161.3 152 L163.4 153.4 L162.3 154.8 L161 156.2 L160.9 157.6" stroke="#FC5314" stroke-width="1.85" fill="none" stroke-linejoin="round"/><path d="M160.9 53.3 L160.9 160.4" stroke="#FC5314" stroke-width="1.5" fill="none" stroke-linejoin="round"/><path d="M251 51.2 L251.8 45 L253 33 L254.1 29.2 L255.3 33 L256.2 45 L257 51.2 L258 51.2 L259 48 L260 51.2 L261 49 L262 51.2 L269.5 51.2 L270.3 49 L271 51.2" stroke="#1272CC" stroke-width="1.85" fill="none" stroke-linejoin="round"/><path d="M250 51.2 L251.1 47.5 L252.2 45.8 L253.3 44.3 L254.4 43 L255.5 39.2 L256.6 36.6 L257.7 34.4 L258.8 33.3 L259.9 32.8 L261 32 L262.1 31.9 L263.2 31.2 L264.3 32.5 L265.4 32.3 L266.5 33.9 L267.6 34.6 L268.7 33.7 L269.8 35.4 L270.9 36.2 L272 36.7 L273.1 38.5 L274.2 39 L275.3 39.5 L276.4 41.5 L277.5 42.4 L278.6 43 L279.7 42.7 L280.8 44.1 L281.9 44.6 L283 44 L284.1 44.7 L285.2 45.4 L286.3 45.7 L287.4 47.3 L288.5 46.9 L289.6 46.8 L291 51.2 L296 51.2 L297 48.2 L298.2 48.6 L299.4 50.5 L300.6 47.7 L301.8 47.6 L303 47.6 L304.2 46.7 L305.4 48.7 L306.6 45.7 L307.8 46.8 L309 46.1 L310.2 46.3 L311.4 44.4 L312.6 47.1 L313.8 45.1 L315 45 L316.2 43.9 L317.4 43.9 L318.6 45 L319.8 45.3 L321 44.9 L322.2 45.1 L323.4 44.5 L324.6 43.6 L325.8 44 L327 43.2 L328.2 42 L329.4 42.3 L330.6 42.4 L334.7 51.2" stroke="#008000" stroke-width="1.85" fill="none" stroke-linejoin="round"/><path d="M245 51.2 L246 49.4 L247 48.1 L248 48.5 L249 49.9 L250 46.7 L251 45.8 L252 44.6 L254 51.2 L255.5 51.2 L257 41.2 L257 40 L258.1 41.8 L259.2 42.2 L260.3 41.5 L261.4 41.9 L262.5 41.9 L263.6 42 L264.7 40.6 L265.8 41.6 L266.9 42.2 L268 41.4 L269.1 41.7 L270.2 41.5 L271.3 42 L272.4 43.1 L273.5 42 L274.6 42.3 L275.7 43.2 L276.8 43.1 L277.9 44.3 L279 41.3 L280.1 44.4 L281.2 43.6 L282.3 44.5 L283.4 45.5 L284.5 46.2 L285.6 46.6 L286.7 46.2 L287.8 48 L288.9 46.7 L290 47.3 L291 51.2 L296 51.2 L297 49.8 L298.1 48.1 L299.2 50.5 L300.3 49 L301.4 49.8 L302.5 47.3 L303.6 46.6 L304.7 46.8 L305.8 47.1 L306.9 45.6 L308 46.4 L309.1 45.9 L310.2 47.3 L311.3 44.9 L312.4 46.4 L313.5 44.6 L314.6 44.1 L315.7 44.1 L316.8 43.4 L317.9 44.6 L319 45.2 L320.1 44.1 L321.2 44.4 L322.3 45.2 L323.4 43.6 L324.5 43.3 L325.6 42.5 L326.7 40.8 L327.8 42.8 L328.9 39.9 L330 42 L334.7 51.2 L336.5 51.2" stroke="#FC5314" stroke-width="1.85" fill="none" stroke-linejoin="round"/><path d="M214.8 51.2 L251 51.2" stroke="#FC5314" stroke-width="1.5" fill="none" stroke-linejoin="round"/><path d="M251 51.2 L336.5 51.2" stroke="#1272CC" stroke-width="1.5" fill="none" stroke-linejoin="round"/><path d="M340.6 72 L342.9 73 L345.8 74 L348.8 75 L349.9 76 L352 77 L353.9 78 L356.5 79 L357.3 80 L358.9 81 L359.9 82 L359.8 83 L361.5 84 L361.1 85 L359.1 86 L357.7 87 L355.4 88 L351.8 89 L348.7 90 L343.5 91 L349.1 92 L352 93 L355.6 94 L358 95 L357.7 96 L359.7 97 L359.4 98 L357.8 99 L356.9 100 L357.2 101 L355.6 102 L354 103 L353.8 104 L354 105 L352.5 106 L352.6 107 L349.9 108 L347.5 109 L345.3 110 L343.9 111 L343.3 112 L342.5 113 L342.3 113 L342.7 114.3 L341.7 115.6 L342.7 116.9 L341.9 118.2 L342.2 119.5 L341.2 120.8 L341 122.1 L342.3 123.4 L341.8 124.7 L341.9 126 L343.7 127.3 L342.9 128.6 L346.2 129.9 L344 131.2 L342.3 132.5 L343.9 133.8 L343.4 135.1 L342.1 136.4 L343.9 137.7 L341.7 139 L340.5 140.3 L343.2 141.6 L341.5 142.9 L343.7 144.2 L341.3 145.5 L340.9 146.8 L344 148.1 L341.3 149.4 L342.8 150.7 L344.3 152 L343 153.3 L342.9 154.6 L342.8 155.9 L343 157.2 L340.7 158.5 L341.8 159.8" stroke="#008000" stroke-width="1.85" fill="none" stroke-linejoin="round"/><path d="M340.5 84 L342.5 86 L340.5 88 L341 118 L342.8 119.5 L340.6 121 L340.5 122.5 L342.1 124 L341.3 125.5 L342.1 127 L342.1 128.5 L343.1 130 L341.4 131.5 L341.9 133 L340.5 134.5 L341.2 136 L343.4 137.5 L341.4 139 L341.2 140.5 L340.5 142 L341.5 143.5 L340.7 145 L340.5 147 L352 148.2 L366.7 149.1 L352 150 L340.5 151.3" stroke="#1272CC" stroke-width="1.85" fill="none" stroke-linejoin="round"/><path d="M340.5 66 L342.5 68 L340.5 70 L340.5 71.5 L346 73 L350 76 L353 80 L354 84 L352 87 L345 91 L343.7 91 L346.6 92.1 L346.9 93.2 L348.3 94.3 L347.2 95.4 L349.6 96.5 L347.9 97.6 L347.1 98.7 L346.5 99.8 L346.2 100.9 L346.7 102 L344.8 103.1 L345.7 104.2 L344.5 105.3 L344.9 106.4 L343.9 107.5 L342.5 108.6 L340.5 109.7 L342.4 110.8 L343.1 111.9 L342.5 113 L343 114.1 L342 115.2 L342.2 116.3 L341.7 117.4 L344.3 118.5 L343.1 119.6 L342.5 120.7 L341.5 121.8 L342.8 122.9 L344.6 124 L343.5 125.1 L342.2 126.2 L344.6 127.3 L344.6 128.4 L344.1 129.5 L343.8 130.6 L344.2 131.7 L343.5 132.8 L343.7 133.9 L341.9 135 L344.3 136.1 L342.9 137.2 L344.8 138.3 L340.5 139.4 L343.3 140.5 L343.7 141.6 L342.3 142.7 L343.2 143.8 L343.6 144.9 L343.4 146 L342.3 147.1 L342.8 148.2 L344.1 149.3 L344.4 150.4 L343 151.5 L342.8 152.6 L342.9 153.7 L343.7 154.8 L341.3 155.9 L340.8 157 L342.3 158.1 L340.9 159.2" stroke="#FC5314" stroke-width="1.85" fill="none" stroke-linejoin="round"/><path d="M340.5 55.3 L340.5 71" stroke="#FC5314" stroke-width="1.5" fill="none" stroke-linejoin="round"/><path d="M340.5 71 L340.5 162.1" stroke="#1272CC" stroke-width="1.5" fill="none" stroke-linejoin="round"/><path d="M393.6 51.2 L394 49 L395 51.2 L409 51.2 L410 49 L411 51.2" stroke="#008000" stroke-width="1.85" fill="none" stroke-linejoin="round"/><path d="M404 51.2 L405 48.5 L406 51.2" stroke="#FC5314" stroke-width="1.85" fill="none" stroke-linejoin="round"/><path d="M428 51.2 L428.7 47 L430.5 38 L432 31 L432.7 29.2 L433.6 31 L435 40 L436.1 46 L436.1 45.5 L437.1 46.8 L438.1 47.9 L439.1 47.5 L440.1 49.7 L441.1 48.1 L442.1 50.4 L443.1 49.1 L444.1 49.8 L484 51.2 L484.6 49.5 L485.2 51.2" stroke="#1272CC" stroke-width="1.85" fill="none" stroke-linejoin="round"/><path d="M432 51.2 L433 45.8 L434 42.5 L435 39.7 L436 37.9 L437 35.7 L438 34.9 L439 34.7 L440 32.8 L441 33 L442 33.1 L443 34.2 L444 34.2 L445 34.8 L446 34.5 L447 34.9 L448 36 L449 36 L450 37.5 L451 38.2 L452 38.1 L453 39.7 L454 41 L455 43.3 L456 44.2 L457 42.9 L458 43.3 L459 42.3 L460 44.1 L461 44.4 L462 44.2 L463 45.7 L464 44.7 L465 45.9 L466 46.6 L467 46.2 L468 48 L469 48.6 L470 47.6 L472 51.2 L476 51.2 L478 46.5 L479.1 48.5 L480.2 47.7 L481.3 46.2 L482.4 47 L483.5 47.1 L484.6 46.9 L485.7 47.8 L486.8 47.2 L487.9 48.7 L489 48.1 L490.1 47.2 L491.2 47.3 L492.3 47.3 L493.4 46.3 L494.5 43.8 L495.6 45.8 L496.7 44.7 L497.8 46.2 L498.9 44.3 L500 44.6 L501.1 44.1 L502.2 45.4 L503.3 43.5 L504.4 42.8 L505.5 43.2 L506.6 42.1 L507.7 42.5 L508.8 42 L513 51.2" stroke="#008000" stroke-width="1.85" fill="none" stroke-linejoin="round"/><path d="M425 51.2 L425.9 51.2 L426.8 49 L427.7 48.3 L428.6 47.3 L429.5 46.9 L430.4 44.9 L431.3 44.3 L432.2 43.8 L433.1 43.2 L434 41.2 L434.9 39.3 L435.8 37.5 L436.7 38.8 L437.6 40.4 L438.5 40.7 L439.4 41.5 L440.3 42.8 L441.2 43.4 L442.1 45.3 L443 46.8 L443.9 47.5 L444.8 47.6 L445.7 47.2 L446.6 48.2 L447.5 47.9 L448.4 47.3 L449.3 49.8 L463 51.2 L464 48 L465 51.2 L470 51.2 L471 48.5 L472 51.2 L497 51.2 L498 48.5 L499 51.2 L509.5 51.2 L510.5 47.5 L512 49 L513 47.5 L514.4 51.2" stroke="#FC5314" stroke-width="1.85" fill="none" stroke-linejoin="round"/><path d="M393.6 51.2 L514.4 51.2" stroke="#FC5314" stroke-width="1.5" fill="none" stroke-linejoin="round"/><path d="M518.8 66 L522 67 L518.8 68 L518.9 74 L521.4 75 L522.8 76 L526.3 77 L527.8 78 L529.8 79 L530.7 80 L531.8 81 L533.3 82 L535 83 L535.7 84 L537.2 85 L536.7 86 L533.9 87 L532.8 88 L530.2 89 L526.7 90 L524.7 91 L526.1 92 L529.3 93 L533 94 L534.6 95 L534.7 96 L533.6 97 L534.6 98 L535.4 99 L534.1 100 L533.9 101 L533 102 L530.8 103 L530.1 104 L529.3 105 L527.9 106 L526.6 107 L524.8 108 L524.3 109 L522.4 110 L522.1 111 L521.5 112 L519.2 112 L518.8 113.3 L519.9 114.6 L521 115.9 L522 117.2 L522.2 118.5 L520.3 119.8 L520.5 121.1 L523 122.4 L520.6 123.7 L523.2 125 L521.6 126.3 L522.6 127.6 L522.4 128.9 L522.3 130.2 L522.3 131.5 L520.1 132.8 L521.4 134.1 L521.1 135.4 L521.5 136.7 L522.7 138 L521.1 139.3 L520.8 140.6 L520.9 141.9 L521.5 143.2 L522.8 144.5 L521 145.8 L523.1 147.1 L522 148.4 L521.3 149.7 L519.9 151 L521.5 152.3 L521.9 153.6 L519.1 154.9 L521.8 156.2 L521.8 157.5 L519.9 158.8" stroke="#008000" stroke-width="1.85" fill="none" stroke-linejoin="round"/><path d="M519.2 108 L520.9 109.5 L520.1 111 L518.8 112.5 L519.4 114 L519.4 115.5 L519.6 117 L518.8 118.5 L520.6 120 L519.5 121.5 L520.1 123 L519.9 124.5 L520.7 126 L519.8 127.5 L519.4 129 L520.4 130.5 L521.1 132 L519.7 133.5 L521.1 135 L520.2 136.5 L519.6 138 L521.2 139.5 L519.1 141 L520.2 142.5 L518.8 144 L518.8 147 L530 148.2 L544.7 149.1 L530 150 L518.8 151.3" stroke="#1272CC" stroke-width="1.85" fill="none" stroke-linejoin="round"/><path d="M519.3 58 L518.8 59.2 L518.8 60.4 L520.9 61.6 L520.3 62.8 L520.2 64 L519.8 65.2 L520.8 66.4 L519.1 67.6 L519.4 68.8 L520.5 70 L519.9 71.2 L520.2 72.4 L520.9 73.6 L520.9 74.8 L520.8 76 L522.7 77.2 L522 78.4 L522.2 79.6 L521 80.8 L520.5 82 L519.5 83.2 L520.3 84.4 L518.8 85.6 L519.5 86.8 L520.9 88 L521.9 89.2 L521.4 90.4 L519.7 91.6 L521.2 92.8 L520.1 94 L521.8 95.2 L520.9 96.4 L521.9 97.6 L523.6 98.8 L521.9 100 L523.6 101.2 L521.7 102.4 L521.4 103.6 L523.3 104.8 L523.7 108 L522 109.1 L523.2 110.2 L522.2 111.3 L524.1 112.4 L525.9 113.5 L525.6 114.6 L525.9 115.7 L525.8 116.8 L528.3 117.9 L529 119 L528.9 120.1 L528.8 121.2 L527.4 122.3 L530.7 123.4 L529 124.5 L529.1 125.6 L530.2 126.7 L527.5 127.8 L529.8 128.9 L529.9 130 L529.1 131.1 L528.7 132.2 L526.5 133.3 L522.9 134.4 L524 135.5 L525.3 136.6 L525.9 137.7 L524.1 138.8 L522.8 139.9 L524.1 141 L523.1 142.1 L522 143.2 L520.1 144.3 L523.4 145.4 L518.8 146.5 L521 147.6 L523.3 148.7 L520.9 149.8 L521.2 150.9 L519.8 152 L522.4 153.1 L519.7 154.2 L521.3 155.3 L521.1 156.4 L519.9 157.5 L521.9 158.6 L519.6 159.7" stroke="#FC5314" stroke-width="1.85" fill="none" stroke-linejoin="round"/><path d="M518.8 55.3 L518.8 162.1" stroke="#FC5314" stroke-width="1.5" fill="none" stroke-linejoin="round"/><path d="M35.3 252.6 L157 252.6" stroke="#8a8a8a" stroke-width="1.2" fill="none" stroke-linejoin="round"/><path d="M37.6 252.3 L38.7 246.6 L39.8 242.8 L40.9 242.6 L42 242.2 L43.1 240.9 L44.2 240.2 L45.3 239.8 L46.4 239.4 L47.5 239.6 L48.6 238.7 L49.7 238.6 L50.8 237.9 L51.9 237.1 L53 237.9 L54.1 236.9 L55.2 237.4 L56.3 238.1 L57.4 236.8 L58.5 237.3 L59.6 236.5 L60.7 237.1 L61.8 236.8 L62.9 237.5 L64 237.5 L65.1 238 L66.2 238.8 L67.3 238.3 L68.4 238.6 L69.5 238.4 L70.6 238.5 L71.7 238.5 L72.8 238.3 L73.9 239.5 L75 240.6 L76.1 240.3 L77.2 240 L78.3 241.4 L79.4 240.6 L80.5 240.8 L81.6 240.9 L82.7 241.3 L83.8 242 L84.9 243.5 L86 242.7 L87.1 242.6 L88.2 243.2 L89.3 243.7 L90.4 243.3 L91.5 244.6 L92.6 245.2 L93.7 245.4 L94.8 245.9 L95.9 245.3 L97 245.3 L98.1 247 L99.2 247.1 L100.3 246 L101.4 247.1 L102.5 247.2 L103.6 247.6 L104.7 247.7 L105.8 247.5 L106.9 248 L108 248.2 L109.1 248.3 L110.2 247.6 L111.3 247.2 L112.4 248.5 L113.5 248.3 L114.6 249.4 L115.7 249.8 L116.8 249.8 L117.9 249.7 L119 250.1 L120.1 250.8 L121.2 250 L122.3 251.1 L123.4 251.1 L124.5 251.1 L125.6 252.6 L134 252.6 L135 249 L136 252.6 L138 252.6 L139 249.5 L140 252.6" stroke="#008000" stroke-width="1.85" fill="none" stroke-linejoin="round"/><path d="M37 252.2 L38.1 249.1 L39.2 247 L40.3 248 L41.4 248 L42.5 248.1 L43.6 246.4 L44.7 246.1 L45.8 244.5 L46.9 244.7 L48 244.1 L49.1 242 L50.2 242 L51.3 241.2 L52.4 242 L53.5 240.6 L54.6 239.5 L55.7 241.2 L56.8 240.1 L57.9 239.4 L59 239.5 L60.1 239 L61.2 240 L62.3 239.6 L63.4 241.2 L64.5 240.8 L65.6 239.6 L66.7 239.8 L67.8 240.4 L68.9 239.7 L70 240.9 L71.1 241.3 L72.2 241.2 L73.3 241.7 L74.4 242.6 L75.5 243.5 L76.6 243.9 L77.7 243.3 L78.8 244.2 L79.9 243.5 L81 244.6 L82.1 244.3 L83.2 245.7 L84.3 245 L85.4 245.6 L86.5 246.6 L87.6 247.4 L88.7 246.6 L89.8 247.6 L90.9 248.7 L92 249.5 L93.1 249.5 L94.2 250.5 L95.3 250.8 L96.4 252.2 L97.5 252.1 L98.6 251.1 L99.7 250.5 L100.8 251.7 L101.9 252.3 L103 251.5 L104.1 251.9 L105.2 250.9 L106.3 250.3 L107.4 251.7 L108.5 251.9 L109.6 252.6" stroke="#1272CC" stroke-width="1.85" fill="none" stroke-linejoin="round"/><path d="M36 251.2 L37 250 L38 246.4 L39 250.6 L40 252 L41 250.3 L42 248.7 L43 248.9 L44 246 L45 245 L46 244.5 L47 244.2 L48 246.5 L49 242.9 L50 243.6 L51 244.9 L52 245.2 L53 243.6 L54 244.3 L55 244 L56 244 L57 242.8 L58 244.2 L59 242.5 L60 243.5 L61 241 L62 243.2 L63 241.1 L64 240.9 L65 243 L66 241.8 L67 243.2 L68 241.8 L69 244.5 L70 243 L71 242.3 L72 244 L73 245.1 L74 243.9 L75 245.6 L76 247.5 L77 246.7 L78 246.2 L79 246.1 L80 247.6 L81 245.6 L82 244.1 L83 246.6 L84 246.2 L85 249.1 L86 247.6 L87 246.5 L88 246.4 L89 248.1 L90 246.9 L91 247.2 L92 247.7 L93 248 L94 248 L95 248.1 L96 249.4 L97 250 L98 246.8 L99 251.2 L100 248.9 L101 250.3 L102 248.5 L103 249.7 L104 249.8 L105 249.8 L106 250.7 L107 250.6 L108 249.1 L109 250.1 L110 251.1 L111 251.1 L112 250.2 L113 250.6 L114 250.9 L115 250.3 L116 250.3 L117 252.6 L118 251.8 L119 252.5 L120 251.9 L133 252.6 L134 248 L135 252.6 L149 252.6 L150 249.5 L151 252.6 L155 252.6 L156 249.5 L157 252.6" stroke="#FC5314" stroke-width="1.85" fill="none" stroke-linejoin="round"/><path d="M118 252.6 L157 252.6" stroke="#FC5314" stroke-width="1.5" fill="none" stroke-linejoin="round"/><path d="M162.7 258 L163.6 259.2 L161.4 260.4 L162.7 261.6 L161.2 262.8 L164.6 264 L165.1 264 L164 265 L161 266 L162.5 267 L164.5 268 L163.1 269 L163.2 270 L162.6 271 L163.4 272 L162.9 273 L162.9 274 L164.2 275 L163.6 276 L162.3 277 L165.1 278 L165.3 279 L163.9 280 L163.8 281 L162.9 282 L164 283 L164.8 284 L163.9 285 L163.2 286 L164.2 287 L160.9 288 L162.1 289 L162.4 290 L161.8 291 L163.1 292 L163.1 293 L160.9 294 L165.9 295 L162.9 296 L161.3 297 L163.2 298 L163.4 299 L164.2 300 L164.1 301 L163.8 302 L164.3 303 L165.1 304 L165.3 305 L165.2 306 L165.5 307 L165.4 308 L165.7 309 L166.3 310 L166.1 311 L166.4 312 L166 313 L165.9 314 L166 315 L166.7 316 L167.7 317 L167.7 318 L166.9 319 L166.8 320 L168.1 321 L168.1 322 L167.5 323 L168.8 324 L168.6 325 L169.3 326 L169 327 L169.5 328 L169.4 329 L169.3 330 L170.2 331 L170.6 332 L171.8 333 L171.6 334 L171.8 335 L173.3 336 L174 337 L174.7 338 L174.9 339 L174.2 340 L175 341 L175.5 342 L176.2 343 L175.7 344 L177 345 L177.3 346 L176.9 347 L177.6 348 L178.2 349 L177.9 350 L177.8 351 L177.2 352 L176.2 353 L175.5 354 L174.5 355 L174.6 356 L172.2 357 L170.5 358 L169.5 359 L167.2 360 L165.2 361" stroke="#008000" stroke-width="1.85" fill="none" stroke-linejoin="round"/><path d="M161.4 300 L160.9 301 L160.9 302 L161.2 303 L161.1 304 L160.9 305 L160.9 306 L161.9 307 L161.6 308 L160.9 309 L161.1 310 L162 311 L161.7 312 L162.6 313 L162.6 314 L162.8 315 L161.8 316 L162.6 317 L163.2 318 L161.7 319 L162.7 320 L162.4 321 L162.2 322 L161.7 323 L161.3 324 L162 325 L163.3 326 L163.9 327 L164.5 328 L164.9 329 L165.4 330 L165.2 331 L165.3 332 L166.5 333 L167.4 334 L167.9 335 L167.8 336 L169 337 L169.3 338 L170.7 339 L170.7 340 L171.8 341 L172.6 342 L173.2 343 L174.4 344 L173.5 345 L173.2 346 L174.9 347 L175.3 348 L175.5 349 L175.1 350 L174.3 351 L172.8 352 L170.8 353 L169.9 354 L168.9 355 L166.8 356 L166.4 357 L163.1 358 L162.1 359 L161.5 360" stroke="#1272CC" stroke-width="1.85" fill="none" stroke-linejoin="round"/><path d="M160.9 258 L160.9 259 L160.9 260 L160.9 261 L162.5 262 L161.7 263 L161.9 264 L161.2 265 L162.3 266 L161.8 267 L161.1 268 L161.6 269 L162.2 270 L162.9 271 L161.9 272 L162.3 273 L163.5 274 L161.2 275 L160.9 276 L162.6 277 L162.1 278 L161.6 279 L161.9 280 L161.4 281 L162 282 L161.3 283 L162.2 284 L160.9 285 L160.9 286 L161.7 287 L161.3 288 L162.2 289 L161.7 290 L161.3 291 L162 292 L161.4 293 L160.9 294 L161 295 L161.3 296 L161.6 297 L162.1 298 L163 299 L162.9 300 L164 301 L163.8 302 L162.8 303 L164.5 304 L164.3 305 L163.2 306 L163.7 307 L163.9 308 L162.8 309 L163.1 310 L162.2 311 L162.1 312 L160.9 313 L161 314 L160.9 315 L161.9 316 L160.9 317 L162.3 318 L163.4 319 L163.2 320 L163 321 L163.8 322 L163 323 L163.4 324 L164.1 325 L164.6 326 L166 327 L164.9 328 L166.8 329 L165.2 330 L166.3 331 L167.3 332 L168.7 333 L167.7 334 L166.9 335 L169.4 336 L169.4 337 L169 338 L169.4 339 L169.8 340 L170.6 341 L171.2 342 L169.6 343 L172.8 344 L171 345 L170.9 346 L171.4 347 L170.3 348 L171.5 349 L169.8 350 L168 351 L167.4 352 L166.7 353 L166.2 354 L166 355 L164 356 L164.8 357 L162.4 358 L161.4 359" stroke="#FC5314" stroke-width="1.85" fill="none" stroke-linejoin="round"/><path d="M160.9 256.7 L160.9 300" stroke="#FC5314" stroke-width="1.5" fill="none" stroke-linejoin="round"/><path d="M216 253 L337.5 253" stroke="#8a8a8a" stroke-width="1.2" fill="none" stroke-linejoin="round"/><path d="M218 253 L219 247 L220 242.6 L221 242.8 L222 242 L223 241.5 L224 241.2 L225 240.6 L226 240.6 L227 239.8 L228 239.4 L229 240.8 L230 239.6 L231 239.3 L232 240.1 L233 239.6 L234 238.4 L235 238.1 L236 238 L237 237.5 L238 238.2 L239 237.9 L240 237.9 L241 238.1 L242 238 L243 238.5 L244 238.4 L245 236.9 L246 238.2 L247 237.3 L248 237.2 L249 238.3 L250 237.7 L251 238 L252 238.8 L253 238 L254 238 L255 238.7 L256 239.2 L257 239 L258 238 L259 238.6 L260 238.9 L261 240.4 L262 240.3 L263 240.6 L264 241.2 L265 240.9 L266 241.7 L267 242.1 L268 241.7 L269 242.6 L270 243.3 L271 242.8 L272 244.1 L273 244.4 L274 244.9 L275 244.3 L276 245.1 L277 245.4 L278 244.7 L279 243.6 L280 244.5 L281 245.5 L282 245.2 L283 245.8 L284 247.3 L285 246.3 L286 246.5 L287 246.3 L288 246.7 L289 248.3 L290 247.9 L291 247.9 L292 248.6 L293 249.3 L294 249.9 L295 249.4 L296 250.4 L297 249.3 L298 249.2 L299 248.8 L300 248.3 L301 248.2 L302 248.7 L303 249.5 L304 249 L305 250.1 L306 250.9 L307 251.7 L308 251.8 L309 252.3 L310 253" stroke="#008000" stroke-width="1.85" fill="none" stroke-linejoin="round"/><path d="M218 252.6 L219 247.9 L220 247.7 L221 247.2 L222 248.4 L223 250.8 L224 249.1 L225 250.1 L226 248.7 L227 248.6 L228 247.3 L229 247.4 L230 247.3 L231 247 L232 245 L233 245.7 L234 244.5 L235 243.5 L236 243.6 L237 242.5 L238 241.8 L239 241.2 L240 241.3 L241 240.8 L242 240.3 L243 239.4 L244 239.7 L245 240.2 L246 240.8 L247 240 L248 240.8 L249 240 L250 239.3 L251 240.4 L252 239.4 L253 240.2 L254 240.6 L255 239.8 L256 240.2 L257 242.1 L258 241 L259 241.3 L260 242 L261 241.7 L262 242 L263 242.6 L264 241.3 L265 243.8 L266 242.7 L267 243.1 L268 244.5 L269 244.6 L270 244.2 L271 245.5 L272 245.1 L273 245.8 L274 245.7 L275 246.5 L276 247.2 L277 247.1 L278 247.2 L279 247.5 L280 247 L281 246.6 L282 246.8 L283 248 L284 250 L285 253 L285 252.9 L286.2 253 L287.4 253 L288.6 253 L289.8 252.9 L291 252.5 L292.2 252.5 L293.4 253 L294.6 253 L295.8 253 L297 253 L298.2 252.5 L299.4 253 L300.6 253 L301.8 252.1 L303 253 L304.2 253 L305.4 253 L306.6 252.3 L307.8 252.2 L309 253 L310.2 251.9 L311.4 252.6 L312.6 252.3 L313.8 252.4 L315 251.8 L316.2 252.8 L317.4 253 L318.6 253 L319.8 253" stroke="#1272CC" stroke-width="1.85" fill="none" stroke-linejoin="round"/><path d="M217 253 L219 240 L222 239.5 L228 240 L228 239.6 L229 242.1 L230 241.6 L231 242.5 L232 240.1 L233 242.6 L234 241.3 L235 243.4 L236 243.8 L237 243 L238 245 L239 246.7 L240 246.5 L241 247.3 L242 246.4 L243 247.3 L244 251.8 L245 251.1 L246 250.3 L247 247.5 L248 249 L249 249.8 L250 253 L251 252.3 L252 250.1 L253 249.9 L254 251 L255 250 L256 252.4 L257 250.2 L258 248.7 L259 248.9 L260 250.7 L261 248 L262 250 L263 249.7 L264 250.9 L265 249.9 L266 248.9 L267 250 L268 249.6 L269 250.6 L270 249.6 L271 251.9 L272 249.6 L273 250.3 L274 249.2 L275 250.1 L276 250 L277 250.9 L278 252.5 L279 251.7 L280 252.1" stroke="#FC5314" stroke-width="1.85" fill="none" stroke-linejoin="round"/><path d="M276 253 L337.5 253" stroke="#FC5314" stroke-width="1.5" fill="none" stroke-linejoin="round"/><path d="M341.2 258.5 L344 259 L341.2 259.5 L343 270 L341.5 271 L341.7 272 L345.3 273 L345.4 274 L341.2 275 L344.6 276 L347 277 L347.6 278 L346 279 L349.5 280 L346 281 L347.1 282 L347.8 283 L347.8 284 L349.3 285 L349.8 286 L348 287 L350.1 288 L346.6 289 L347.2 290 L350.1 291 L347.3 292 L348.7 293 L346.3 294 L346.6 295 L346.9 296 L347.4 297 L346.7 298 L347.3 299 L348.4 300 L349.3 301 L347.6 302 L348.6 303 L349.2 304 L346.3 305 L345.8 306 L351.1 307 L350.9 308 L349.1 309 L349.8 310 L348 311 L347.6 312 L350.5 313 L347.9 314 L350.8 314 L350.1 315 L350.9 316 L352.1 317 L352.4 318 L351.3 319 L352.4 320 L351.4 321 L351.9 322 L352.7 323 L353.6 324 L352.6 325 L353.6 326 L353.7 327 L353.2 328 L354.2 329 L355.5 330 L354.9 331 L355.6 332 L356.1 333 L355.5 334 L357 335 L357.5 336 L357.9 337 L357.9 338 L357.1 339 L357.2 340 L357.3 341 L357.4 342 L357.7 343 L358.9 344 L359.4 345 L358.4 346 L359.2 347 L357.8 348 L358.2 349 L357.6 350 L357.1 351 L357.9 352 L357.3 353 L356.3 354 L355.6 355 L354.7 356 L354.5 357 L353.4 358 L351.2 359 L347.6 360 L345.1 361" stroke="#008000" stroke-width="1.85" fill="none" stroke-linejoin="round"/><path d="M341.2 279 L343 280 L341.2 281 L341.5 296 L342.1 297 L342.2 298 L341.8 299 L341.4 300 L341.2 301 L342.1 302 L343 303 L343.3 304 L341.2 305 L342.1 306 L342.4 307 L342.2 308 L343 309 L343.1 310 L342.9 311 L343.3 312 L342.5 313 L343 314 L343.9 315 L345.8 316 L345.1 317 L346.7 318 L348.1 319 L348.4 320 L349.3 321 L348.8 322 L349.8 323 L350.5 324 L351.7 325 L351.2 326 L352 327 L351.6 328 L352 329 L353.3 330 L353 331 L353.9 332 L353.8 333 L355 334 L355.5 335 L353.9 336 L355.9 337 L355.3 338 L355.7 339 L355.7 340 L356.5 341 L355.6 342 L355.9 343 L356.1 344 L356.9 345 L357.4 346 L357 347 L356.1 348 L354.8 349 L353.5 350 L354.1 351 L353.3 352 L351.8 353 L350.7 354 L348 355 L346.3 356 L342 357" stroke="#1272CC" stroke-width="1.85" fill="none" stroke-linejoin="round"/><path d="M342 290 L341.4 291 L341.2 292 L342.3 293 L341.2 294 L341.4 295 L345.1 296 L343.6 297 L344 298 L343.9 299 L343.9 300 L343.4 301 L346.4 302 L343.1 303 L344.3 304 L343.1 305 L342.9 306 L341.2 307 L341.2 308 L345.8 309 L345.8 310 L343.2 311 L343.8 312 L344.8 313 L342.6 314 L346.5 315 L342.6 316 L343.2 317 L341.2 318 L346.4 319 L344.4 320 L346.7 321 L343.1 322 L345 323 L344.7 324 L345 325 L347.7 326 L348 327 L346.8 328 L344.4 329 L346.3 330 L347 331 L346 332 L346.1 333 L346.1 334 L344.2 335 L345.9 336 L347.9 337 L344.4 338 L346 339 L347.2 340 L344.2 341 L346 342 L343.9 343 L345.5 344 L345.7 344.5 L346.5 345.5 L347.3 346.5 L348 347.5 L348.7 348.5 L348.2 349.5 L350.8 350.5 L350.4 351.5 L350.6 352.5 L351.4 353.5 L352.5 354.5 L352.4 355.5 L353.3 356.5 L353.9 357.5 L355 358.5 L354.9 359.5 L356.1 360.5 L356 361.5 L341.2 362" stroke="#FC5314" stroke-width="1.85" fill="none" stroke-linejoin="round"/><path d="M341.2 257.2 L341.2 362" stroke="#FC5314" stroke-width="1.5" fill="none" stroke-linejoin="round"/><path d="M392.9 252.6 L514.4 252.6" stroke="#8a8a8a" stroke-width="1.2" fill="none" stroke-linejoin="round"/><path d="M393 252.6 L394 247.7 L395 243.7 L396 242.8 L397 241.9 L398 242.6 L399 242.3 L400 242 L401 241.9 L402 243 L403 241.5 L404 241.5 L405 240.9 L406 241.6 L407 240.6 L408 239.9 L409 239.5 L410 240.3 L411 240.3 L412 238.8 L413 239.3 L414 240 L415 240.1 L416 238.6 L417 239.1 L418 239.7 L419 238.8 L420 238.7 L421 238.7 L422 238.2 L423 239 L424 239.2 L425 238.2 L426 239.1 L427 239.7 L428 239.1 L429 239.6 L430 238.7 L431 239.9 L432 238.7 L433 240.4 L434 239.1 L435 239.1 L436 239.1 L437 239.5 L438 239.5 L439 239.5 L440 239.8 L441 240.7 L442 241.1 L443 240.7 L444 241.9 L445 240.9 L446 241.2 L447 241.4 L448 242.8 L449 241.8 L450 242.2 L451 244 L452 244.4 L453 244.4 L454 242.9 L455 244 L456 244.7 L457 244.5 L458 243.6 L459 244.6 L460 244 L461 244.5 L462 246.7 L463 246 L464 244.9 L465 245.1 L466 246.1 L467 245.2 L468 245.7 L469 244.8 L470 244.9 L471 245.7 L472 245.6 L473 245.6 L474 246.7 L475 247.6 L476 247.7 L477 247.6 L478 247.4 L479 247.5 L480 246.5 L481 248.2 L482 249 L483 248.4 L484 248.7 L485 249.7 L486 249.2 L487 248.7 L488 248.3 L489 247.7 L490 247.3 L491 248.8 L492 249.5 L493 248.6 L494 249.5 L495 250.1 L496 249.9 L497 249.9 L498 250.4 L499 249.6 L500 251 L501 251.3 L502 252.6 L503 252.6 L508 252.6 L509 250 L510 252.6" stroke="#008000" stroke-width="1.85" fill="none" stroke-linejoin="round"/><path d="M394 252.4 L395 247 L396 248.7 L397 249.3 L398 249.1 L399 248.4 L400 247.1 L401 247.3 L402 246.9 L403 247.2 L404 249.4 L405 247.9 L406 245.9 L407 243.2 L408 242.9 L409 243.3 L410 241.2 L411 241.4 L412 241.8 L413 241.8 L414 241.4 L415 241 L416 242 L417 240.7 L418 240.8 L419 242 L420 242 L421 241.5 L422 240.5 L423 240.5 L424 240.4 L425 240.3 L426 240.7 L427 241.8 L428 241.1 L429 240.5 L430 240.5 L431 240.5 L432 242.1 L433 240.4 L434 242 L435 241.1 L436 241.6 L437 241.5 L438 243.2 L439 242.7 L440 244.6 L441 242.7 L442 242.9 L443 244.2 L444 244.5 L445 244.3 L446 243.6 L447 245.9 L448 245.7 L449 245.9 L450 245.6 L451 246.6 L452 246 L453 246.6 L454 246.7 L455 247.7 L456 247.7 L457 248.8 L458 250.6 L459 250.4 L460 250.5 L461 250.6 L462 251.5 L463 250.2 L464 250.6 L465 251.2 L466 250.7 L467 250.5 L468 250.8 L469 252.1 L470 251.8 L471 251.4 L472 251.7 L473 251.3 L474 252.3 L475 250.7 L476 252.3 L477 250.7 L478 251 L479 250.9 L480 250.1 L481 251.3 L482 251.1 L483 251.2" stroke="#1272CC" stroke-width="1.85" fill="none" stroke-linejoin="round"/><path d="M393 252.5 L394 247.4 L395 243.7 L396 244.2 L397 243.5 L398 243.1 L399 242.6 L400 242.8 L401 242.6 L402 241.7 L403 242.4 L404 241.4 L405 242.7 L406 243.1 L407 244.5 L408 244.4 L409 244 L410 243.9 L411 245.2 L412 246.7 L413 247.5 L414 246.7 L415 246.5 L416 246.8 L417 246.2 L418 248.2 L419 248.5 L420 250.9 L421 251.1 L422 252.5 L430 252.6 L431 249 L432 252.6 L439 252.6 L440 249 L441 252.6" stroke="#FC5314" stroke-width="1.85" fill="none" stroke-linejoin="round"/><path d="M420 252.6 L514.4 252.6" stroke="#FC5314" stroke-width="1.5" fill="none" stroke-linejoin="round"/><path d="M518.8 258.4 L519.1 259.4 L520.5 260.4 L522.1 261.4 L518.8 262.4 L519.8 263.4 L526.2 264.4 L522.3 265.4 L521 266.4 L521.7 267.4 L518.8 268.4 L523.2 269.4 L521.2 270.4 L519 271.4 L522.6 272.4 L520.1 273.4 L519.6 274.4 L521.8 275.4 L521.7 276.4 L520.6 277.4 L521.2 278.4 L519.6 279.4 L519.5 280.4 L522.9 281.4 L523.6 282.4 L522.4 283.4 L522.5 284.4 L521.5 285.4 L522 286.4 L520.9 287.4 L524.8 288.4 L521.6 289.4 L523.1 290.4 L522.6 291.4 L520.8 292.4 L525.6 293.4 L522.4 294.4 L522 295.4 L523.5 296.4 L522.3 297.4 L523.9 298.4 L522.8 299.4 L525.2 300.4 L524.7 301.4 L523 302.4 L526.6 303.4 L525.6 304.4 L524.1 305.4 L526.3 306.4 L526.6 307.4 L528.9 308.4 L525.3 309.4 L527.9 310.4 L526.8 311.4 L528 312.4 L527 313.4 L527.5 314.4 L528.5 315.4 L526.3 316.4 L525.3 317.4 L528.3 317.9 L528.3 318.9 L528.9 319.9 L529.6 320.9 L529.4 321.9 L530.5 322.9 L530.1 323.9 L530.4 324.9 L531.2 325.9 L531.3 326.9 L531.2 327.9 L531.6 328.9 L531.3 329.9 L531.6 330.9 L532.3 331.9 L533 332.9 L532.5 333.9 L533.5 334.9 L534.4 335.9 L534.8 336.9 L533.8 337.9 L534.7 338.9 L534.6 339.9 L534.8 340.9 L535.1 341.9 L535 342.9 L535.4 343.9 L535.1 344.9 L534.7 345.9 L534.9 346.9 L534.9 347.9 L535.2 348.9 L534.6 349.9 L534.7 350.9 L534.9 351.9 L533.2 352.9 L533.2 353.9 L533.3 354.9 L532.7 355.9 L531.7 356.9 L532.5 357.9 L531.5 358.9 L530.5 359.9 L526.7 360.9" stroke="#008000" stroke-width="1.85" fill="none" stroke-linejoin="round"/><path d="M518.8 290 L521 291 L518.8 292 L518.8 296 L521 297 L518.8 298 L519 300 L519.9 301 L519.6 302 L520.2 303 L520.6 304 L519.9 305 L520.5 306 L520.8 307 L520.6 308 L522.4 309 L522.2 310 L522.3 311 L522.5 312 L523.1 313 L523.8 314 L523.8 315 L525.3 316 L523.4 317 L524 318 L525.6 319 L525 320 L526.5 321 L526.5 322 L527.7 323 L528 324 L528.9 325 L529 326 L529.6 327 L529.5 328 L530.1 329 L530.1 330 L529.8 331 L529.7 332 L530.1 333 L531.4 334 L530 335 L531.9 336 L531.7 337 L532.7 338 L532.5 339 L532 340 L532.6 341 L531.3 342 L532.9 343 L533.1 344 L531.9 345 L533.6 346 L532.9 347 L532.7 348 L531.4 349 L532.3 350 L531.9 351 L531.2 352 L529.1 353 L528.5 354 L527 355 L524.8 356 L524.1 357 L522.2 358 L521.6 359" stroke="#1272CC" stroke-width="1.85" fill="none" stroke-linejoin="round"/><path d="M518.8 336 L524 338 L518.8 339 L518.8 346 L523 347.5 L518.8 349 L518.8 353 L535 361.5 L518.8 362" stroke="#FC5314" stroke-width="1.85" fill="none" stroke-linejoin="round"/><path d="M518.8 256.8 L518.8 362" stroke="#FC5314" stroke-width="1.5" fill="none" stroke-linejoin="round"/>
<line x1="35.5" y1="53.3" x2="35.5" y2="160.4" stroke="#858585" stroke-width="1" stroke-opacity="1" />
<line x1="35.5" y1="160.4" x2="156.6" y2="160.4" stroke="#858585" stroke-width="1" stroke-opacity="1" />
<line x1="35.5" y1="160.4" x2="35.5" y2="158.9" stroke="#858585" stroke-width="0.8" stroke-opacity="1" />
<line x1="35.5" y1="160.4" x2="37" y2="160.4" stroke="#858585" stroke-width="0.8" stroke-opacity="1" />
<line x1="75.9" y1="160.4" x2="75.9" y2="158.9" stroke="#858585" stroke-width="0.8" stroke-opacity="1" />
<line x1="35.5" y1="124.7" x2="37" y2="124.7" stroke="#858585" stroke-width="0.8" stroke-opacity="1" />
<line x1="116.2" y1="160.4" x2="116.2" y2="158.9" stroke="#858585" stroke-width="0.8" stroke-opacity="1" />
<line x1="35.5" y1="89" x2="37" y2="89" stroke="#858585" stroke-width="0.8" stroke-opacity="1" />
<line x1="156.6" y1="160.4" x2="156.6" y2="158.9" stroke="#858585" stroke-width="0.8" stroke-opacity="1" />
<line x1="35.5" y1="53.3" x2="37" y2="53.3" stroke="#858585" stroke-width="0.8" stroke-opacity="1" />
<line x1="35.5" y1="26" x2="35.5" y2="49.4" stroke="#858585" stroke-width="1" stroke-opacity="1" />
<line x1="35.8" y1="26" x2="35.8" y2="28.4" stroke="#3a3a3a" stroke-width="1.6" stroke-opacity="1" />
<line x1="35.8" y1="33.9" x2="35.8" y2="36.3" stroke="#3a3a3a" stroke-width="1.6" stroke-opacity="1" />
<line x1="35.8" y1="41.9" x2="35.8" y2="44.3" stroke="#3a3a3a" stroke-width="1.6" stroke-opacity="1" />
<line x1="160.6" y1="160.4" x2="188.5" y2="160.4" stroke="#858585" stroke-width="1" stroke-opacity="1" />
<line x1="214.8" y1="55.3" x2="214.8" y2="162.1" stroke="#858585" stroke-width="1" stroke-opacity="1" />
<line x1="214.8" y1="162.1" x2="336.5" y2="162.1" stroke="#858585" stroke-width="1" stroke-opacity="1" />
<line x1="214.8" y1="162.1" x2="214.8" y2="160.6" stroke="#858585" stroke-width="0.8" stroke-opacity="1" />
<line x1="214.8" y1="162.1" x2="216.3" y2="162.1" stroke="#858585" stroke-width="0.8" stroke-opacity="1" />
<line x1="255.4" y1="162.1" x2="255.4" y2="160.6" stroke="#858585" stroke-width="0.8" stroke-opacity="1" />
<line x1="214.8" y1="126.5" x2="216.3" y2="126.5" stroke="#858585" stroke-width="0.8" stroke-opacity="1" />
<line x1="295.9" y1="162.1" x2="295.9" y2="160.6" stroke="#858585" stroke-width="0.8" stroke-opacity="1" />
<line x1="214.8" y1="90.9" x2="216.3" y2="90.9" stroke="#858585" stroke-width="0.8" stroke-opacity="1" />
<line x1="336.5" y1="162.1" x2="336.5" y2="160.6" stroke="#858585" stroke-width="0.8" stroke-opacity="1" />
<line x1="214.8" y1="55.3" x2="216.3" y2="55.3" stroke="#858585" stroke-width="0.8" stroke-opacity="1" />
<line x1="214.8" y1="27.9" x2="214.8" y2="51.1" stroke="#858585" stroke-width="1" stroke-opacity="1" />
<line x1="215.1" y1="27.9" x2="215.1" y2="30.3" stroke="#3a3a3a" stroke-width="1.6" stroke-opacity="1" />
<line x1="215.1" y1="35.8" x2="215.1" y2="38.2" stroke="#3a3a3a" stroke-width="1.6" stroke-opacity="1" />
<line x1="215.1" y1="43.6" x2="215.1" y2="46" stroke="#3a3a3a" stroke-width="1.6" stroke-opacity="1" />
<line x1="340.1" y1="162.1" x2="368" y2="162.1" stroke="#858585" stroke-width="1" stroke-opacity="1" />
<line x1="393.6" y1="55.3" x2="393.6" y2="162.1" stroke="#858585" stroke-width="1" stroke-opacity="1" />
<line x1="393.6" y1="162.1" x2="514.4" y2="162.1" stroke="#858585" stroke-width="1" stroke-opacity="1" />
<line x1="393.6" y1="162.1" x2="393.6" y2="160.6" stroke="#858585" stroke-width="0.8" stroke-opacity="1" />
<line x1="393.6" y1="162.1" x2="395.1" y2="162.1" stroke="#858585" stroke-width="0.8" stroke-opacity="1" />
<line x1="433.9" y1="162.1" x2="433.9" y2="160.6" stroke="#858585" stroke-width="0.8" stroke-opacity="1" />
<line x1="393.6" y1="126.5" x2="395.1" y2="126.5" stroke="#858585" stroke-width="0.8" stroke-opacity="1" />
<line x1="474.1" y1="162.1" x2="474.1" y2="160.6" stroke="#858585" stroke-width="0.8" stroke-opacity="1" />
<line x1="393.6" y1="90.9" x2="395.1" y2="90.9" stroke="#858585" stroke-width="0.8" stroke-opacity="1" />
<line x1="514.4" y1="162.1" x2="514.4" y2="160.6" stroke="#858585" stroke-width="0.8" stroke-opacity="1" />
<line x1="393.6" y1="55.3" x2="395.1" y2="55.3" stroke="#858585" stroke-width="0.8" stroke-opacity="1" />
<line x1="393.6" y1="27.9" x2="393.6" y2="51.1" stroke="#858585" stroke-width="1" stroke-opacity="1" />
<line x1="393.9" y1="27.9" x2="393.9" y2="30.3" stroke="#3a3a3a" stroke-width="1.6" stroke-opacity="1" />
<line x1="393.9" y1="35.8" x2="393.9" y2="38.2" stroke="#3a3a3a" stroke-width="1.6" stroke-opacity="1" />
<line x1="393.9" y1="43.6" x2="393.9" y2="46" stroke="#3a3a3a" stroke-width="1.6" stroke-opacity="1" />
<line x1="518.4" y1="162.1" x2="546.2" y2="162.1" stroke="#858585" stroke-width="1" stroke-opacity="1" />
<line x1="35.3" y1="256.7" x2="35.3" y2="363.8" stroke="#858585" stroke-width="1" stroke-opacity="1" />
<line x1="35.3" y1="363.8" x2="157" y2="363.8" stroke="#858585" stroke-width="1" stroke-opacity="1" />
<line x1="35.3" y1="363.8" x2="35.3" y2="362.3" stroke="#858585" stroke-width="0.8" stroke-opacity="1" />
<line x1="35.3" y1="363.8" x2="36.8" y2="363.8" stroke="#858585" stroke-width="0.8" stroke-opacity="1" />
<line x1="75.9" y1="363.8" x2="75.9" y2="362.3" stroke="#858585" stroke-width="0.8" stroke-opacity="1" />
<line x1="35.3" y1="328.1" x2="36.8" y2="328.1" stroke="#858585" stroke-width="0.8" stroke-opacity="1" />
<line x1="116.4" y1="363.8" x2="116.4" y2="362.3" stroke="#858585" stroke-width="0.8" stroke-opacity="1" />
<line x1="35.3" y1="292.4" x2="36.8" y2="292.4" stroke="#858585" stroke-width="0.8" stroke-opacity="1" />
<line x1="157" y1="363.8" x2="157" y2="362.3" stroke="#858585" stroke-width="0.8" stroke-opacity="1" />
<line x1="35.3" y1="256.7" x2="36.8" y2="256.7" stroke="#858585" stroke-width="0.8" stroke-opacity="1" />
<line x1="35.3" y1="228.8" x2="35.3" y2="252.6" stroke="#858585" stroke-width="1" stroke-opacity="1" />
<line x1="35.6" y1="228.8" x2="35.6" y2="231.2" stroke="#3a3a3a" stroke-width="1.6" stroke-opacity="1" />
<line x1="35.6" y1="236.9" x2="35.6" y2="239.3" stroke="#3a3a3a" stroke-width="1.6" stroke-opacity="1" />
<line x1="35.6" y1="244.9" x2="35.6" y2="247.3" stroke="#3a3a3a" stroke-width="1.6" stroke-opacity="1" />
<line x1="160.6" y1="363.8" x2="188" y2="363.8" stroke="#858585" stroke-width="1" stroke-opacity="1" />
<line x1="216" y1="257.2" x2="216" y2="364.1" stroke="#858585" stroke-width="1" stroke-opacity="1" />
<line x1="216" y1="364.1" x2="337.5" y2="364.1" stroke="#858585" stroke-width="1" stroke-opacity="1" />
<line x1="216" y1="364.1" x2="216" y2="362.6" stroke="#858585" stroke-width="0.8" stroke-opacity="1" />
<line x1="216" y1="364.1" x2="217.5" y2="364.1" stroke="#858585" stroke-width="0.8" stroke-opacity="1" />
<line x1="256.5" y1="364.1" x2="256.5" y2="362.6" stroke="#858585" stroke-width="0.8" stroke-opacity="1" />
<line x1="216" y1="328.5" x2="217.5" y2="328.5" stroke="#858585" stroke-width="0.8" stroke-opacity="1" />
<line x1="297" y1="364.1" x2="297" y2="362.6" stroke="#858585" stroke-width="0.8" stroke-opacity="1" />
<line x1="216" y1="292.8" x2="217.5" y2="292.8" stroke="#858585" stroke-width="0.8" stroke-opacity="1" />
<line x1="337.5" y1="364.1" x2="337.5" y2="362.6" stroke="#858585" stroke-width="0.8" stroke-opacity="1" />
<line x1="216" y1="257.2" x2="217.5" y2="257.2" stroke="#858585" stroke-width="0.8" stroke-opacity="1" />
<line x1="216" y1="228.8" x2="216" y2="253" stroke="#858585" stroke-width="1" stroke-opacity="1" />
<line x1="216.3" y1="228.8" x2="216.3" y2="231.2" stroke="#3a3a3a" stroke-width="1.6" stroke-opacity="1" />
<line x1="216.3" y1="237" x2="216.3" y2="239.4" stroke="#3a3a3a" stroke-width="1.6" stroke-opacity="1" />
<line x1="216.3" y1="245.2" x2="216.3" y2="247.6" stroke="#3a3a3a" stroke-width="1.6" stroke-opacity="1" />
<line x1="340.8" y1="364.1" x2="368.4" y2="364.1" stroke="#858585" stroke-width="1" stroke-opacity="1" />
<line x1="392.9" y1="256.8" x2="392.9" y2="363.8" stroke="#858585" stroke-width="1" stroke-opacity="1" />
<line x1="392.9" y1="363.8" x2="514.4" y2="363.8" stroke="#858585" stroke-width="1" stroke-opacity="1" />
<line x1="392.9" y1="363.8" x2="392.9" y2="362.3" stroke="#858585" stroke-width="0.8" stroke-opacity="1" />
<line x1="392.9" y1="363.8" x2="394.4" y2="363.8" stroke="#858585" stroke-width="0.8" stroke-opacity="1" />
<line x1="433.4" y1="363.8" x2="433.4" y2="362.3" stroke="#858585" stroke-width="0.8" stroke-opacity="1" />
<line x1="392.9" y1="328.1" x2="394.4" y2="328.1" stroke="#858585" stroke-width="0.8" stroke-opacity="1" />
<line x1="473.9" y1="363.8" x2="473.9" y2="362.3" stroke="#858585" stroke-width="0.8" stroke-opacity="1" />
<line x1="392.9" y1="292.5" x2="394.4" y2="292.5" stroke="#858585" stroke-width="0.8" stroke-opacity="1" />
<line x1="514.4" y1="363.8" x2="514.4" y2="362.3" stroke="#858585" stroke-width="0.8" stroke-opacity="1" />
<line x1="392.9" y1="256.8" x2="394.4" y2="256.8" stroke="#858585" stroke-width="0.8" stroke-opacity="1" />
<line x1="392.9" y1="228.8" x2="392.9" y2="252.6" stroke="#858585" stroke-width="1" stroke-opacity="1" />
<line x1="393.2" y1="228.8" x2="393.2" y2="231.2" stroke="#3a3a3a" stroke-width="1.6" stroke-opacity="1" />
<line x1="393.2" y1="236.9" x2="393.2" y2="239.3" stroke="#3a3a3a" stroke-width="1.6" stroke-opacity="1" />
<line x1="393.2" y1="244.9" x2="393.2" y2="247.3" stroke="#3a3a3a" stroke-width="1.6" stroke-opacity="1" />
<line x1="518.6" y1="363.8" x2="545.8" y2="363.8" stroke="#858585" stroke-width="1" stroke-opacity="1" />
<text x="39.6" y="14.9" font-size="13.5" text-anchor="start" font-weight="bold" fill="#000" >a)</text>
<text x="70.6" y="19.3" font-size="12.5" text-anchor="start" font-weight="normal" fill="#262626" stroke="#262626" stroke-width="0.12" >Ethanol</text>
<text x="217.2" y="14.7" font-size="13.5" text-anchor="start" font-weight="bold" fill="#000" >b)</text>
<text x="241.2" y="21.1" font-size="12.5" text-anchor="start" font-weight="normal" fill="#262626" stroke="#262626" stroke-width="0.12" >Heat - 90C</text>
<text x="394.4" y="14.9" font-size="13.5" text-anchor="start" font-weight="bold" fill="#000" >c)</text>
<text x="422" y="21.1" font-size="12.5" text-anchor="start" font-weight="normal" fill="#262626" stroke="#262626" stroke-width="0.12" >Autoclave</text>
<text x="39.8" y="215.7" font-size="13.5" text-anchor="start" font-weight="bold" fill="#000" >d)</text>
<text x="70.4" y="222.6" font-size="12.5" text-anchor="start" font-weight="normal" fill="#262626" stroke="#262626" stroke-width="0.12" >Ethanol</text>
<text x="216.6" y="215.9" font-size="13.5" text-anchor="start" font-weight="bold" fill="#000" >e)</text>
<text x="242" y="222.7" font-size="12.5" text-anchor="start" font-weight="normal" fill="#262626" stroke="#262626" stroke-width="0.12" >Heat - 90C</text>
<text x="394" y="215.9" font-size="13.5" text-anchor="start" font-weight="bold" fill="#000" >f)</text>
<text x="421.2" y="222.7" font-size="12.5" text-anchor="start" font-weight="normal" fill="#262626" stroke="#262626" stroke-width="0.12" >Autoclave</text>
<text x="35.5" y="173.6" font-size="9" text-anchor="middle" font-weight="normal" fill="#262626" stroke="#262626" stroke-width="0.12" ><tspan font-size="8">&#960;</tspan>/2</text>
<text x="75.9" y="173.6" font-size="9" text-anchor="middle" font-weight="normal" fill="#262626" stroke="#262626" stroke-width="0.12" ><tspan font-size="8">&#960;</tspan></text>
<text x="116.2" y="173.6" font-size="9" text-anchor="middle" font-weight="normal" fill="#262626" stroke="#262626" stroke-width="0.12" >3<tspan font-size="8">&#960;</tspan>/2</text>
<text x="156.6" y="173.6" font-size="9" text-anchor="middle" font-weight="normal" fill="#262626" stroke="#262626" stroke-width="0.12" >2<tspan font-size="8">&#960;</tspan></text>
<text x="32" y="164.3" font-size="9" text-anchor="end" font-weight="normal" fill="#262626" stroke="#262626" stroke-width="0.12" >-<tspan font-size="8">&#960;</tspan>/2</text>
<text x="32" y="128.6" font-size="9" text-anchor="end" font-weight="normal" fill="#262626" stroke="#262626" stroke-width="0.12" >0</text>
<text x="32" y="92.9" font-size="9" text-anchor="end" font-weight="normal" fill="#262626" stroke="#262626" stroke-width="0.12" ><tspan font-size="8">&#960;</tspan>/2</text>
<text x="32" y="57.2" font-size="9" text-anchor="end" font-weight="normal" fill="#262626" stroke="#262626" stroke-width="0.12" ><tspan font-size="8">&#960;</tspan></text>
<text x="96" y="185.4" font-size="9.7" text-anchor="middle" font-weight="normal" fill="#262626" stroke="#262626" stroke-width="0.12" >LF Argument [rad]</text>
<text x="0" y="0" font-size="9.7" text-anchor="middle" font-weight="normal" fill="#262626" stroke="#262626" stroke-width="0.12" transform="translate(11.6,107.4) rotate(-90)">HF Argument [rad]</text>
<text x="214.8" y="175.3" font-size="9" text-anchor="middle" font-weight="normal" fill="#262626" stroke="#262626" stroke-width="0.12" ><tspan font-size="8">&#960;</tspan>/2</text>
<text x="255.4" y="175.3" font-size="9" text-anchor="middle" font-weight="normal" fill="#262626" stroke="#262626" stroke-width="0.12" ><tspan font-size="8">&#960;</tspan></text>
<text x="295.9" y="175.3" font-size="9" text-anchor="middle" font-weight="normal" fill="#262626" stroke="#262626" stroke-width="0.12" >3<tspan font-size="8">&#960;</tspan>/2</text>
<text x="336.5" y="175.3" font-size="9" text-anchor="middle" font-weight="normal" fill="#262626" stroke="#262626" stroke-width="0.12" >2<tspan font-size="8">&#960;</tspan></text>
<text x="211.3" y="166" font-size="9" text-anchor="end" font-weight="normal" fill="#262626" stroke="#262626" stroke-width="0.12" >-<tspan font-size="8">&#960;</tspan>/2</text>
<text x="211.3" y="130.4" font-size="9" text-anchor="end" font-weight="normal" fill="#262626" stroke="#262626" stroke-width="0.12" >0</text>
<text x="211.3" y="94.8" font-size="9" text-anchor="end" font-weight="normal" fill="#262626" stroke="#262626" stroke-width="0.12" ><tspan font-size="8">&#960;</tspan>/2</text>
<text x="211.3" y="59.2" font-size="9" text-anchor="end" font-weight="normal" fill="#262626" stroke="#262626" stroke-width="0.12" ><tspan font-size="8">&#960;</tspan></text>
<text x="275.6" y="187.1" font-size="9.7" text-anchor="middle" font-weight="normal" fill="#262626" stroke="#262626" stroke-width="0.12" >LF Argument [rad]</text>
<text x="393.6" y="175.3" font-size="9" text-anchor="middle" font-weight="normal" fill="#262626" stroke="#262626" stroke-width="0.12" ><tspan font-size="8">&#960;</tspan>/2</text>
<text x="433.9" y="175.3" font-size="9" text-anchor="middle" font-weight="normal" fill="#262626" stroke="#262626" stroke-width="0.12" ><tspan font-size="8">&#960;</tspan></text>
<text x="474.1" y="175.3" font-size="9" text-anchor="middle" font-weight="normal" fill="#262626" stroke="#262626" stroke-width="0.12" >3<tspan font-size="8">&#960;</tspan>/2</text>
<text x="514.4" y="175.3" font-size="9" text-anchor="middle" font-weight="normal" fill="#262626" stroke="#262626" stroke-width="0.12" >2<tspan font-size="8">&#960;</tspan></text>
<text x="390.1" y="166" font-size="9" text-anchor="end" font-weight="normal" fill="#262626" stroke="#262626" stroke-width="0.12" >-<tspan font-size="8">&#960;</tspan>/2</text>
<text x="390.1" y="130.4" font-size="9" text-anchor="end" font-weight="normal" fill="#262626" stroke="#262626" stroke-width="0.12" >0</text>
<text x="390.1" y="94.8" font-size="9" text-anchor="end" font-weight="normal" fill="#262626" stroke="#262626" stroke-width="0.12" ><tspan font-size="8">&#960;</tspan>/2</text>
<text x="390.1" y="59.2" font-size="9" text-anchor="end" font-weight="normal" fill="#262626" stroke="#262626" stroke-width="0.12" ><tspan font-size="8">&#960;</tspan></text>
<text x="454" y="187.1" font-size="9.7" text-anchor="middle" font-weight="normal" fill="#262626" stroke="#262626" stroke-width="0.12" >LF Argument [rad]</text>
<text x="35.3" y="377" font-size="9" text-anchor="middle" font-weight="normal" fill="#262626" stroke="#262626" stroke-width="0.12" >0</text>
<text x="75.9" y="377" font-size="9" text-anchor="middle" font-weight="normal" fill="#262626" stroke="#262626" stroke-width="0.12" >100</text>
<text x="116.4" y="377" font-size="9" text-anchor="middle" font-weight="normal" fill="#262626" stroke="#262626" stroke-width="0.12" >200</text>
<text x="157" y="377" font-size="9" text-anchor="middle" font-weight="normal" fill="#262626" stroke="#262626" stroke-width="0.12" >300</text>
<text x="31.8" y="367" font-size="9" text-anchor="end" font-weight="normal" fill="#262626" stroke="#262626" stroke-width="0.12" >0</text>
<text x="31.8" y="331.3" font-size="9" text-anchor="end" font-weight="normal" fill="#262626" stroke="#262626" stroke-width="0.12" >100</text>
<text x="31.8" y="295.6" font-size="9" text-anchor="end" font-weight="normal" fill="#262626" stroke="#262626" stroke-width="0.12" >200</text>
<text x="31.8" y="259.9" font-size="9" text-anchor="end" font-weight="normal" fill="#262626" stroke="#262626" stroke-width="0.12" >300</text>
<text x="96.2" y="388.8" font-size="9.7" text-anchor="middle" font-weight="normal" fill="#262626" stroke="#262626" stroke-width="0.12" >LF Modulus [nA]</text>
<text x="0" y="0" font-size="9.7" text-anchor="middle" font-weight="normal" fill="#262626" stroke="#262626" stroke-width="0.12" transform="translate(11.4,310.6) rotate(-90)">HF Modulus [nA]</text>
<text x="216" y="377.3" font-size="9" text-anchor="middle" font-weight="normal" fill="#262626" stroke="#262626" stroke-width="0.12" >0</text>
<text x="256.5" y="377.3" font-size="9" text-anchor="middle" font-weight="normal" fill="#262626" stroke="#262626" stroke-width="0.12" >100</text>
<text x="297" y="377.3" font-size="9" text-anchor="middle" font-weight="normal" fill="#262626" stroke="#262626" stroke-width="0.12" >200</text>
<text x="337.5" y="377.3" font-size="9" text-anchor="middle" font-weight="normal" fill="#262626" stroke="#262626" stroke-width="0.12" >300</text>
<text x="212.5" y="367.3" font-size="9" text-anchor="end" font-weight="normal" fill="#262626" stroke="#262626" stroke-width="0.12" >0</text>
<text x="212.5" y="331.7" font-size="9" text-anchor="end" font-weight="normal" fill="#262626" stroke="#262626" stroke-width="0.12" >100</text>
<text x="212.5" y="296" font-size="9" text-anchor="end" font-weight="normal" fill="#262626" stroke="#262626" stroke-width="0.12" >200</text>
<text x="212.5" y="260.4" font-size="9" text-anchor="end" font-weight="normal" fill="#262626" stroke="#262626" stroke-width="0.12" >300</text>
<text x="276.8" y="389.1" font-size="9.7" text-anchor="middle" font-weight="normal" fill="#262626" stroke="#262626" stroke-width="0.12" >LF Modulus [nA]</text>
<text x="392.9" y="377" font-size="9" text-anchor="middle" font-weight="normal" fill="#262626" stroke="#262626" stroke-width="0.12" >0</text>
<text x="433.4" y="377" font-size="9" text-anchor="middle" font-weight="normal" fill="#262626" stroke="#262626" stroke-width="0.12" >100</text>
<text x="473.9" y="377" font-size="9" text-anchor="middle" font-weight="normal" fill="#262626" stroke="#262626" stroke-width="0.12" >200</text>
<text x="514.4" y="377" font-size="9" text-anchor="middle" font-weight="normal" fill="#262626" stroke="#262626" stroke-width="0.12" >300</text>
<text x="389.4" y="367" font-size="9" text-anchor="end" font-weight="normal" fill="#262626" stroke="#262626" stroke-width="0.12" >0</text>
<text x="389.4" y="331.3" font-size="9" text-anchor="end" font-weight="normal" fill="#262626" stroke="#262626" stroke-width="0.12" >100</text>
<text x="389.4" y="295.7" font-size="9" text-anchor="end" font-weight="normal" fill="#262626" stroke="#262626" stroke-width="0.12" >200</text>
<text x="389.4" y="260" font-size="9" text-anchor="end" font-weight="normal" fill="#262626" stroke="#262626" stroke-width="0.12" >300</text>
<text x="453.6" y="388.8" font-size="9.7" text-anchor="middle" font-weight="normal" fill="#262626" stroke="#262626" stroke-width="0.12" >LF Modulus [nA]</text>
<text x="34.1" y="37.4" font-size="7.8" text-anchor="end" fill="#262626">10<tspan font-size="5.5" dy="-3.6">2</tspan></text>
<text x="173.1" y="172.6" font-size="7.8" text-anchor="start" fill="#262626">10<tspan font-size="5.5" dy="-3.6">2</tspan></text>
<text x="213.4" y="39.3" font-size="7.8" text-anchor="end" fill="#262626">10<tspan font-size="5.5" dy="-3.6">2</tspan></text>
<text x="352.6" y="174.3" font-size="7.8" text-anchor="start" fill="#262626">10<tspan font-size="5.5" dy="-3.6">2</tspan></text>
<text x="392.2" y="39.3" font-size="7.8" text-anchor="end" fill="#262626">10<tspan font-size="5.5" dy="-3.6">2</tspan></text>
<text x="530.8" y="174.3" font-size="7.8" text-anchor="start" fill="#262626">10<tspan font-size="5.5" dy="-3.6">2</tspan></text>
<text x="33.9" y="240.4" font-size="7.8" text-anchor="end" fill="#262626">10<tspan font-size="5.5" dy="-3.6">2</tspan></text>
<text x="172.8" y="376" font-size="7.8" text-anchor="start" fill="#262626">10<tspan font-size="5.5" dy="-3.6">2</tspan></text>
<text x="214.6" y="240.5" font-size="7.8" text-anchor="end" fill="#262626">10<tspan font-size="5.5" dy="-3.6">2</tspan></text>
<text x="353.1" y="376.3" font-size="7.8" text-anchor="start" fill="#262626">10<tspan font-size="5.5" dy="-3.6">2</tspan></text>
<text x="391.5" y="240.4" font-size="7.8" text-anchor="end" fill="#262626">10<tspan font-size="5.5" dy="-3.6">2</tspan></text>
<text x="530.7" y="376" font-size="7.8" text-anchor="start" fill="#262626">10<tspan font-size="5.5" dy="-3.6">2</tspan></text>
</svg></body></html>
